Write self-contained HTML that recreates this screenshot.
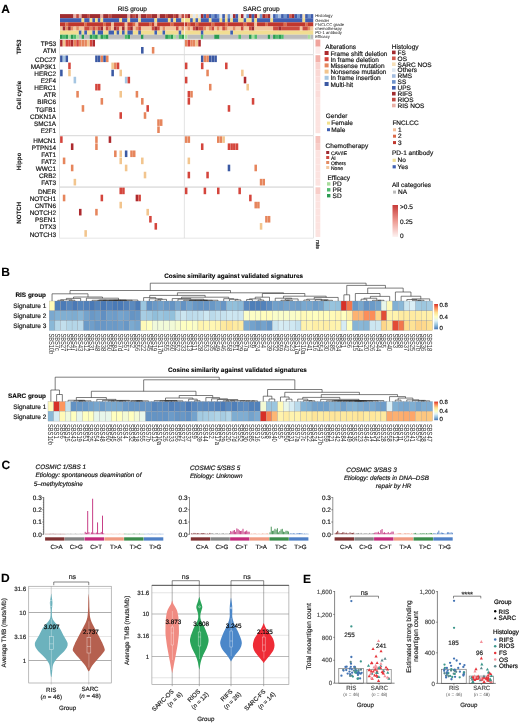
<!DOCTYPE html>
<html lang="en"><head><meta charset="utf-8"><title>Figure</title>
<style>
html,body{margin:0;padding:0;background:#fff;}
svg{display:block;font-family:"Liberation Sans", Arial, sans-serif;text-rendering:geometricPrecision;}
</style></head><body>
<svg width="520" height="723" viewBox="0 0 520 723">
<rect x="0" y="0" width="520" height="723" fill="#ffffff"/>
<g id="panelA">
<text x="1.30" y="13.20" font-size="12" font-weight="bold" fill="#000" stroke="#000" stroke-width="0.1">A</text>
<text x="132.30" y="10.80" font-size="6.5" text-anchor="middle" fill="#111" stroke="#111" stroke-width="0.17">RIS group</text>
<text x="261.30" y="10.80" font-size="6.5" text-anchor="middle" fill="#111" stroke="#111" stroke-width="0.17">SARC group</text>
<rect x="60.00" y="14.10" width="13.54" height="4.17" fill="#a02d30"/>
<rect x="73.49" y="14.10" width="2.75" height="4.17" fill="#eab0a6"/>
<rect x="76.19" y="14.10" width="2.75" height="4.17" fill="#bf4a42"/>
<rect x="78.88" y="14.10" width="2.75" height="4.17" fill="#eab0a6"/>
<rect x="81.58" y="14.10" width="5.45" height="4.17" fill="#a02d30"/>
<rect x="86.98" y="14.10" width="2.75" height="4.17" fill="#bf4a42"/>
<rect x="89.68" y="14.10" width="10.84" height="4.17" fill="#a02d30"/>
<rect x="100.47" y="14.10" width="2.75" height="4.17" fill="#eab0a6"/>
<rect x="103.17" y="14.10" width="5.45" height="4.17" fill="#a02d30"/>
<rect x="108.56" y="14.10" width="2.75" height="4.17" fill="#bf4a42"/>
<rect x="111.26" y="14.10" width="16.24" height="4.17" fill="#a02d30"/>
<rect x="127.45" y="14.10" width="2.75" height="4.17" fill="#eab0a6"/>
<rect x="130.14" y="14.10" width="2.75" height="4.17" fill="#a02d30"/>
<rect x="132.84" y="14.10" width="2.75" height="4.17" fill="#bf4a42"/>
<rect x="135.54" y="14.10" width="2.75" height="4.17" fill="#a02d30"/>
<rect x="138.24" y="14.10" width="2.75" height="4.17" fill="#eab0a6"/>
<rect x="140.93" y="14.10" width="5.45" height="4.17" fill="#a02d30"/>
<rect x="146.33" y="14.10" width="5.45" height="4.17" fill="#bf4a42"/>
<rect x="151.73" y="14.10" width="5.45" height="4.17" fill="#a02d30"/>
<rect x="157.12" y="14.10" width="2.75" height="4.17" fill="#eab0a6"/>
<rect x="159.82" y="14.10" width="5.45" height="4.17" fill="#a02d30"/>
<rect x="165.22" y="14.10" width="2.75" height="4.17" fill="#bf4a42"/>
<rect x="167.91" y="14.10" width="5.45" height="4.17" fill="#a02d30"/>
<rect x="173.31" y="14.10" width="2.75" height="4.17" fill="#bf4a42"/>
<rect x="176.01" y="14.10" width="2.75" height="4.17" fill="#a02d30"/>
<rect x="178.70" y="14.10" width="2.75" height="4.17" fill="#eab0a6"/>
<rect x="181.40" y="14.10" width="2.75" height="4.17" fill="#bf4a42"/>
<rect x="184.80" y="14.10" width="2.73" height="4.17" fill="#cf5a4e"/>
<rect x="187.48" y="14.10" width="2.73" height="4.17" fill="#a32b30"/>
<rect x="190.15" y="14.10" width="2.73" height="4.17" fill="#f6dfb8"/>
<rect x="192.83" y="14.10" width="2.73" height="4.17" fill="#dfe8f1"/>
<rect x="195.50" y="14.10" width="2.73" height="4.17" fill="#f6dfb8"/>
<rect x="198.18" y="14.10" width="2.73" height="4.17" fill="#dfe8f1"/>
<rect x="200.85" y="14.10" width="2.73" height="4.17" fill="#a32b30"/>
<rect x="203.53" y="14.10" width="2.73" height="4.17" fill="#3f5dab"/>
<rect x="206.20" y="14.10" width="2.73" height="4.17" fill="#cf5a4e"/>
<rect x="208.88" y="14.10" width="2.73" height="4.17" fill="#3f5dab"/>
<rect x="211.55" y="14.10" width="2.73" height="4.17" fill="#6f93cc"/>
<rect x="214.23" y="14.10" width="2.73" height="4.17" fill="#3f5dab"/>
<rect x="216.90" y="14.10" width="2.73" height="4.17" fill="#6f93cc"/>
<rect x="219.58" y="14.10" width="2.73" height="4.17" fill="#dfe8f1"/>
<rect x="222.25" y="14.10" width="2.73" height="4.17" fill="#3f5dab"/>
<rect x="224.93" y="14.10" width="2.73" height="4.17" fill="#f6dfb8"/>
<rect x="227.60" y="14.10" width="2.73" height="4.17" fill="#6f93cc"/>
<rect x="230.28" y="14.10" width="2.73" height="4.17" fill="#dfe8f1"/>
<rect x="232.95" y="14.10" width="2.73" height="4.17" fill="#a32b30"/>
<rect x="235.62" y="14.10" width="2.73" height="4.17" fill="#3f5dab"/>
<rect x="238.30" y="14.10" width="2.73" height="4.17" fill="#f6dfb8"/>
<rect x="240.98" y="14.10" width="2.73" height="4.17" fill="#a32b30"/>
<rect x="243.65" y="14.10" width="2.73" height="4.17" fill="#dfe8f1"/>
<rect x="246.33" y="14.10" width="2.73" height="4.17" fill="#6f93cc"/>
<rect x="249.00" y="14.10" width="2.73" height="4.17" fill="#a32b30"/>
<rect x="251.68" y="14.10" width="2.73" height="4.17" fill="#3f5dab"/>
<rect x="254.35" y="14.10" width="2.73" height="4.17" fill="#a32b30"/>
<rect x="257.03" y="14.10" width="2.73" height="4.17" fill="#f6dfb8"/>
<rect x="259.70" y="14.10" width="2.73" height="4.17" fill="#6f93cc"/>
<rect x="262.38" y="14.10" width="2.73" height="4.17" fill="#a32b30"/>
<rect x="265.05" y="14.10" width="2.73" height="4.17" fill="#cf5a4e"/>
<rect x="267.73" y="14.10" width="2.73" height="4.17" fill="#a32b30"/>
<rect x="270.40" y="14.10" width="2.73" height="4.17" fill="#dfe8f1"/>
<rect x="273.08" y="14.10" width="2.73" height="4.17" fill="#3f5dab"/>
<rect x="275.75" y="14.10" width="2.73" height="4.17" fill="#6f93cc"/>
<rect x="278.43" y="14.10" width="2.73" height="4.17" fill="#a3bcdf"/>
<rect x="281.10" y="14.10" width="2.73" height="4.17" fill="#3f5dab"/>
<rect x="283.78" y="14.10" width="2.73" height="4.17" fill="#6f93cc"/>
<rect x="286.45" y="14.10" width="2.73" height="4.17" fill="#3f5dab"/>
<rect x="289.12" y="14.10" width="2.73" height="4.17" fill="#cf5a4e"/>
<rect x="291.80" y="14.10" width="2.73" height="4.17" fill="#a32b30"/>
<rect x="294.48" y="14.10" width="2.73" height="4.17" fill="#3f5dab"/>
<rect x="297.15" y="14.10" width="2.73" height="4.17" fill="#6f93cc"/>
<rect x="299.83" y="14.10" width="2.73" height="4.17" fill="#3f5dab"/>
<rect x="302.50" y="14.10" width="2.73" height="4.17" fill="#f6dfb8"/>
<rect x="305.18" y="14.10" width="2.73" height="4.17" fill="#3f5dab"/>
<rect x="307.85" y="14.10" width="2.73" height="4.17" fill="#6f93cc"/>
<rect x="310.53" y="14.10" width="2.73" height="4.17" fill="#3f5dab"/>
<rect x="60.00" y="18.22" width="21.63" height="4.17" fill="#3f5fb2"/>
<rect x="81.58" y="18.22" width="2.75" height="4.17" fill="#f2e08c"/>
<rect x="84.28" y="18.22" width="5.45" height="4.17" fill="#3f5fb2"/>
<rect x="89.68" y="18.22" width="2.75" height="4.17" fill="#f2e08c"/>
<rect x="92.37" y="18.22" width="2.75" height="4.17" fill="#3f5fb2"/>
<rect x="95.07" y="18.22" width="2.75" height="4.17" fill="#f2e08c"/>
<rect x="97.77" y="18.22" width="2.75" height="4.17" fill="#3f5fb2"/>
<rect x="100.47" y="18.22" width="2.75" height="4.17" fill="#f2e08c"/>
<rect x="103.17" y="18.22" width="16.24" height="4.17" fill="#3f5fb2"/>
<rect x="119.35" y="18.22" width="2.75" height="4.17" fill="#f2e08c"/>
<rect x="122.05" y="18.22" width="5.45" height="4.17" fill="#3f5fb2"/>
<rect x="127.45" y="18.22" width="2.75" height="4.17" fill="#f2e08c"/>
<rect x="130.14" y="18.22" width="8.14" height="4.17" fill="#3f5fb2"/>
<rect x="138.24" y="18.22" width="2.75" height="4.17" fill="#f2e08c"/>
<rect x="140.93" y="18.22" width="13.54" height="4.17" fill="#3f5fb2"/>
<rect x="154.42" y="18.22" width="2.75" height="4.17" fill="#f2e08c"/>
<rect x="157.12" y="18.22" width="10.84" height="4.17" fill="#3f5fb2"/>
<rect x="167.91" y="18.22" width="2.75" height="4.17" fill="#f2e08c"/>
<rect x="170.61" y="18.22" width="2.75" height="4.17" fill="#3f5fb2"/>
<rect x="173.31" y="18.22" width="2.75" height="4.17" fill="#f2e08c"/>
<rect x="176.01" y="18.22" width="5.45" height="4.17" fill="#3f5fb2"/>
<rect x="181.40" y="18.22" width="2.75" height="4.17" fill="#f2e08c"/>
<rect x="184.80" y="18.22" width="5.40" height="4.17" fill="#f2e08c"/>
<rect x="190.15" y="18.22" width="2.73" height="4.17" fill="#3f5fb2"/>
<rect x="192.83" y="18.22" width="2.73" height="4.17" fill="#f2e08c"/>
<rect x="195.50" y="18.22" width="2.73" height="4.17" fill="#3f5fb2"/>
<rect x="198.18" y="18.22" width="2.73" height="4.17" fill="#f2e08c"/>
<rect x="200.85" y="18.22" width="8.08" height="4.17" fill="#3f5fb2"/>
<rect x="208.88" y="18.22" width="2.73" height="4.17" fill="#f2e08c"/>
<rect x="211.55" y="18.22" width="8.08" height="4.17" fill="#3f5fb2"/>
<rect x="219.58" y="18.22" width="2.73" height="4.17" fill="#f2e08c"/>
<rect x="222.25" y="18.22" width="2.73" height="4.17" fill="#3f5fb2"/>
<rect x="224.93" y="18.22" width="2.73" height="4.17" fill="#f2e08c"/>
<rect x="227.60" y="18.22" width="2.73" height="4.17" fill="#3f5fb2"/>
<rect x="230.28" y="18.22" width="2.73" height="4.17" fill="#f2e08c"/>
<rect x="232.95" y="18.22" width="5.40" height="4.17" fill="#3f5fb2"/>
<rect x="238.30" y="18.22" width="5.40" height="4.17" fill="#f2e08c"/>
<rect x="243.65" y="18.22" width="2.73" height="4.17" fill="#3f5fb2"/>
<rect x="246.33" y="18.22" width="5.40" height="4.17" fill="#f2e08c"/>
<rect x="251.68" y="18.22" width="2.73" height="4.17" fill="#3f5fb2"/>
<rect x="254.35" y="18.22" width="2.73" height="4.17" fill="#f2e08c"/>
<rect x="257.03" y="18.22" width="13.43" height="4.17" fill="#3f5fb2"/>
<rect x="270.40" y="18.22" width="2.73" height="4.17" fill="#f2e08c"/>
<rect x="273.08" y="18.22" width="29.48" height="4.17" fill="#3f5fb2"/>
<rect x="302.50" y="18.22" width="2.73" height="4.17" fill="#f2e08c"/>
<rect x="305.18" y="18.22" width="8.08" height="4.17" fill="#3f5fb2"/>
<rect x="60.00" y="22.34" width="5.45" height="4.17" fill="#c0372d"/>
<rect x="65.40" y="22.34" width="2.75" height="4.17" fill="#dc6a48"/>
<rect x="68.09" y="22.34" width="16.24" height="4.17" fill="#c0372d"/>
<rect x="84.28" y="22.34" width="2.75" height="4.17" fill="#dc6a48"/>
<rect x="86.98" y="22.34" width="16.24" height="4.17" fill="#c0372d"/>
<rect x="103.17" y="22.34" width="2.75" height="4.17" fill="#dc6a48"/>
<rect x="105.86" y="22.34" width="5.45" height="4.17" fill="#c0372d"/>
<rect x="111.26" y="22.34" width="2.75" height="4.17" fill="#f3bf98"/>
<rect x="113.96" y="22.34" width="10.84" height="4.17" fill="#c0372d"/>
<rect x="124.75" y="22.34" width="2.75" height="4.17" fill="#f3bf98"/>
<rect x="127.45" y="22.34" width="5.45" height="4.17" fill="#c0372d"/>
<rect x="132.84" y="22.34" width="2.75" height="4.17" fill="#dc6a48"/>
<rect x="135.54" y="22.34" width="2.75" height="4.17" fill="#f3bf98"/>
<rect x="138.24" y="22.34" width="10.84" height="4.17" fill="#c0372d"/>
<rect x="149.03" y="22.34" width="2.75" height="4.17" fill="#dc6a48"/>
<rect x="151.73" y="22.34" width="2.75" height="4.17" fill="#c0372d"/>
<rect x="154.42" y="22.34" width="2.75" height="4.17" fill="#f3bf98"/>
<rect x="157.12" y="22.34" width="13.54" height="4.17" fill="#c0372d"/>
<rect x="170.61" y="22.34" width="2.75" height="4.17" fill="#dc6a48"/>
<rect x="173.31" y="22.34" width="10.84" height="4.17" fill="#c0372d"/>
<rect x="184.80" y="22.34" width="2.73" height="4.17" fill="#c0372d"/>
<rect x="187.48" y="22.34" width="2.73" height="4.17" fill="#dc6a48"/>
<rect x="190.15" y="22.34" width="5.40" height="4.17" fill="#c0372d"/>
<rect x="195.50" y="22.34" width="2.73" height="4.17" fill="#dc6a48"/>
<rect x="198.18" y="22.34" width="13.43" height="4.17" fill="#c0372d"/>
<rect x="211.55" y="22.34" width="2.73" height="4.17" fill="#dc6a48"/>
<rect x="214.23" y="22.34" width="10.75" height="4.17" fill="#c0372d"/>
<rect x="224.93" y="22.34" width="2.73" height="4.17" fill="#dc6a48"/>
<rect x="227.60" y="22.34" width="16.10" height="4.17" fill="#c0372d"/>
<rect x="243.65" y="22.34" width="2.73" height="4.17" fill="#dc6a48"/>
<rect x="246.33" y="22.34" width="8.08" height="4.17" fill="#c0372d"/>
<rect x="254.35" y="22.34" width="2.73" height="4.17" fill="#f3bf98"/>
<rect x="257.03" y="22.34" width="8.07" height="4.17" fill="#c0372d"/>
<rect x="265.05" y="22.34" width="2.73" height="4.17" fill="#dc6a48"/>
<rect x="267.73" y="22.34" width="16.10" height="4.17" fill="#c0372d"/>
<rect x="283.78" y="22.34" width="2.73" height="4.17" fill="#dc6a48"/>
<rect x="286.45" y="22.34" width="18.77" height="4.17" fill="#c0372d"/>
<rect x="305.18" y="22.34" width="2.73" height="4.17" fill="#dc6a48"/>
<rect x="307.85" y="22.34" width="5.40" height="4.17" fill="#c0372d"/>
<rect x="60.00" y="26.46" width="2.75" height="4.17" fill="#f3c79e"/>
<rect x="62.70" y="26.46" width="2.75" height="4.17" fill="#9e2a30"/>
<rect x="65.40" y="26.46" width="2.75" height="4.17" fill="#e38b63"/>
<rect x="68.09" y="26.46" width="2.75" height="4.17" fill="#9e2a30"/>
<rect x="70.79" y="26.46" width="2.75" height="4.17" fill="#e38b63"/>
<rect x="73.49" y="26.46" width="2.75" height="4.17" fill="#f3c79e"/>
<rect x="76.19" y="26.46" width="2.75" height="4.17" fill="#e38b63"/>
<rect x="78.88" y="26.46" width="5.45" height="4.17" fill="#f3c79e"/>
<rect x="84.28" y="26.46" width="5.45" height="4.17" fill="#cb4a3f"/>
<rect x="89.68" y="26.46" width="2.75" height="4.17" fill="#e38b63"/>
<rect x="92.37" y="26.46" width="2.75" height="4.17" fill="#cb4a3f"/>
<rect x="95.07" y="26.46" width="2.75" height="4.17" fill="#e38b63"/>
<rect x="97.77" y="26.46" width="2.75" height="4.17" fill="#cb4a3f"/>
<rect x="100.47" y="26.46" width="2.75" height="4.17" fill="#9e2a30"/>
<rect x="103.17" y="26.46" width="2.75" height="4.17" fill="#f3c79e"/>
<rect x="105.86" y="26.46" width="2.75" height="4.17" fill="#cb4a3f"/>
<rect x="108.56" y="26.46" width="2.75" height="4.17" fill="#e38b63"/>
<rect x="111.26" y="26.46" width="2.75" height="4.17" fill="#f3c79e"/>
<rect x="113.96" y="26.46" width="2.75" height="4.17" fill="#9e2a30"/>
<rect x="116.65" y="26.46" width="2.75" height="4.17" fill="#cb4a3f"/>
<rect x="119.35" y="26.46" width="2.75" height="4.17" fill="#f3c79e"/>
<rect x="122.05" y="26.46" width="2.75" height="4.17" fill="#9e2a30"/>
<rect x="124.75" y="26.46" width="2.75" height="4.17" fill="#f3c79e"/>
<rect x="127.45" y="26.46" width="2.75" height="4.17" fill="#cb4a3f"/>
<rect x="130.14" y="26.46" width="2.75" height="4.17" fill="#9e2a30"/>
<rect x="132.84" y="26.46" width="2.75" height="4.17" fill="#f3c79e"/>
<rect x="135.54" y="26.46" width="2.75" height="4.17" fill="#e38b63"/>
<rect x="138.24" y="26.46" width="2.75" height="4.17" fill="#cb4a3f"/>
<rect x="140.93" y="26.46" width="10.84" height="4.17" fill="#f3c79e"/>
<rect x="151.73" y="26.46" width="2.75" height="4.17" fill="#cb4a3f"/>
<rect x="154.42" y="26.46" width="2.75" height="4.17" fill="#9e2a30"/>
<rect x="157.12" y="26.46" width="2.75" height="4.17" fill="#cb4a3f"/>
<rect x="159.82" y="26.46" width="2.75" height="4.17" fill="#f3c79e"/>
<rect x="162.52" y="26.46" width="2.75" height="4.17" fill="#e38b63"/>
<rect x="165.22" y="26.46" width="10.84" height="4.17" fill="#f3c79e"/>
<rect x="176.01" y="26.46" width="2.75" height="4.17" fill="#cb4a3f"/>
<rect x="178.70" y="26.46" width="2.75" height="4.17" fill="#f3c79e"/>
<rect x="181.40" y="26.46" width="2.75" height="4.17" fill="#e38b63"/>
<rect x="184.80" y="26.46" width="2.73" height="4.17" fill="#f3c79e"/>
<rect x="187.48" y="26.46" width="2.73" height="4.17" fill="#e38b63"/>
<rect x="190.15" y="26.46" width="2.73" height="4.17" fill="#f3c79e"/>
<rect x="192.83" y="26.46" width="2.73" height="4.17" fill="#cb4a3f"/>
<rect x="195.50" y="26.46" width="2.73" height="4.17" fill="#9e2a30"/>
<rect x="198.18" y="26.46" width="5.40" height="4.17" fill="#cb4a3f"/>
<rect x="203.53" y="26.46" width="2.73" height="4.17" fill="#e38b63"/>
<rect x="206.20" y="26.46" width="2.73" height="4.17" fill="#f3c79e"/>
<rect x="208.88" y="26.46" width="2.73" height="4.17" fill="#e38b63"/>
<rect x="211.55" y="26.46" width="2.73" height="4.17" fill="#cb4a3f"/>
<rect x="214.23" y="26.46" width="2.73" height="4.17" fill="#f3c79e"/>
<rect x="216.90" y="26.46" width="2.73" height="4.17" fill="#e38b63"/>
<rect x="219.58" y="26.46" width="2.73" height="4.17" fill="#f3c79e"/>
<rect x="222.25" y="26.46" width="2.73" height="4.17" fill="#cb4a3f"/>
<rect x="224.93" y="26.46" width="2.73" height="4.17" fill="#e38b63"/>
<rect x="227.60" y="26.46" width="5.40" height="4.17" fill="#f3c79e"/>
<rect x="232.95" y="26.46" width="2.73" height="4.17" fill="#e38b63"/>
<rect x="235.62" y="26.46" width="5.40" height="4.17" fill="#f3c79e"/>
<rect x="240.98" y="26.46" width="2.73" height="4.17" fill="#cb4a3f"/>
<rect x="243.65" y="26.46" width="5.40" height="4.17" fill="#f3c79e"/>
<rect x="249.00" y="26.46" width="2.73" height="4.17" fill="#cb4a3f"/>
<rect x="251.68" y="26.46" width="2.73" height="4.17" fill="#9e2a30"/>
<rect x="254.35" y="26.46" width="18.78" height="4.17" fill="#f3c79e"/>
<rect x="273.08" y="26.46" width="5.40" height="4.17" fill="#cb4a3f"/>
<rect x="278.43" y="26.46" width="2.73" height="4.17" fill="#9e2a30"/>
<rect x="281.10" y="26.46" width="18.78" height="4.17" fill="#cb4a3f"/>
<rect x="299.83" y="26.46" width="2.73" height="4.17" fill="#f3c79e"/>
<rect x="302.50" y="26.46" width="5.40" height="4.17" fill="#cb4a3f"/>
<rect x="307.85" y="26.46" width="2.73" height="4.17" fill="#e38b63"/>
<rect x="310.53" y="26.46" width="2.73" height="4.17" fill="#f3c79e"/>
<rect x="60.00" y="30.58" width="18.93" height="4.17" fill="#f1dd92"/>
<rect x="78.88" y="30.58" width="2.75" height="4.17" fill="#3f5fb2"/>
<rect x="81.58" y="30.58" width="2.75" height="4.17" fill="#f1dd92"/>
<rect x="84.28" y="30.58" width="2.75" height="4.17" fill="#3f5fb2"/>
<rect x="86.98" y="30.58" width="5.45" height="4.17" fill="#f1dd92"/>
<rect x="92.37" y="30.58" width="2.75" height="4.17" fill="#3f5fb2"/>
<rect x="95.07" y="30.58" width="2.75" height="4.17" fill="#f1dd92"/>
<rect x="97.77" y="30.58" width="5.45" height="4.17" fill="#3f5fb2"/>
<rect x="103.17" y="30.58" width="5.45" height="4.17" fill="#f1dd92"/>
<rect x="108.56" y="30.58" width="5.45" height="4.17" fill="#3f5fb2"/>
<rect x="113.96" y="30.58" width="2.75" height="4.17" fill="#f1dd92"/>
<rect x="116.65" y="30.58" width="2.75" height="4.17" fill="#3f5fb2"/>
<rect x="119.35" y="30.58" width="2.75" height="4.17" fill="#f1dd92"/>
<rect x="122.05" y="30.58" width="2.75" height="4.17" fill="#3f5fb2"/>
<rect x="124.75" y="30.58" width="2.75" height="4.17" fill="#f1dd92"/>
<rect x="127.45" y="30.58" width="5.45" height="4.17" fill="#3f5fb2"/>
<rect x="132.84" y="30.58" width="5.45" height="4.17" fill="#f1dd92"/>
<rect x="138.24" y="30.58" width="2.75" height="4.17" fill="#3f5fb2"/>
<rect x="140.93" y="30.58" width="13.54" height="4.17" fill="#f1dd92"/>
<rect x="154.42" y="30.58" width="2.75" height="4.17" fill="#3f5fb2"/>
<rect x="157.12" y="30.58" width="5.45" height="4.17" fill="#f1dd92"/>
<rect x="162.52" y="30.58" width="2.75" height="4.17" fill="#3f5fb2"/>
<rect x="165.22" y="30.58" width="13.54" height="4.17" fill="#f1dd92"/>
<rect x="178.70" y="30.58" width="2.75" height="4.17" fill="#3f5fb2"/>
<rect x="181.40" y="30.58" width="2.75" height="4.17" fill="#f1dd92"/>
<rect x="184.80" y="30.58" width="16.10" height="4.17" fill="#f1dd92"/>
<rect x="200.85" y="30.58" width="2.73" height="4.17" fill="#3f5fb2"/>
<rect x="203.53" y="30.58" width="26.80" height="4.17" fill="#f1dd92"/>
<rect x="230.28" y="30.58" width="2.73" height="4.17" fill="#3f5fb2"/>
<rect x="232.95" y="30.58" width="80.30" height="4.17" fill="#f1dd92"/>
<rect x="60.00" y="34.70" width="2.75" height="4.17" fill="#2b9b52"/>
<rect x="62.70" y="34.70" width="2.75" height="4.17" fill="#4fba6c"/>
<rect x="65.40" y="34.70" width="2.75" height="4.17" fill="#2b9b52"/>
<rect x="68.09" y="34.70" width="2.75" height="4.17" fill="#a9dd9c"/>
<rect x="70.79" y="34.70" width="2.75" height="4.17" fill="#2b9b52"/>
<rect x="73.49" y="34.70" width="2.75" height="4.17" fill="#4fba6c"/>
<rect x="76.19" y="34.70" width="2.75" height="4.17" fill="#a9dd9c"/>
<rect x="78.88" y="34.70" width="2.75" height="4.17" fill="#bcbcbc"/>
<rect x="81.58" y="34.70" width="2.75" height="4.17" fill="#2b9b52"/>
<rect x="84.28" y="34.70" width="5.45" height="4.17" fill="#bcbcbc"/>
<rect x="89.68" y="34.70" width="2.75" height="4.17" fill="#2b9b52"/>
<rect x="92.37" y="34.70" width="2.75" height="4.17" fill="#4fba6c"/>
<rect x="95.07" y="34.70" width="2.75" height="4.17" fill="#2b9b52"/>
<rect x="97.77" y="34.70" width="2.75" height="4.17" fill="#a9dd9c"/>
<rect x="100.47" y="34.70" width="2.75" height="4.17" fill="#2b9b52"/>
<rect x="103.17" y="34.70" width="2.75" height="4.17" fill="#4fba6c"/>
<rect x="105.86" y="34.70" width="2.75" height="4.17" fill="#2b9b52"/>
<rect x="108.56" y="34.70" width="16.24" height="4.17" fill="#bcbcbc"/>
<rect x="124.75" y="34.70" width="2.75" height="4.17" fill="#4fba6c"/>
<rect x="127.45" y="34.70" width="2.75" height="4.17" fill="#2b9b52"/>
<rect x="130.14" y="34.70" width="10.84" height="4.17" fill="#bcbcbc"/>
<rect x="140.93" y="34.70" width="2.75" height="4.17" fill="#2b9b52"/>
<rect x="143.63" y="34.70" width="21.63" height="4.17" fill="#bcbcbc"/>
<rect x="165.22" y="34.70" width="2.75" height="4.17" fill="#2b9b52"/>
<rect x="167.91" y="34.70" width="2.75" height="4.17" fill="#4fba6c"/>
<rect x="170.61" y="34.70" width="2.75" height="4.17" fill="#2b9b52"/>
<rect x="173.31" y="34.70" width="2.75" height="4.17" fill="#a9dd9c"/>
<rect x="176.01" y="34.70" width="2.75" height="4.17" fill="#bcbcbc"/>
<rect x="178.70" y="34.70" width="2.75" height="4.17" fill="#4fba6c"/>
<rect x="181.40" y="34.70" width="2.75" height="4.17" fill="#2b9b52"/>
<rect x="184.80" y="34.70" width="2.73" height="4.17" fill="#a9dd9c"/>
<rect x="187.48" y="34.70" width="13.43" height="4.17" fill="#bcbcbc"/>
<rect x="200.85" y="34.70" width="2.73" height="4.17" fill="#4fba6c"/>
<rect x="203.53" y="34.70" width="10.75" height="4.17" fill="#bcbcbc"/>
<rect x="214.23" y="34.70" width="5.40" height="4.17" fill="#2b9b52"/>
<rect x="219.58" y="34.70" width="18.77" height="4.17" fill="#bcbcbc"/>
<rect x="238.30" y="34.70" width="2.73" height="4.17" fill="#4fba6c"/>
<rect x="240.98" y="34.70" width="8.08" height="4.17" fill="#bcbcbc"/>
<rect x="249.00" y="34.70" width="2.73" height="4.17" fill="#2b9b52"/>
<rect x="251.68" y="34.70" width="2.73" height="4.17" fill="#a9dd9c"/>
<rect x="254.35" y="34.70" width="2.73" height="4.17" fill="#4fba6c"/>
<rect x="257.03" y="34.70" width="10.75" height="4.17" fill="#bcbcbc"/>
<rect x="267.73" y="34.70" width="2.73" height="4.17" fill="#2b9b52"/>
<rect x="270.40" y="34.70" width="2.73" height="4.17" fill="#bcbcbc"/>
<rect x="273.08" y="34.70" width="2.73" height="4.17" fill="#2b9b52"/>
<rect x="275.75" y="34.70" width="2.73" height="4.17" fill="#4fba6c"/>
<rect x="278.43" y="34.70" width="2.73" height="4.17" fill="#2b9b52"/>
<rect x="281.10" y="34.70" width="2.73" height="4.17" fill="#4fba6c"/>
<rect x="283.78" y="34.70" width="24.12" height="4.17" fill="#bcbcbc"/>
<rect x="307.85" y="34.70" width="2.73" height="4.17" fill="#a9dd9c"/>
<rect x="310.53" y="34.70" width="2.73" height="4.17" fill="#bcbcbc"/>
<text x="315.30" y="17.40" font-size="4.2" fill="#111">Histology</text>
<text x="315.30" y="21.52" font-size="4.2" fill="#111">Gender</text>
<text x="315.30" y="25.64" font-size="4.2" fill="#111">FNCLCC grade</text>
<text x="315.30" y="29.76" font-size="4.2" fill="#111">chemotherapy</text>
<text x="315.30" y="33.88" font-size="4.2" fill="#111">PD-1 antibody</text>
<text x="315.30" y="38.00" font-size="4.2" fill="#111">Efficacy</text>
<rect x="59.7" y="39.6" width="253.6" height="14.70" fill="none" stroke="#d4d4d4" stroke-width="0.6"/>
<line x1="184.35" y1="39.60" x2="184.35" y2="54.30" stroke="#cfcfcf" stroke-width="0.6"/>
<text x="21.20" y="46.95" font-size="6.2" text-anchor="middle" font-weight="bold" fill="#111" stroke="#111" stroke-width="0.1" transform="rotate(-90 21.20 46.95)">TP53</text>
<text x="56.00" y="46.30" font-size="6.4" text-anchor="end" fill="#111" stroke="#111" stroke-width="0.17">TP53</text>
<rect x="60.10" y="39.90" width="2.55" height="6.60" fill="#ad2a2e"/>
<rect x="62.80" y="39.90" width="2.55" height="6.60" fill="#f2c58e"/>
<rect x="65.50" y="39.90" width="2.55" height="6.60" fill="#d4453c"/>
<rect x="68.19" y="39.90" width="2.55" height="6.60" fill="#d4453c"/>
<rect x="70.89" y="39.90" width="2.55" height="6.60" fill="#ad2a2e"/>
<rect x="73.59" y="39.90" width="2.55" height="6.60" fill="#e6855c"/>
<rect x="76.29" y="39.90" width="2.55" height="6.60" fill="#d4453c"/>
<rect x="78.98" y="39.90" width="2.55" height="6.60" fill="#e6855c"/>
<rect x="81.68" y="39.90" width="2.55" height="6.60" fill="#e6855c"/>
<rect x="84.38" y="39.90" width="2.55" height="6.60" fill="#e6855c"/>
<rect x="87.08" y="39.90" width="2.55" height="6.60" fill="#f2c58e"/>
<rect x="89.78" y="39.90" width="2.55" height="6.60" fill="#d4453c"/>
<rect x="92.47" y="39.90" width="2.55" height="6.60" fill="#ad2a2e"/>
<rect x="184.90" y="39.90" width="2.53" height="6.60" fill="#e6855c"/>
<rect x="187.58" y="39.90" width="2.53" height="6.60" fill="#d4453c"/>
<rect x="190.25" y="39.90" width="2.53" height="6.60" fill="#e6855c"/>
<rect x="192.93" y="39.90" width="2.53" height="6.60" fill="#e6855c"/>
<rect x="195.60" y="39.90" width="2.53" height="6.60" fill="#f2c58e"/>
<rect x="198.28" y="39.90" width="2.53" height="6.60" fill="#ad2a2e"/>
<rect x="315.50" y="39.60" width="4.80" height="7.09" fill="#f0a39c"/>
<text x="56.00" y="53.39" font-size="6.4" text-anchor="end" fill="#111" stroke="#111" stroke-width="0.17">ATM</text>
<rect x="141.03" y="46.99" width="2.55" height="6.60" fill="#3b59a3"/>
<rect x="151.83" y="46.99" width="2.55" height="6.60" fill="#e6855c"/>
<rect x="315.50" y="46.69" width="4.80" height="7.09" fill="#fdeceb"/>
<rect x="59.7" y="54.9" width="253.6" height="80.50" fill="none" stroke="#d4d4d4" stroke-width="0.6"/>
<line x1="184.35" y1="54.90" x2="184.35" y2="135.40" stroke="#cfcfcf" stroke-width="0.6"/>
<text x="21.20" y="95.15" font-size="6.2" text-anchor="middle" font-weight="bold" fill="#111" stroke="#111" stroke-width="0.1" transform="rotate(-90 21.20 95.15)">Cell cycle</text>
<text x="56.00" y="61.90" font-size="6.4" text-anchor="end" fill="#111" stroke="#111" stroke-width="0.17">CDC27</text>
<rect x="60.10" y="55.50" width="2.55" height="6.60" fill="#3b59a3"/>
<rect x="62.80" y="55.50" width="2.55" height="6.60" fill="#a5c6e2"/>
<rect x="65.50" y="55.50" width="2.55" height="6.60" fill="#3b59a3"/>
<rect x="95.17" y="55.50" width="2.55" height="6.60" fill="#3b59a3"/>
<rect x="97.87" y="55.50" width="2.55" height="6.60" fill="#3b59a3"/>
<rect x="100.57" y="55.50" width="2.55" height="6.60" fill="#e6855c"/>
<rect x="103.27" y="55.50" width="2.55" height="6.60" fill="#3b59a3"/>
<rect x="105.96" y="55.50" width="2.55" height="6.60" fill="#e6855c"/>
<rect x="200.95" y="55.50" width="2.53" height="6.60" fill="#3b59a3"/>
<rect x="203.62" y="55.50" width="2.53" height="6.60" fill="#e6855c"/>
<rect x="206.30" y="55.50" width="2.53" height="6.60" fill="#e6855c"/>
<rect x="208.97" y="55.50" width="2.53" height="6.60" fill="#3b59a3"/>
<rect x="211.65" y="55.50" width="2.53" height="6.60" fill="#3b59a3"/>
<rect x="214.33" y="55.50" width="2.53" height="6.60" fill="#3b59a3"/>
<rect x="315.50" y="55.20" width="4.80" height="7.09" fill="#f3b1aa"/>
<text x="56.00" y="68.99" font-size="6.4" text-anchor="end" fill="#111" stroke="#111" stroke-width="0.17">MAP3K1</text>
<rect x="68.19" y="62.59" width="2.55" height="6.60" fill="#d4453c"/>
<rect x="111.36" y="62.59" width="2.55" height="6.60" fill="#f2c58e"/>
<rect x="114.06" y="62.59" width="2.55" height="6.60" fill="#e6855c"/>
<rect x="116.75" y="62.59" width="2.55" height="6.60" fill="#d4453c"/>
<rect x="184.90" y="62.59" width="2.53" height="6.60" fill="#d4453c"/>
<rect x="200.95" y="62.59" width="2.53" height="6.60" fill="#d4453c"/>
<rect x="225.03" y="62.59" width="2.53" height="6.60" fill="#d4453c"/>
<rect x="315.50" y="62.29" width="4.80" height="7.09" fill="#f9d3cf"/>
<text x="56.00" y="76.08" font-size="6.4" text-anchor="end" fill="#111" stroke="#111" stroke-width="0.17">HERC2</text>
<rect x="60.10" y="69.68" width="2.55" height="6.60" fill="#3b59a3"/>
<rect x="68.19" y="69.68" width="2.55" height="6.60" fill="#f2c58e"/>
<rect x="111.36" y="69.68" width="2.55" height="6.60" fill="#3b59a3"/>
<rect x="119.45" y="69.68" width="2.55" height="6.60" fill="#f2c58e"/>
<rect x="206.30" y="69.68" width="2.53" height="6.60" fill="#e6855c"/>
<rect x="241.08" y="69.68" width="2.53" height="6.60" fill="#f2c58e"/>
<rect x="315.50" y="69.38" width="4.80" height="7.09" fill="#fad8d4"/>
<text x="56.00" y="83.17" font-size="6.4" text-anchor="end" fill="#111" stroke="#111" stroke-width="0.17">E2F4</text>
<rect x="73.59" y="76.77" width="2.55" height="6.60" fill="#a5c6e2"/>
<rect x="124.85" y="76.77" width="2.55" height="6.60" fill="#a5c6e2"/>
<rect x="127.55" y="76.77" width="2.55" height="6.60" fill="#d4453c"/>
<rect x="184.90" y="76.77" width="2.53" height="6.60" fill="#d4453c"/>
<rect x="243.75" y="76.77" width="2.53" height="6.60" fill="#ad2a2e"/>
<rect x="315.50" y="76.47" width="4.80" height="7.09" fill="#fbdcd9"/>
<text x="56.00" y="90.26" font-size="6.4" text-anchor="end" fill="#111" stroke="#111" stroke-width="0.17">HERC1</text>
<rect x="95.17" y="83.86" width="2.55" height="6.60" fill="#d4453c"/>
<rect x="97.87" y="83.86" width="2.55" height="6.60" fill="#d4453c"/>
<rect x="208.97" y="83.86" width="2.53" height="6.60" fill="#e6855c"/>
<rect x="246.43" y="83.86" width="2.53" height="6.60" fill="#f2c58e"/>
<rect x="315.50" y="83.56" width="4.80" height="7.09" fill="#fbe0dd"/>
<text x="56.00" y="97.35" font-size="6.4" text-anchor="end" fill="#111" stroke="#111" stroke-width="0.17">ATR</text>
<rect x="76.29" y="90.95" width="2.55" height="6.60" fill="#e6855c"/>
<rect x="119.45" y="90.95" width="2.55" height="6.60" fill="#f2c58e"/>
<rect x="135.64" y="90.95" width="2.55" height="6.60" fill="#e6855c"/>
<rect x="187.58" y="90.95" width="2.53" height="6.60" fill="#d4453c"/>
<rect x="190.25" y="90.95" width="2.53" height="6.60" fill="#e6855c"/>
<rect x="315.50" y="90.65" width="4.80" height="7.09" fill="#fbdcd9"/>
<text x="56.00" y="104.44" font-size="6.4" text-anchor="end" fill="#111" stroke="#111" stroke-width="0.17">BIRC6</text>
<rect x="100.57" y="98.04" width="2.55" height="6.60" fill="#e6855c"/>
<rect x="141.03" y="98.04" width="2.55" height="6.60" fill="#e6855c"/>
<rect x="187.58" y="98.04" width="2.53" height="6.60" fill="#d4453c"/>
<rect x="251.78" y="98.04" width="2.53" height="6.60" fill="#d4453c"/>
<rect x="315.50" y="97.74" width="4.80" height="7.09" fill="#fce3e0"/>
<text x="56.00" y="111.53" font-size="6.4" text-anchor="end" fill="#111" stroke="#111" stroke-width="0.17">TGFB1</text>
<rect x="81.68" y="105.13" width="2.55" height="6.60" fill="#e6855c"/>
<rect x="146.43" y="105.13" width="2.55" height="6.60" fill="#d4453c"/>
<rect x="227.70" y="105.13" width="2.53" height="6.60" fill="#d4453c"/>
<rect x="315.50" y="104.83" width="4.80" height="7.09" fill="#fce3e0"/>
<text x="56.00" y="118.62" font-size="6.4" text-anchor="end" fill="#111" stroke="#111" stroke-width="0.17">CDKN1A</text>
<rect x="119.45" y="112.22" width="2.55" height="6.60" fill="#d4453c"/>
<rect x="143.73" y="112.22" width="2.55" height="6.60" fill="#e6855c"/>
<rect x="315.50" y="111.92" width="4.80" height="7.09" fill="#fce3e0"/>
<text x="56.00" y="125.71" font-size="6.4" text-anchor="end" fill="#111" stroke="#111" stroke-width="0.17">SMC1A</text>
<rect x="157.22" y="119.31" width="2.55" height="6.60" fill="#e6855c"/>
<rect x="159.92" y="119.31" width="2.55" height="6.60" fill="#e6855c"/>
<rect x="315.50" y="119.01" width="4.80" height="7.09" fill="#fce3e0"/>
<text x="56.00" y="132.80" font-size="6.4" text-anchor="end" fill="#111" stroke="#111" stroke-width="0.17">E2F1</text>
<rect x="157.22" y="126.40" width="2.55" height="6.60" fill="#e6855c"/>
<rect x="315.50" y="126.10" width="4.80" height="7.09" fill="#fce3e0"/>
<rect x="59.7" y="135.9" width="253.6" height="50.90" fill="none" stroke="#d4d4d4" stroke-width="0.6"/>
<line x1="184.35" y1="135.90" x2="184.35" y2="186.80" stroke="#cfcfcf" stroke-width="0.6"/>
<text x="21.20" y="161.35" font-size="6.2" text-anchor="middle" font-weight="bold" fill="#111" stroke="#111" stroke-width="0.1" transform="rotate(-90 21.20 161.35)">Hippo</text>
<text x="56.00" y="142.70" font-size="6.4" text-anchor="end" fill="#111" stroke="#111" stroke-width="0.17">HMCN1</text>
<rect x="60.10" y="136.30" width="2.55" height="6.60" fill="#d4453c"/>
<rect x="95.17" y="136.30" width="2.55" height="6.60" fill="#e6855c"/>
<rect x="108.66" y="136.30" width="2.55" height="6.60" fill="#ad2a2e"/>
<rect x="184.90" y="136.30" width="2.53" height="6.60" fill="#e6855c"/>
<rect x="187.58" y="136.30" width="2.53" height="6.60" fill="#e6855c"/>
<rect x="217.00" y="136.30" width="2.53" height="6.60" fill="#e6855c"/>
<rect x="219.68" y="136.30" width="2.53" height="6.60" fill="#e6855c"/>
<rect x="222.35" y="136.30" width="2.53" height="6.60" fill="#f2c58e"/>
<rect x="315.50" y="136.00" width="4.80" height="7.09" fill="#f6c3bd"/>
<text x="56.00" y="149.79" font-size="6.4" text-anchor="end" fill="#111" stroke="#111" stroke-width="0.17">PTPN14</text>
<rect x="70.89" y="143.39" width="2.55" height="6.60" fill="#ad2a2e"/>
<rect x="95.17" y="143.39" width="2.55" height="6.60" fill="#e6855c"/>
<rect x="200.95" y="143.39" width="2.53" height="6.60" fill="#d4453c"/>
<rect x="227.70" y="143.39" width="2.53" height="6.60" fill="#d4453c"/>
<rect x="230.38" y="143.39" width="2.53" height="6.60" fill="#d4453c"/>
<rect x="233.05" y="143.39" width="2.53" height="6.60" fill="#d4453c"/>
<rect x="235.72" y="143.39" width="2.53" height="6.60" fill="#d4453c"/>
<rect x="315.50" y="143.09" width="4.80" height="7.09" fill="#f8cdc8"/>
<text x="56.00" y="156.88" font-size="6.4" text-anchor="end" fill="#111" stroke="#111" stroke-width="0.17">FAT1</text>
<rect x="114.06" y="150.48" width="2.55" height="6.60" fill="#e6855c"/>
<rect x="119.45" y="150.48" width="2.55" height="6.60" fill="#f2c58e"/>
<rect x="124.85" y="150.48" width="2.55" height="6.60" fill="#3b59a3"/>
<rect x="130.24" y="150.48" width="2.55" height="6.60" fill="#e6855c"/>
<rect x="132.94" y="150.48" width="2.55" height="6.60" fill="#e6855c"/>
<rect x="315.50" y="150.18" width="4.80" height="7.09" fill="#fce3e0"/>
<text x="56.00" y="163.97" font-size="6.4" text-anchor="end" fill="#111" stroke="#111" stroke-width="0.17">FAT2</text>
<rect x="62.80" y="157.57" width="2.55" height="6.60" fill="#e6855c"/>
<rect x="119.45" y="157.57" width="2.55" height="6.60" fill="#f2c58e"/>
<rect x="141.03" y="157.57" width="2.55" height="6.60" fill="#f2c58e"/>
<rect x="187.58" y="157.57" width="2.53" height="6.60" fill="#f2c58e"/>
<rect x="315.50" y="157.27" width="4.80" height="7.09" fill="#fce3e0"/>
<text x="56.00" y="171.06" font-size="6.4" text-anchor="end" fill="#111" stroke="#111" stroke-width="0.17">WWC1</text>
<rect x="70.89" y="164.66" width="2.55" height="6.60" fill="#e6855c"/>
<rect x="124.85" y="164.66" width="2.55" height="6.60" fill="#f2c58e"/>
<rect x="227.70" y="164.66" width="2.53" height="6.60" fill="#3b59a3"/>
<rect x="254.45" y="164.66" width="2.53" height="6.60" fill="#e6855c"/>
<rect x="315.50" y="164.36" width="4.80" height="7.09" fill="#fce3e0"/>
<text x="56.00" y="178.15" font-size="6.4" text-anchor="end" fill="#111" stroke="#111" stroke-width="0.17">CRB2</text>
<rect x="143.73" y="171.75" width="2.55" height="6.60" fill="#f2c58e"/>
<rect x="187.58" y="171.75" width="2.53" height="6.60" fill="#d4453c"/>
<rect x="206.30" y="171.75" width="2.53" height="6.60" fill="#d4453c"/>
<rect x="315.50" y="171.45" width="4.80" height="7.09" fill="#fce3e0"/>
<text x="56.00" y="185.24" font-size="6.4" text-anchor="end" fill="#111" stroke="#111" stroke-width="0.17">FAT3</text>
<rect x="73.59" y="178.84" width="2.55" height="6.60" fill="#f2c58e"/>
<rect x="259.80" y="178.84" width="2.53" height="6.60" fill="#e6855c"/>
<rect x="262.48" y="178.84" width="2.53" height="6.60" fill="#e6855c"/>
<rect x="315.50" y="178.54" width="4.80" height="7.09" fill="#fce3e0"/>
<rect x="59.7" y="187.3" width="253.6" height="50.80" fill="none" stroke="#d4d4d4" stroke-width="0.6"/>
<line x1="184.35" y1="187.30" x2="184.35" y2="238.10" stroke="#cfcfcf" stroke-width="0.6"/>
<text x="21.20" y="212.70" font-size="6.2" text-anchor="middle" font-weight="bold" fill="#111" stroke="#111" stroke-width="0.1" transform="rotate(-90 21.20 212.70)">NOTCH</text>
<text x="56.00" y="194.00" font-size="6.4" text-anchor="end" fill="#111" stroke="#111" stroke-width="0.17">DNER</text>
<rect x="119.45" y="187.60" width="2.55" height="6.60" fill="#d4453c"/>
<rect x="122.15" y="187.60" width="2.55" height="6.60" fill="#d4453c"/>
<rect x="184.90" y="187.60" width="2.53" height="6.60" fill="#d4453c"/>
<rect x="203.62" y="187.60" width="2.53" height="6.60" fill="#d4453c"/>
<rect x="217.00" y="187.60" width="2.53" height="6.60" fill="#d4453c"/>
<rect x="238.40" y="187.60" width="2.53" height="6.60" fill="#d4453c"/>
<rect x="315.50" y="187.30" width="4.80" height="7.09" fill="#f8cdc8"/>
<text x="56.00" y="201.09" font-size="6.4" text-anchor="end" fill="#111" stroke="#111" stroke-width="0.17">NOTCH1</text>
<rect x="62.80" y="194.69" width="2.55" height="6.60" fill="#e6855c"/>
<rect x="100.57" y="194.69" width="2.55" height="6.60" fill="#d4453c"/>
<rect x="135.64" y="194.69" width="2.55" height="6.60" fill="#ad2a2e"/>
<rect x="138.34" y="194.69" width="2.55" height="6.60" fill="#d4453c"/>
<rect x="249.10" y="194.69" width="2.53" height="6.60" fill="#d4453c"/>
<rect x="315.50" y="194.39" width="4.80" height="7.09" fill="#fce3e0"/>
<text x="56.00" y="208.18" font-size="6.4" text-anchor="end" fill="#111" stroke="#111" stroke-width="0.17">CNTN6</text>
<rect x="119.45" y="201.78" width="2.55" height="6.60" fill="#f2c58e"/>
<rect x="254.45" y="201.78" width="2.53" height="6.60" fill="#e6855c"/>
<rect x="257.13" y="201.78" width="2.53" height="6.60" fill="#e6855c"/>
<rect x="315.50" y="201.48" width="4.80" height="7.09" fill="#fce3e0"/>
<text x="56.00" y="215.27" font-size="6.4" text-anchor="end" fill="#111" stroke="#111" stroke-width="0.17">NOTCH2</text>
<rect x="78.98" y="208.87" width="2.55" height="6.60" fill="#ad2a2e"/>
<rect x="95.17" y="208.87" width="2.55" height="6.60" fill="#e6855c"/>
<rect x="146.43" y="208.87" width="2.55" height="6.60" fill="#f2c58e"/>
<rect x="315.50" y="208.57" width="4.80" height="7.09" fill="#fce3e0"/>
<text x="56.00" y="222.36" font-size="6.4" text-anchor="end" fill="#111" stroke="#111" stroke-width="0.17">PSEN1</text>
<rect x="149.13" y="215.96" width="2.55" height="6.60" fill="#d4453c"/>
<rect x="265.15" y="215.96" width="2.53" height="6.60" fill="#e6855c"/>
<rect x="267.83" y="215.96" width="2.53" height="6.60" fill="#e6855c"/>
<rect x="315.50" y="215.66" width="4.80" height="7.09" fill="#fce3e0"/>
<text x="56.00" y="229.45" font-size="6.4" text-anchor="end" fill="#111" stroke="#111" stroke-width="0.17">DTX3</text>
<rect x="154.52" y="223.05" width="2.55" height="6.60" fill="#d4453c"/>
<rect x="259.80" y="223.05" width="2.53" height="6.60" fill="#f2c58e"/>
<rect x="315.50" y="222.75" width="4.80" height="7.09" fill="#fce3e0"/>
<text x="56.00" y="236.54" font-size="6.4" text-anchor="end" fill="#111" stroke="#111" stroke-width="0.17">NOTCH3</text>
<rect x="84.38" y="230.14" width="2.55" height="6.60" fill="#f2c58e"/>
<rect x="315.50" y="229.84" width="4.80" height="7.09" fill="#fce3e0"/>
<text x="316.30" y="240.00" font-size="5.4" fill="#111" stroke="#111" stroke-width="0.17" transform="rotate(90 316.30 240.00)">rate</text>
<text x="325.30" y="49.00" font-size="6.5" fill="#111" stroke="#111" stroke-width="0.17">Alterations</text>
<rect x="324.60" y="51.00" width="4.00" height="4.00" fill="#ad2a2e"/>
<text x="330.40" y="55.50" font-size="6.5" fill="#111" stroke="#111" stroke-width="0.17">Frame shift deletion</text>
<rect x="324.60" y="57.20" width="4.00" height="4.00" fill="#d4453c"/>
<text x="330.40" y="61.70" font-size="6.5" fill="#111" stroke="#111" stroke-width="0.17">In frame deletion</text>
<rect x="324.60" y="63.40" width="4.00" height="4.00" fill="#e6855c"/>
<text x="330.40" y="67.90" font-size="6.5" fill="#111" stroke="#111" stroke-width="0.17">Missense mutation</text>
<rect x="324.60" y="69.60" width="4.00" height="4.00" fill="#f2c58e"/>
<text x="330.40" y="74.10" font-size="6.5" fill="#111" stroke="#111" stroke-width="0.17">Nonsense mutation</text>
<rect x="324.60" y="75.80" width="4.00" height="4.00" fill="#a5c6e2"/>
<text x="330.40" y="80.30" font-size="6.5" fill="#111" stroke="#111" stroke-width="0.17">In frame insertion</text>
<rect x="324.60" y="82.00" width="4.00" height="4.00" fill="#3b59a3"/>
<text x="330.40" y="86.50" font-size="6.5" fill="#111" stroke="#111" stroke-width="0.17">Multi-hit</text>
<text x="325.80" y="117.80" font-size="6.5" fill="#111" stroke="#111" stroke-width="0.17">Gender</text>
<rect x="327.00" y="121.60" width="3.00" height="3.00" fill="#f2e08c"/>
<text x="331.20" y="125.10" font-size="6.5" fill="#111" stroke="#111" stroke-width="0.17">Female</text>
<rect x="327.00" y="128.20" width="3.00" height="3.00" fill="#3f5fb2"/>
<text x="331.20" y="131.70" font-size="6.5" fill="#111" stroke="#111" stroke-width="0.17">Male</text>
<text x="325.60" y="148.00" font-size="6.5" fill="#111" stroke="#111" stroke-width="0.17">Chemotherapy</text>
<rect x="326.20" y="151.00" width="3.00" height="3.00" fill="#9e2a30"/>
<text x="331.00" y="154.50" font-size="5.0" fill="#111" stroke="#111" stroke-width="0.17">CAV/IE</text>
<rect x="326.20" y="156.00" width="3.00" height="3.00" fill="#cb4a3f"/>
<text x="331.00" y="159.50" font-size="5.0" fill="#111" stroke="#111" stroke-width="0.17">AI</text>
<rect x="326.20" y="161.00" width="3.00" height="3.00" fill="#e38b63"/>
<text x="331.00" y="164.50" font-size="5.0" fill="#111" stroke="#111" stroke-width="0.17">Others</text>
<rect x="326.20" y="166.00" width="3.00" height="3.00" fill="#f3c79e"/>
<text x="331.00" y="169.50" font-size="5.0" fill="#111" stroke="#111" stroke-width="0.17">None</text>
<text x="327.40" y="179.80" font-size="6.5" fill="#111" stroke="#111" stroke-width="0.17">Efficacy</text>
<rect x="327.00" y="182.20" width="3.40" height="3.40" fill="#a9dd9c"/>
<text x="332.60" y="186.10" font-size="6.5" fill="#111" stroke="#111" stroke-width="0.17">PD</text>
<rect x="327.00" y="188.10" width="3.40" height="3.40" fill="#4fba6c"/>
<text x="332.60" y="192.00" font-size="6.5" fill="#111" stroke="#111" stroke-width="0.17">PR</text>
<rect x="327.00" y="194.00" width="3.40" height="3.40" fill="#2b9b52"/>
<text x="332.60" y="197.90" font-size="6.5" fill="#111" stroke="#111" stroke-width="0.17">SD</text>
<text x="391.80" y="48.50" font-size="6.5" fill="#111" stroke="#111" stroke-width="0.17">Histology</text>
<rect x="392.00" y="50.60" width="3.60" height="3.60" fill="#a32b30"/>
<text x="397.60" y="54.70" font-size="6.5" fill="#111" stroke="#111" stroke-width="0.17">FS</text>
<rect x="392.00" y="56.50" width="3.60" height="3.60" fill="#cf5a4e"/>
<text x="397.60" y="60.60" font-size="6.5" fill="#111" stroke="#111" stroke-width="0.17">OS</text>
<rect x="392.00" y="62.40" width="3.60" height="3.60" fill="#f6dfb8"/>
<text x="397.60" y="66.50" font-size="6.5" fill="#111" stroke="#111" stroke-width="0.17">SARC NOS</text>
<rect x="392.00" y="68.30" width="3.60" height="3.60" fill="#dfe8f1"/>
<text x="397.60" y="72.40" font-size="6.5" fill="#111" stroke="#111" stroke-width="0.17">Others</text>
<rect x="392.00" y="74.20" width="3.60" height="3.60" fill="#a3bcdf"/>
<text x="397.60" y="78.30" font-size="6.5" fill="#111" stroke="#111" stroke-width="0.17">RMS</text>
<rect x="392.00" y="80.10" width="3.60" height="3.60" fill="#6f93cc"/>
<text x="397.60" y="84.20" font-size="6.5" fill="#111" stroke="#111" stroke-width="0.17">SS</text>
<rect x="392.00" y="86.00" width="3.60" height="3.60" fill="#3f5dab"/>
<text x="397.60" y="90.10" font-size="6.5" fill="#111" stroke="#111" stroke-width="0.17">UPS</text>
<rect x="392.00" y="91.90" width="3.60" height="3.60" fill="#a02d30"/>
<text x="397.60" y="96.00" font-size="6.5" fill="#111" stroke="#111" stroke-width="0.17">RIFS</text>
<rect x="392.00" y="97.80" width="3.60" height="3.60" fill="#bf4a42"/>
<text x="397.60" y="101.90" font-size="6.5" fill="#111" stroke="#111" stroke-width="0.17">RIOS</text>
<rect x="392.00" y="103.70" width="3.60" height="3.60" fill="#eab0a6"/>
<text x="397.60" y="107.80" font-size="6.5" fill="#111" stroke="#111" stroke-width="0.17">RIS NOS</text>
<text x="392.40" y="125.30" font-size="6.5" fill="#111" stroke="#111" stroke-width="0.17">FNCLCC</text>
<rect x="393.00" y="128.30" width="3.00" height="3.00" fill="#f3bf98"/>
<text x="398.00" y="131.80" font-size="6.5" fill="#111" stroke="#111" stroke-width="0.17">1</text>
<rect x="393.00" y="134.70" width="3.00" height="3.00" fill="#dc6a48"/>
<text x="398.00" y="138.20" font-size="6.5" fill="#111" stroke="#111" stroke-width="0.17">2</text>
<rect x="393.00" y="141.10" width="3.00" height="3.00" fill="#c0372d"/>
<text x="398.00" y="144.60" font-size="6.5" fill="#111" stroke="#111" stroke-width="0.17">3</text>
<text x="392.00" y="155.30" font-size="6.5" fill="#111" stroke="#111" stroke-width="0.17">PD-1 antibody</text>
<rect x="392.60" y="158.70" width="3.20" height="3.20" fill="#f1dd92"/>
<text x="397.60" y="162.40" font-size="6.5" fill="#111" stroke="#111" stroke-width="0.17">No</text>
<rect x="392.60" y="165.20" width="3.20" height="3.20" fill="#3f5fb2"/>
<text x="397.60" y="168.90" font-size="6.5" fill="#111" stroke="#111" stroke-width="0.17">Yes</text>
<text x="392.00" y="187.30" font-size="6.5" fill="#111" stroke="#111" stroke-width="0.17">All categories</text>
<rect x="393.00" y="190.60" width="3.00" height="3.00" fill="#bcbcbc"/>
<text x="398.00" y="194.10" font-size="6.5" fill="#111" stroke="#111" stroke-width="0.17">NA</text>
<defs><linearGradient id="gA" x1="0" y1="0" x2="0" y2="1"><stop offset="0" stop-color="#c73a38"/><stop offset="0.5" stop-color="#ee9a92"/><stop offset="1" stop-color="#fdf3f2"/></linearGradient></defs>
<rect x="392.50" y="205.00" width="5.50" height="32.00" fill="url(#gA)"/>
<text x="400.00" y="209.00" font-size="6.5" fill="#111" stroke="#111" stroke-width="0.17">&gt;0.5</text>
<text x="400.00" y="223.50" font-size="6.5" fill="#111" stroke="#111" stroke-width="0.17">0.25</text>
<text x="400.00" y="238.00" font-size="6.5" fill="#111" stroke="#111" stroke-width="0.17">0</text>
</g>
<g id="panelB">
<text x="1.30" y="275.60" font-size="12" font-weight="bold" fill="#000" stroke="#000" stroke-width="0.1">B</text>
<rect x="49.20" y="301.00" width="5.72" height="9.85" fill="#fffab8" stroke="#8a8f96" stroke-width="0.25"/>
<rect x="54.92" y="301.00" width="5.72" height="9.85" fill="#4f7fb9" stroke="#8a8f96" stroke-width="0.25"/>
<rect x="60.64" y="301.00" width="5.72" height="9.85" fill="#4b7bb7" stroke="#8a8f96" stroke-width="0.25"/>
<rect x="66.37" y="301.00" width="5.72" height="9.85" fill="#5786bd" stroke="#8a8f96" stroke-width="0.25"/>
<rect x="72.09" y="301.00" width="5.72" height="9.85" fill="#4a79b6" stroke="#8a8f96" stroke-width="0.25"/>
<rect x="77.81" y="301.00" width="5.72" height="9.85" fill="#5484bc" stroke="#8a8f96" stroke-width="0.25"/>
<rect x="83.53" y="301.00" width="5.72" height="9.85" fill="#5080ba" stroke="#8a8f96" stroke-width="0.25"/>
<rect x="89.26" y="301.00" width="5.72" height="9.85" fill="#4979b6" stroke="#8a8f96" stroke-width="0.25"/>
<rect x="94.98" y="301.00" width="5.72" height="9.85" fill="#5383bb" stroke="#8a8f96" stroke-width="0.25"/>
<rect x="100.70" y="301.00" width="5.72" height="9.85" fill="#4979b6" stroke="#8a8f96" stroke-width="0.25"/>
<rect x="106.42" y="301.00" width="5.72" height="9.85" fill="#5281bb" stroke="#8a8f96" stroke-width="0.25"/>
<rect x="112.15" y="301.00" width="5.72" height="9.85" fill="#4979b6" stroke="#8a8f96" stroke-width="0.25"/>
<rect x="117.87" y="301.00" width="5.72" height="9.85" fill="#4a7ab7" stroke="#8a8f96" stroke-width="0.25"/>
<rect x="123.59" y="301.00" width="5.72" height="9.85" fill="#5281ba" stroke="#8a8f96" stroke-width="0.25"/>
<rect x="129.31" y="301.00" width="5.72" height="9.85" fill="#5b8abf" stroke="#8a8f96" stroke-width="0.25"/>
<rect x="135.04" y="301.00" width="5.72" height="9.85" fill="#4b7bb7" stroke="#8a8f96" stroke-width="0.25"/>
<rect x="140.76" y="301.00" width="5.72" height="9.85" fill="#9bc6df" stroke="#8a8f96" stroke-width="0.25"/>
<rect x="146.48" y="301.00" width="5.72" height="9.85" fill="#6190c2" stroke="#8a8f96" stroke-width="0.25"/>
<rect x="152.20" y="301.00" width="5.72" height="9.85" fill="#6a99c7" stroke="#8a8f96" stroke-width="0.25"/>
<rect x="157.93" y="301.00" width="5.72" height="9.85" fill="#71a0cb" stroke="#8a8f96" stroke-width="0.25"/>
<rect x="163.65" y="301.00" width="5.72" height="9.85" fill="#6998c6" stroke="#8a8f96" stroke-width="0.25"/>
<rect x="169.37" y="301.00" width="5.72" height="9.85" fill="#6594c4" stroke="#8a8f96" stroke-width="0.25"/>
<rect x="175.09" y="301.00" width="5.72" height="9.85" fill="#78a6ce" stroke="#8a8f96" stroke-width="0.25"/>
<rect x="180.81" y="301.00" width="5.72" height="9.85" fill="#6392c3" stroke="#8a8f96" stroke-width="0.25"/>
<rect x="186.54" y="301.00" width="5.72" height="9.85" fill="#75a4cd" stroke="#8a8f96" stroke-width="0.25"/>
<rect x="192.26" y="301.00" width="5.72" height="9.85" fill="#6897c6" stroke="#8a8f96" stroke-width="0.25"/>
<rect x="197.98" y="301.00" width="5.72" height="9.85" fill="#6594c4" stroke="#8a8f96" stroke-width="0.25"/>
<rect x="203.70" y="301.00" width="5.72" height="9.85" fill="#6493c4" stroke="#8a8f96" stroke-width="0.25"/>
<rect x="209.43" y="301.00" width="5.72" height="9.85" fill="#6998c6" stroke="#8a8f96" stroke-width="0.25"/>
<rect x="215.15" y="301.00" width="5.72" height="9.85" fill="#74a3cc" stroke="#8a8f96" stroke-width="0.25"/>
<rect x="220.87" y="301.00" width="5.72" height="9.85" fill="#6695c5" stroke="#8a8f96" stroke-width="0.25"/>
<rect x="226.59" y="301.00" width="5.72" height="9.85" fill="#91bfdb" stroke="#8a8f96" stroke-width="0.25"/>
<rect x="232.32" y="301.00" width="5.72" height="9.85" fill="#92c0db" stroke="#8a8f96" stroke-width="0.25"/>
<rect x="238.04" y="301.00" width="5.72" height="9.85" fill="#8cbad9" stroke="#8a8f96" stroke-width="0.25"/>
<rect x="243.76" y="301.00" width="5.72" height="9.85" fill="#5a89bf" stroke="#8a8f96" stroke-width="0.25"/>
<rect x="249.48" y="301.00" width="5.72" height="9.85" fill="#4f7fb9" stroke="#8a8f96" stroke-width="0.25"/>
<rect x="255.21" y="301.00" width="5.72" height="9.85" fill="#4f7fb9" stroke="#8a8f96" stroke-width="0.25"/>
<rect x="260.93" y="301.00" width="5.72" height="9.85" fill="#5282bb" stroke="#8a8f96" stroke-width="0.25"/>
<rect x="266.65" y="301.00" width="5.72" height="9.85" fill="#5d8cc0" stroke="#8a8f96" stroke-width="0.25"/>
<rect x="272.37" y="301.00" width="5.72" height="9.85" fill="#71a0cb" stroke="#8a8f96" stroke-width="0.25"/>
<rect x="278.10" y="301.00" width="5.72" height="9.85" fill="#6e9dc9" stroke="#8a8f96" stroke-width="0.25"/>
<rect x="283.82" y="301.00" width="5.72" height="9.85" fill="#75a3cc" stroke="#8a8f96" stroke-width="0.25"/>
<rect x="289.54" y="301.00" width="5.72" height="9.85" fill="#72a0cb" stroke="#8a8f96" stroke-width="0.25"/>
<rect x="295.26" y="301.00" width="5.72" height="9.85" fill="#6e9dc9" stroke="#8a8f96" stroke-width="0.25"/>
<rect x="300.99" y="301.00" width="5.72" height="9.85" fill="#79a8cf" stroke="#8a8f96" stroke-width="0.25"/>
<rect x="306.71" y="301.00" width="5.72" height="9.85" fill="#77a6ce" stroke="#8a8f96" stroke-width="0.25"/>
<rect x="312.43" y="301.00" width="5.72" height="9.85" fill="#6d9cc8" stroke="#8a8f96" stroke-width="0.25"/>
<rect x="318.15" y="301.00" width="5.72" height="9.85" fill="#74a3cc" stroke="#8a8f96" stroke-width="0.25"/>
<rect x="323.87" y="301.00" width="5.72" height="9.85" fill="#90beda" stroke="#8a8f96" stroke-width="0.25"/>
<rect x="329.60" y="301.00" width="5.72" height="9.85" fill="#98c4de" stroke="#8a8f96" stroke-width="0.25"/>
<rect x="335.32" y="301.00" width="5.72" height="9.85" fill="#94c1dc" stroke="#8a8f96" stroke-width="0.25"/>
<rect x="341.04" y="301.00" width="5.72" height="9.85" fill="#d73027" stroke="#8a8f96" stroke-width="0.25"/>
<rect x="346.76" y="301.00" width="5.72" height="9.85" fill="#f3764d" stroke="#8a8f96" stroke-width="0.25"/>
<rect x="352.49" y="301.00" width="5.72" height="9.85" fill="#6897c6" stroke="#8a8f96" stroke-width="0.25"/>
<rect x="358.21" y="301.00" width="5.72" height="9.85" fill="#78a7ce" stroke="#8a8f96" stroke-width="0.25"/>
<rect x="363.93" y="301.00" width="5.72" height="9.85" fill="#6493c4" stroke="#8a8f96" stroke-width="0.25"/>
<rect x="369.65" y="301.00" width="5.72" height="9.85" fill="#6b9ac8" stroke="#8a8f96" stroke-width="0.25"/>
<rect x="375.38" y="301.00" width="5.72" height="9.85" fill="#73a2cb" stroke="#8a8f96" stroke-width="0.25"/>
<rect x="381.10" y="301.00" width="5.72" height="9.85" fill="#e8f6ea" stroke="#8a8f96" stroke-width="0.25"/>
<rect x="386.82" y="301.00" width="5.72" height="9.85" fill="#fffab8" stroke="#8a8f96" stroke-width="0.25"/>
<rect x="392.54" y="301.00" width="5.72" height="9.85" fill="#81b0d3" stroke="#8a8f96" stroke-width="0.25"/>
<rect x="398.27" y="301.00" width="5.72" height="9.85" fill="#89b7d7" stroke="#8a8f96" stroke-width="0.25"/>
<rect x="403.99" y="301.00" width="5.72" height="9.85" fill="#cbe5f0" stroke="#8a8f96" stroke-width="0.25"/>
<rect x="409.71" y="301.00" width="5.72" height="9.85" fill="#daeff6" stroke="#8a8f96" stroke-width="0.25"/>
<rect x="415.43" y="301.00" width="5.72" height="9.85" fill="#a1cae1" stroke="#8a8f96" stroke-width="0.25"/>
<rect x="421.16" y="301.00" width="5.72" height="9.85" fill="#9dc7df" stroke="#8a8f96" stroke-width="0.25"/>
<rect x="426.88" y="301.00" width="5.72" height="9.85" fill="#a4cbe2" stroke="#8a8f96" stroke-width="0.25"/>
<rect x="49.20" y="310.85" width="5.72" height="9.85" fill="#7aa8cf" stroke="#8a8f96" stroke-width="0.25"/>
<rect x="54.92" y="310.85" width="5.72" height="9.85" fill="#82b1d4" stroke="#8a8f96" stroke-width="0.25"/>
<rect x="60.64" y="310.85" width="5.72" height="9.85" fill="#80afd2" stroke="#8a8f96" stroke-width="0.25"/>
<rect x="66.37" y="310.85" width="5.72" height="9.85" fill="#80aed2" stroke="#8a8f96" stroke-width="0.25"/>
<rect x="72.09" y="310.85" width="5.72" height="9.85" fill="#7dacd1" stroke="#8a8f96" stroke-width="0.25"/>
<rect x="77.81" y="310.85" width="5.72" height="9.85" fill="#86b4d5" stroke="#8a8f96" stroke-width="0.25"/>
<rect x="83.53" y="310.85" width="5.72" height="9.85" fill="#74a3cc" stroke="#8a8f96" stroke-width="0.25"/>
<rect x="89.26" y="310.85" width="5.72" height="9.85" fill="#6998c7" stroke="#8a8f96" stroke-width="0.25"/>
<rect x="94.98" y="310.85" width="5.72" height="9.85" fill="#6e9dc9" stroke="#8a8f96" stroke-width="0.25"/>
<rect x="100.70" y="310.85" width="5.72" height="9.85" fill="#608fc2" stroke="#8a8f96" stroke-width="0.25"/>
<rect x="106.42" y="310.85" width="5.72" height="9.85" fill="#6f9ec9" stroke="#8a8f96" stroke-width="0.25"/>
<rect x="112.15" y="310.85" width="5.72" height="9.85" fill="#6d9cc9" stroke="#8a8f96" stroke-width="0.25"/>
<rect x="117.87" y="310.85" width="5.72" height="9.85" fill="#75a4cd" stroke="#8a8f96" stroke-width="0.25"/>
<rect x="123.59" y="310.85" width="5.72" height="9.85" fill="#71a0cb" stroke="#8a8f96" stroke-width="0.25"/>
<rect x="129.31" y="310.85" width="5.72" height="9.85" fill="#6594c4" stroke="#8a8f96" stroke-width="0.25"/>
<rect x="135.04" y="310.85" width="5.72" height="9.85" fill="#6797c6" stroke="#8a8f96" stroke-width="0.25"/>
<rect x="140.76" y="310.85" width="5.72" height="9.85" fill="#a7cde3" stroke="#8a8f96" stroke-width="0.25"/>
<rect x="146.48" y="310.85" width="5.72" height="9.85" fill="#9fc8e0" stroke="#8a8f96" stroke-width="0.25"/>
<rect x="152.20" y="310.85" width="5.72" height="9.85" fill="#90beda" stroke="#8a8f96" stroke-width="0.25"/>
<rect x="157.93" y="310.85" width="5.72" height="9.85" fill="#9ac5de" stroke="#8a8f96" stroke-width="0.25"/>
<rect x="163.65" y="310.85" width="5.72" height="9.85" fill="#93c0dc" stroke="#8a8f96" stroke-width="0.25"/>
<rect x="169.37" y="310.85" width="5.72" height="9.85" fill="#92c0db" stroke="#8a8f96" stroke-width="0.25"/>
<rect x="175.09" y="310.85" width="5.72" height="9.85" fill="#badaea" stroke="#8a8f96" stroke-width="0.25"/>
<rect x="180.81" y="310.85" width="5.72" height="9.85" fill="#cbe5f0" stroke="#8a8f96" stroke-width="0.25"/>
<rect x="186.54" y="310.85" width="5.72" height="9.85" fill="#bcdbeb" stroke="#8a8f96" stroke-width="0.25"/>
<rect x="192.26" y="310.85" width="5.72" height="9.85" fill="#beddec" stroke="#8a8f96" stroke-width="0.25"/>
<rect x="197.98" y="310.85" width="5.72" height="9.85" fill="#c2dfed" stroke="#8a8f96" stroke-width="0.25"/>
<rect x="203.70" y="310.85" width="5.72" height="9.85" fill="#cde7f1" stroke="#8a8f96" stroke-width="0.25"/>
<rect x="209.43" y="310.85" width="5.72" height="9.85" fill="#badaea" stroke="#8a8f96" stroke-width="0.25"/>
<rect x="215.15" y="310.85" width="5.72" height="9.85" fill="#c3e0ed" stroke="#8a8f96" stroke-width="0.25"/>
<rect x="220.87" y="310.85" width="5.72" height="9.85" fill="#c6e2ee" stroke="#8a8f96" stroke-width="0.25"/>
<rect x="226.59" y="310.85" width="5.72" height="9.85" fill="#cde7f1" stroke="#8a8f96" stroke-width="0.25"/>
<rect x="232.32" y="310.85" width="5.72" height="9.85" fill="#cce6f1" stroke="#8a8f96" stroke-width="0.25"/>
<rect x="238.04" y="310.85" width="5.72" height="9.85" fill="#cde6f1" stroke="#8a8f96" stroke-width="0.25"/>
<rect x="243.76" y="310.85" width="5.72" height="9.85" fill="#fbfdc7" stroke="#8a8f96" stroke-width="0.25"/>
<rect x="249.48" y="310.85" width="5.72" height="9.85" fill="#fcfec5" stroke="#8a8f96" stroke-width="0.25"/>
<rect x="255.21" y="310.85" width="5.72" height="9.85" fill="#fbfec6" stroke="#8a8f96" stroke-width="0.25"/>
<rect x="260.93" y="310.85" width="5.72" height="9.85" fill="#fffebd" stroke="#8a8f96" stroke-width="0.25"/>
<rect x="266.65" y="310.85" width="5.72" height="9.85" fill="#fffdbc" stroke="#8a8f96" stroke-width="0.25"/>
<rect x="272.37" y="310.85" width="5.72" height="9.85" fill="#f9fdc9" stroke="#8a8f96" stroke-width="0.25"/>
<rect x="278.10" y="310.85" width="5.72" height="9.85" fill="#fafdc9" stroke="#8a8f96" stroke-width="0.25"/>
<rect x="283.82" y="310.85" width="5.72" height="9.85" fill="#fafdc8" stroke="#8a8f96" stroke-width="0.25"/>
<rect x="289.54" y="310.85" width="5.72" height="9.85" fill="#fafdc8" stroke="#8a8f96" stroke-width="0.25"/>
<rect x="295.26" y="310.85" width="5.72" height="9.85" fill="#fdfec4" stroke="#8a8f96" stroke-width="0.25"/>
<rect x="300.99" y="310.85" width="5.72" height="9.85" fill="#fffab7" stroke="#8a8f96" stroke-width="0.25"/>
<rect x="306.71" y="310.85" width="5.72" height="9.85" fill="#fffdbb" stroke="#8a8f96" stroke-width="0.25"/>
<rect x="312.43" y="310.85" width="5.72" height="9.85" fill="#ffffbf" stroke="#8a8f96" stroke-width="0.25"/>
<rect x="318.15" y="310.85" width="5.72" height="9.85" fill="#fffbb9" stroke="#8a8f96" stroke-width="0.25"/>
<rect x="323.87" y="310.85" width="5.72" height="9.85" fill="#fffcba" stroke="#8a8f96" stroke-width="0.25"/>
<rect x="329.60" y="310.85" width="5.72" height="9.85" fill="#fffab7" stroke="#8a8f96" stroke-width="0.25"/>
<rect x="335.32" y="310.85" width="5.72" height="9.85" fill="#fff6b2" stroke="#8a8f96" stroke-width="0.25"/>
<rect x="341.04" y="310.85" width="5.72" height="9.85" fill="#ffffbf" stroke="#8a8f96" stroke-width="0.25"/>
<rect x="346.76" y="310.85" width="5.72" height="9.85" fill="#fff1aa" stroke="#8a8f96" stroke-width="0.25"/>
<rect x="352.49" y="310.85" width="5.72" height="9.85" fill="#fdb271" stroke="#8a8f96" stroke-width="0.25"/>
<rect x="358.21" y="310.85" width="5.72" height="9.85" fill="#fdb674" stroke="#8a8f96" stroke-width="0.25"/>
<rect x="363.93" y="310.85" width="5.72" height="9.85" fill="#fc8e5a" stroke="#8a8f96" stroke-width="0.25"/>
<rect x="369.65" y="310.85" width="5.72" height="9.85" fill="#fc8d59" stroke="#8a8f96" stroke-width="0.25"/>
<rect x="375.38" y="310.85" width="5.72" height="9.85" fill="#fed689" stroke="#8a8f96" stroke-width="0.25"/>
<rect x="381.10" y="310.85" width="5.72" height="9.85" fill="#e24c36" stroke="#8a8f96" stroke-width="0.25"/>
<rect x="386.82" y="310.85" width="5.72" height="9.85" fill="#fff3ad" stroke="#8a8f96" stroke-width="0.25"/>
<rect x="392.54" y="310.85" width="5.72" height="9.85" fill="#fff3ad" stroke="#8a8f96" stroke-width="0.25"/>
<rect x="398.27" y="310.85" width="5.72" height="9.85" fill="#feeba1" stroke="#8a8f96" stroke-width="0.25"/>
<rect x="403.99" y="310.85" width="5.72" height="9.85" fill="#feeca2" stroke="#8a8f96" stroke-width="0.25"/>
<rect x="409.71" y="310.85" width="5.72" height="9.85" fill="#feeba1" stroke="#8a8f96" stroke-width="0.25"/>
<rect x="415.43" y="310.85" width="5.72" height="9.85" fill="#feeca2" stroke="#8a8f96" stroke-width="0.25"/>
<rect x="421.16" y="310.85" width="5.72" height="9.85" fill="#fff0a8" stroke="#8a8f96" stroke-width="0.25"/>
<rect x="426.88" y="310.85" width="5.72" height="9.85" fill="#fff0a8" stroke="#8a8f96" stroke-width="0.25"/>
<rect x="49.20" y="320.70" width="5.72" height="9.85" fill="#89b8d7" stroke="#8a8f96" stroke-width="0.25"/>
<rect x="54.92" y="320.70" width="5.72" height="9.85" fill="#b5d7e8" stroke="#8a8f96" stroke-width="0.25"/>
<rect x="60.64" y="320.70" width="5.72" height="9.85" fill="#c2dfed" stroke="#8a8f96" stroke-width="0.25"/>
<rect x="66.37" y="320.70" width="5.72" height="9.85" fill="#b4d6e8" stroke="#8a8f96" stroke-width="0.25"/>
<rect x="72.09" y="320.70" width="5.72" height="9.85" fill="#b4d6e8" stroke="#8a8f96" stroke-width="0.25"/>
<rect x="77.81" y="320.70" width="5.72" height="9.85" fill="#b8d8e9" stroke="#8a8f96" stroke-width="0.25"/>
<rect x="83.53" y="320.70" width="5.72" height="9.85" fill="#6b9ac7" stroke="#8a8f96" stroke-width="0.25"/>
<rect x="89.26" y="320.70" width="5.72" height="9.85" fill="#6f9eca" stroke="#8a8f96" stroke-width="0.25"/>
<rect x="94.98" y="320.70" width="5.72" height="9.85" fill="#6897c6" stroke="#8a8f96" stroke-width="0.25"/>
<rect x="100.70" y="320.70" width="5.72" height="9.85" fill="#6796c6" stroke="#8a8f96" stroke-width="0.25"/>
<rect x="106.42" y="320.70" width="5.72" height="9.85" fill="#6b9ac7" stroke="#8a8f96" stroke-width="0.25"/>
<rect x="112.15" y="320.70" width="5.72" height="9.85" fill="#6a99c7" stroke="#8a8f96" stroke-width="0.25"/>
<rect x="117.87" y="320.70" width="5.72" height="9.85" fill="#6f9eca" stroke="#8a8f96" stroke-width="0.25"/>
<rect x="123.59" y="320.70" width="5.72" height="9.85" fill="#6897c6" stroke="#8a8f96" stroke-width="0.25"/>
<rect x="129.31" y="320.70" width="5.72" height="9.85" fill="#7baad0" stroke="#8a8f96" stroke-width="0.25"/>
<rect x="135.04" y="320.70" width="5.72" height="9.85" fill="#75a4cd" stroke="#8a8f96" stroke-width="0.25"/>
<rect x="140.76" y="320.70" width="5.72" height="9.85" fill="#fffab8" stroke="#8a8f96" stroke-width="0.25"/>
<rect x="146.48" y="320.70" width="5.72" height="9.85" fill="#ffffbf" stroke="#8a8f96" stroke-width="0.25"/>
<rect x="152.20" y="320.70" width="5.72" height="9.85" fill="#f0f9da" stroke="#8a8f96" stroke-width="0.25"/>
<rect x="157.93" y="320.70" width="5.72" height="9.85" fill="#f1fad9" stroke="#8a8f96" stroke-width="0.25"/>
<rect x="163.65" y="320.70" width="5.72" height="9.85" fill="#f2fad7" stroke="#8a8f96" stroke-width="0.25"/>
<rect x="169.37" y="320.70" width="5.72" height="9.85" fill="#f2fad7" stroke="#8a8f96" stroke-width="0.25"/>
<rect x="175.09" y="320.70" width="5.72" height="9.85" fill="#f7fcce" stroke="#8a8f96" stroke-width="0.25"/>
<rect x="180.81" y="320.70" width="5.72" height="9.85" fill="#fefec2" stroke="#8a8f96" stroke-width="0.25"/>
<rect x="186.54" y="320.70" width="5.72" height="9.85" fill="#ffffbf" stroke="#8a8f96" stroke-width="0.25"/>
<rect x="192.26" y="320.70" width="5.72" height="9.85" fill="#fafdc8" stroke="#8a8f96" stroke-width="0.25"/>
<rect x="197.98" y="320.70" width="5.72" height="9.85" fill="#fff4ae" stroke="#8a8f96" stroke-width="0.25"/>
<rect x="203.70" y="320.70" width="5.72" height="9.85" fill="#fff7b3" stroke="#8a8f96" stroke-width="0.25"/>
<rect x="209.43" y="320.70" width="5.72" height="9.85" fill="#fff7b3" stroke="#8a8f96" stroke-width="0.25"/>
<rect x="215.15" y="320.70" width="5.72" height="9.85" fill="#fff5b0" stroke="#8a8f96" stroke-width="0.25"/>
<rect x="220.87" y="320.70" width="5.72" height="9.85" fill="#feea9f" stroke="#8a8f96" stroke-width="0.25"/>
<rect x="226.59" y="320.70" width="5.72" height="9.85" fill="#fee597" stroke="#8a8f96" stroke-width="0.25"/>
<rect x="232.32" y="320.70" width="5.72" height="9.85" fill="#feeba1" stroke="#8a8f96" stroke-width="0.25"/>
<rect x="238.04" y="320.70" width="5.72" height="9.85" fill="#feeca2" stroke="#8a8f96" stroke-width="0.25"/>
<rect x="243.76" y="320.70" width="5.72" height="9.85" fill="#7dabd1" stroke="#8a8f96" stroke-width="0.25"/>
<rect x="249.48" y="320.70" width="5.72" height="9.85" fill="#73a2cc" stroke="#8a8f96" stroke-width="0.25"/>
<rect x="255.21" y="320.70" width="5.72" height="9.85" fill="#6b9ac7" stroke="#8a8f96" stroke-width="0.25"/>
<rect x="260.93" y="320.70" width="5.72" height="9.85" fill="#74a2cc" stroke="#8a8f96" stroke-width="0.25"/>
<rect x="266.65" y="320.70" width="5.72" height="9.85" fill="#6897c6" stroke="#8a8f96" stroke-width="0.25"/>
<rect x="272.37" y="320.70" width="5.72" height="9.85" fill="#cbe5f0" stroke="#8a8f96" stroke-width="0.25"/>
<rect x="278.10" y="320.70" width="5.72" height="9.85" fill="#d6ecf4" stroke="#8a8f96" stroke-width="0.25"/>
<rect x="283.82" y="320.70" width="5.72" height="9.85" fill="#d3eaf3" stroke="#8a8f96" stroke-width="0.25"/>
<rect x="289.54" y="320.70" width="5.72" height="9.85" fill="#cfe8f2" stroke="#8a8f96" stroke-width="0.25"/>
<rect x="295.26" y="320.70" width="5.72" height="9.85" fill="#c5e1ee" stroke="#8a8f96" stroke-width="0.25"/>
<rect x="300.99" y="320.70" width="5.72" height="9.85" fill="#fff2ac" stroke="#8a8f96" stroke-width="0.25"/>
<rect x="306.71" y="320.70" width="5.72" height="9.85" fill="#fff4af" stroke="#8a8f96" stroke-width="0.25"/>
<rect x="312.43" y="320.70" width="5.72" height="9.85" fill="#feefa6" stroke="#8a8f96" stroke-width="0.25"/>
<rect x="318.15" y="320.70" width="5.72" height="9.85" fill="#fff1a9" stroke="#8a8f96" stroke-width="0.25"/>
<rect x="323.87" y="320.70" width="5.72" height="9.85" fill="#feeea6" stroke="#8a8f96" stroke-width="0.25"/>
<rect x="329.60" y="320.70" width="5.72" height="9.85" fill="#fff3ac" stroke="#8a8f96" stroke-width="0.25"/>
<rect x="335.32" y="320.70" width="5.72" height="9.85" fill="#fff4ae" stroke="#8a8f96" stroke-width="0.25"/>
<rect x="341.04" y="320.70" width="5.72" height="9.85" fill="#d6ecf4" stroke="#8a8f96" stroke-width="0.25"/>
<rect x="346.76" y="320.70" width="5.72" height="9.85" fill="#ffffbf" stroke="#8a8f96" stroke-width="0.25"/>
<rect x="352.49" y="320.70" width="5.72" height="9.85" fill="#85b3d5" stroke="#8a8f96" stroke-width="0.25"/>
<rect x="358.21" y="320.70" width="5.72" height="9.85" fill="#89b7d7" stroke="#8a8f96" stroke-width="0.25"/>
<rect x="363.93" y="320.70" width="5.72" height="9.85" fill="#86b4d5" stroke="#8a8f96" stroke-width="0.25"/>
<rect x="369.65" y="320.70" width="5.72" height="9.85" fill="#cce6f1" stroke="#8a8f96" stroke-width="0.25"/>
<rect x="375.38" y="320.70" width="5.72" height="9.85" fill="#cce6f1" stroke="#8a8f96" stroke-width="0.25"/>
<rect x="381.10" y="320.70" width="5.72" height="9.85" fill="#fed689" stroke="#8a8f96" stroke-width="0.25"/>
<rect x="386.82" y="320.70" width="5.72" height="9.85" fill="#fee89c" stroke="#8a8f96" stroke-width="0.25"/>
<rect x="392.54" y="320.70" width="5.72" height="9.85" fill="#e24c36" stroke="#8a8f96" stroke-width="0.25"/>
<rect x="398.27" y="320.70" width="5.72" height="9.85" fill="#f3764d" stroke="#8a8f96" stroke-width="0.25"/>
<rect x="403.99" y="320.70" width="5.72" height="9.85" fill="#fedc8d" stroke="#8a8f96" stroke-width="0.25"/>
<rect x="409.71" y="320.70" width="5.72" height="9.85" fill="#fee395" stroke="#8a8f96" stroke-width="0.25"/>
<rect x="415.43" y="320.70" width="5.72" height="9.85" fill="#fed589" stroke="#8a8f96" stroke-width="0.25"/>
<rect x="421.16" y="320.70" width="5.72" height="9.85" fill="#fed98c" stroke="#8a8f96" stroke-width="0.25"/>
<rect x="426.88" y="320.70" width="5.72" height="9.85" fill="#fee191" stroke="#8a8f96" stroke-width="0.25"/>
<text font-size="5.7" fill="#2a2a2a" transform="translate(49.41 333.40) scale(1.3 1) rotate(90)">SBS10b</text>
<text font-size="5.7" fill="#2a2a2a" transform="translate(55.13 333.40) scale(1.3 1) rotate(90)">SBS7c</text>
<text font-size="5.7" fill="#2a2a2a" transform="translate(60.86 333.40) scale(1.3 1) rotate(90)">SBS27</text>
<text font-size="5.7" fill="#2a2a2a" transform="translate(66.58 333.40) scale(1.3 1) rotate(90)">SBS21</text>
<text font-size="5.7" fill="#2a2a2a" transform="translate(72.30 333.40) scale(1.3 1) rotate(90)">SBS47</text>
<text font-size="5.7" fill="#2a2a2a" transform="translate(78.02 333.40) scale(1.3 1) rotate(90)">SBS43</text>
<text font-size="5.7" fill="#2a2a2a" transform="translate(83.75 333.40) scale(1.3 1) rotate(90)">SBS12</text>
<text font-size="5.7" fill="#2a2a2a" transform="translate(89.47 333.40) scale(1.3 1) rotate(90)">SBS31</text>
<text font-size="5.7" fill="#2a2a2a" transform="translate(95.19 333.40) scale(1.3 1) rotate(90)">SBS48</text>
<text font-size="5.7" fill="#2a2a2a" transform="translate(100.91 333.40) scale(1.3 1) rotate(90)">SBS38</text>
<text font-size="5.7" fill="#2a2a2a" transform="translate(106.64 333.40) scale(1.3 1) rotate(90)">SBS50</text>
<text font-size="5.7" fill="#2a2a2a" transform="translate(112.36 333.40) scale(1.3 1) rotate(90)">SBS84</text>
<text font-size="5.7" fill="#2a2a2a" transform="translate(118.08 333.40) scale(1.3 1) rotate(90)">SBS7d</text>
<text font-size="5.7" fill="#2a2a2a" transform="translate(123.80 333.40) scale(1.3 1) rotate(90)">SBS57</text>
<text font-size="5.7" fill="#2a2a2a" transform="translate(129.52 333.40) scale(1.3 1) rotate(90)">SBS2</text>
<text font-size="5.7" fill="#2a2a2a" transform="translate(135.25 333.40) scale(1.3 1) rotate(90)">SBS56</text>
<text font-size="5.7" fill="#2a2a2a" transform="translate(140.97 333.40) scale(1.3 1) rotate(90)">SBS22</text>
<text font-size="5.7" fill="#2a2a2a" transform="translate(146.69 333.40) scale(1.3 1) rotate(90)">SBS45</text>
<text font-size="5.7" fill="#2a2a2a" transform="translate(152.41 333.40) scale(1.3 1) rotate(90)">SBS19</text>
<text font-size="5.7" fill="#2a2a2a" transform="translate(158.14 333.40) scale(1.3 1) rotate(90)">SBS17b</text>
<text font-size="5.7" fill="#2a2a2a" transform="translate(163.86 333.40) scale(1.3 1) rotate(90)">SBS55</text>
<text font-size="5.7" fill="#2a2a2a" transform="translate(169.58 333.40) scale(1.3 1) rotate(90)">SBS60</text>
<text font-size="5.7" fill="#2a2a2a" transform="translate(175.30 333.40) scale(1.3 1) rotate(90)">SBS52</text>
<text font-size="5.7" fill="#2a2a2a" transform="translate(181.03 333.40) scale(1.3 1) rotate(90)">SBS33</text>
<text font-size="5.7" fill="#2a2a2a" transform="translate(186.75 333.40) scale(1.3 1) rotate(90)">SBS13</text>
<text font-size="5.7" fill="#2a2a2a" transform="translate(192.47 333.40) scale(1.3 1) rotate(90)">SBS11</text>
<text font-size="5.7" fill="#2a2a2a" transform="translate(198.19 333.40) scale(1.3 1) rotate(90)">SBS28</text>
<text font-size="5.7" fill="#2a2a2a" transform="translate(203.92 333.40) scale(1.3 1) rotate(90)">SBS53</text>
<text font-size="5.7" fill="#2a2a2a" transform="translate(209.64 333.40) scale(1.3 1) rotate(90)">SBS35</text>
<text font-size="5.7" fill="#2a2a2a" transform="translate(215.36 333.40) scale(1.3 1) rotate(90)">SBS49</text>
<text font-size="5.7" fill="#2a2a2a" transform="translate(221.08 333.40) scale(1.3 1) rotate(90)">SBS46</text>
<text font-size="5.7" fill="#2a2a2a" transform="translate(226.81 333.40) scale(1.3 1) rotate(90)">SBS58</text>
<text font-size="5.7" fill="#2a2a2a" transform="translate(232.53 333.40) scale(1.3 1) rotate(90)">SBS51</text>
<text font-size="5.7" fill="#2a2a2a" transform="translate(238.25 333.40) scale(1.3 1) rotate(90)">SBS29</text>
<text font-size="5.7" fill="#2a2a2a" transform="translate(243.97 333.40) scale(1.3 1) rotate(90)">SBS7a</text>
<text font-size="5.7" fill="#2a2a2a" transform="translate(249.69 333.40) scale(1.3 1) rotate(90)">SBS9</text>
<text font-size="5.7" fill="#2a2a2a" transform="translate(255.42 333.40) scale(1.3 1) rotate(90)">SBS24</text>
<text font-size="5.7" fill="#2a2a2a" transform="translate(261.14 333.40) scale(1.3 1) rotate(90)">SBS4</text>
<text font-size="5.7" fill="#2a2a2a" transform="translate(266.86 333.40) scale(1.3 1) rotate(90)">SBS39</text>
<text font-size="5.7" fill="#2a2a2a" transform="translate(272.58 333.40) scale(1.3 1) rotate(90)">SBS32</text>
<text font-size="5.7" fill="#2a2a2a" transform="translate(278.31 333.40) scale(1.3 1) rotate(90)">SBS59</text>
<text font-size="5.7" fill="#2a2a2a" transform="translate(284.03 333.40) scale(1.3 1) rotate(90)">SBS42</text>
<text font-size="5.7" fill="#2a2a2a" transform="translate(289.75 333.40) scale(1.3 1) rotate(90)">SBS23</text>
<text font-size="5.7" fill="#2a2a2a" transform="translate(295.47 333.40) scale(1.3 1) rotate(90)">SBS17a</text>
<text font-size="5.7" fill="#2a2a2a" transform="translate(301.20 333.40) scale(1.3 1) rotate(90)">SBS10a</text>
<text font-size="5.7" fill="#2a2a2a" transform="translate(306.92 333.40) scale(1.3 1) rotate(90)">SBS41</text>
<text font-size="5.7" fill="#2a2a2a" transform="translate(312.64 333.40) scale(1.3 1) rotate(90)">SBS16</text>
<text font-size="5.7" fill="#2a2a2a" transform="translate(318.36 333.40) scale(1.3 1) rotate(90)">SBS54</text>
<text font-size="5.7" fill="#2a2a2a" transform="translate(324.09 333.40) scale(1.3 1) rotate(90)">SBS30</text>
<text font-size="5.7" fill="#2a2a2a" transform="translate(329.81 333.40) scale(1.3 1) rotate(90)">SBS85</text>
<text font-size="5.7" fill="#2a2a2a" transform="translate(335.53 333.40) scale(1.3 1) rotate(90)">SBS34</text>
<text font-size="5.7" fill="#2a2a2a" transform="translate(341.25 333.40) scale(1.3 1) rotate(90)">SBS1</text>
<text font-size="5.7" fill="#2a2a2a" transform="translate(346.98 333.40) scale(1.3 1) rotate(90)">SBS6</text>
<text font-size="5.7" fill="#2a2a2a" transform="translate(352.70 333.40) scale(1.3 1) rotate(90)">SBS15</text>
<text font-size="5.7" fill="#2a2a2a" transform="translate(358.42 333.40) scale(1.3 1) rotate(90)">SBS14</text>
<text font-size="5.7" fill="#2a2a2a" transform="translate(364.14 333.40) scale(1.3 1) rotate(90)">SBS20</text>
<text font-size="5.7" fill="#2a2a2a" transform="translate(369.86 333.40) scale(1.3 1) rotate(90)">SBS26</text>
<text font-size="5.7" fill="#2a2a2a" transform="translate(375.59 333.40) scale(1.3 1) rotate(90)">SBS44</text>
<text font-size="5.7" fill="#2a2a2a" transform="translate(381.31 333.40) scale(1.3 1) rotate(90)">SBS5</text>
<text font-size="5.7" fill="#2a2a2a" transform="translate(387.03 333.40) scale(1.3 1) rotate(90)">SBS40</text>
<text font-size="5.7" fill="#2a2a2a" transform="translate(392.75 333.40) scale(1.3 1) rotate(90)">SBS3</text>
<text font-size="5.7" fill="#2a2a2a" transform="translate(398.48 333.40) scale(1.3 1) rotate(90)">SBS8</text>
<text font-size="5.7" fill="#2a2a2a" transform="translate(404.20 333.40) scale(1.3 1) rotate(90)">SBS37</text>
<text font-size="5.7" fill="#2a2a2a" transform="translate(409.92 333.40) scale(1.3 1) rotate(90)">SBS25</text>
<text font-size="5.7" fill="#2a2a2a" transform="translate(415.64 333.40) scale(1.3 1) rotate(90)">SBS7b</text>
<text font-size="5.7" fill="#2a2a2a" transform="translate(421.37 333.40) scale(1.3 1) rotate(90)">SBS36</text>
<text font-size="5.7" fill="#2a2a2a" transform="translate(427.09 333.40) scale(1.3 1) rotate(90)">SBS18</text>
<text x="233.70" y="277.50" font-size="6.4" text-anchor="middle" font-weight="bold" fill="#000" stroke="#000" stroke-width="0.1">Cosine similarity against validated signatures</text>
<text x="46.00" y="297.40" font-size="6.4" text-anchor="end" font-weight="bold" fill="#000" stroke="#000" stroke-width="0.1">RIS group</text>
<text x="46.40" y="308.23" font-size="6.5" text-anchor="end" fill="#111" stroke="#111" stroke-width="0.17">Signature 1</text>
<text x="46.40" y="318.07" font-size="6.5" text-anchor="end" fill="#111" stroke="#111" stroke-width="0.17">Signature 2</text>
<text x="46.40" y="327.93" font-size="6.5" text-anchor="end" fill="#111" stroke="#111" stroke-width="0.17">Signature 3</text>
<defs><linearGradient id="gB301" x1="0" y1="0" x2="0" y2="1"><stop offset="0.000" stop-color="#D73027"/><stop offset="0.167" stop-color="#FC8D59"/><stop offset="0.333" stop-color="#FEE090"/><stop offset="0.500" stop-color="#FFFFBF"/><stop offset="0.667" stop-color="#E0F3F8"/><stop offset="0.833" stop-color="#91BFDB"/><stop offset="1.000" stop-color="#4575B4"/></linearGradient></defs>
<rect x="434.20" y="304.00" width="3.80" height="25.30" fill="url(#gB301)"/>
<text x="439.50" y="306.60" font-size="6.0" fill="#111" stroke="#111" stroke-width="0.17">0.8</text>
<text x="439.50" y="318.55" font-size="6.0" fill="#111" stroke="#111" stroke-width="0.17">0.4</text>
<text x="439.50" y="329.90" font-size="6.0" fill="#111" stroke="#111" stroke-width="0.17">0</text>
<path d="M57.78 300.30L63.51 300.30M57.78 300.30L57.78 301.00M63.51 300.30L63.51 301.00M69.23 300.30L74.95 300.30M69.23 300.30L69.23 301.00M74.95 300.30L74.95 301.00M60.64 299.78L72.09 299.78M60.64 299.78L60.64 300.30M72.09 299.78L72.09 300.30M66.37 298.40L80.67 298.40M66.37 298.40L66.37 299.78M80.67 298.40L80.67 301.00M115.01 300.30L120.73 300.30M115.01 300.30L115.01 301.00M120.73 300.30L120.73 301.00M109.29 300.30L117.87 300.30M109.29 300.30L109.29 301.00M117.87 300.30L117.87 300.30M113.58 300.30L126.45 300.30M113.58 300.30L113.58 300.30M126.45 300.30L126.45 301.00M120.01 300.30L132.17 300.30M120.01 300.30L120.01 300.30M132.17 300.30L132.17 301.00M103.56 300.30L126.09 300.30M103.56 300.30L103.56 301.00M126.09 300.30L126.09 300.30M97.84 300.30L114.83 300.30M97.84 300.30L97.84 301.00M114.83 300.30L114.83 300.30M92.12 300.30L106.33 300.30M92.12 300.30L92.12 301.00M106.33 300.30L106.33 300.30M99.23 300.03L137.90 300.03M99.23 300.03L99.23 300.30M137.90 300.03L137.90 301.00M86.40 298.20L118.56 298.20M86.40 298.20L86.40 301.00M118.56 298.20L118.56 300.03M73.52 297.00L102.48 297.00M73.52 297.00L73.52 298.40M102.48 297.00L102.48 298.20M52.06 293.80L88.00 293.80M52.06 293.80L52.06 301.00M88.00 293.80L88.00 297.00M155.06 300.13L160.79 300.13M155.06 300.13L155.06 301.00M160.79 300.13L160.79 301.00M157.93 299.36L166.51 299.36M157.93 299.36L157.93 300.13M166.51 299.36L166.51 301.00M149.34 298.77L162.22 298.77M149.34 298.77L149.34 301.00M162.22 298.77L162.22 299.36M143.62 297.60L155.78 297.60M143.62 297.60L143.62 301.00M155.78 297.60L155.78 298.77M200.84 300.30L206.57 300.30M200.84 300.30L200.84 301.00M206.57 300.30L206.57 301.00M203.70 300.30L212.29 300.30M203.70 300.30L203.70 300.30M212.29 300.30L212.29 301.00M195.12 300.30L208.00 300.30M195.12 300.30L195.12 301.00M208.00 300.30L208.00 300.30M189.40 300.30L201.56 300.30M189.40 300.30L189.40 301.00M201.56 300.30L201.56 300.30M183.68 300.30L195.48 300.30M183.68 300.30L183.68 301.00M195.48 300.30L195.48 300.30M189.58 300.24L218.01 300.24M189.58 300.24L189.58 300.30M218.01 300.24L218.01 301.00M177.95 299.20L203.79 299.20M177.95 299.20L177.95 301.00M203.79 299.20L203.79 300.24M172.23 298.59L190.87 298.59M172.23 298.59L172.23 301.00M190.87 298.59L190.87 299.20M235.18 299.90L240.90 299.90M235.18 299.90L235.18 301.00M240.90 299.90L240.90 301.00M229.46 299.30L238.04 299.30M229.46 299.30L229.46 301.00M238.04 299.30L238.04 299.90M223.73 298.70L233.75 298.70M223.73 298.70L223.73 301.00M233.75 298.70L233.75 299.30M181.55 297.20L228.74 297.20M181.55 297.20L181.55 298.59M228.74 297.20L228.74 298.70M149.70 295.40L205.15 295.40M149.70 295.40L149.70 297.60M205.15 295.40L205.15 297.20M246.62 299.48L252.34 299.48M246.62 299.48L246.62 301.00M252.34 299.48L252.34 301.00M258.07 300.07L263.79 300.07M258.07 300.07L258.07 301.00M263.79 300.07L263.79 301.00M249.48 298.86L260.93 298.86M249.48 298.86L249.48 299.48M260.93 298.86L260.93 300.07M255.21 297.20L269.51 297.20M255.21 297.20L255.21 298.86M269.51 297.20L269.51 301.00M286.68 300.30L292.40 300.30M286.68 300.30L286.68 301.00M292.40 300.30L292.40 301.00M280.96 300.30L289.54 300.30M280.96 300.30L280.96 301.00M289.54 300.30L289.54 300.30M285.25 298.93L298.12 298.93M285.25 298.93L285.25 300.30M298.12 298.93L298.12 301.00M275.23 298.21L291.69 298.21M275.23 298.21L275.23 301.00M291.69 298.21L291.69 298.93M303.85 300.05L309.57 300.05M303.85 300.05L303.85 301.00M309.57 300.05L309.57 301.00M321.01 300.30L326.74 300.30M321.01 300.30L321.01 301.00M326.74 300.30L326.74 301.00M323.87 300.30L332.46 300.30M323.87 300.30L323.87 300.30M332.46 300.30L332.46 301.00M315.29 299.81L328.17 299.81M315.29 299.81L315.29 301.00M328.17 299.81L328.17 300.30M306.71 299.19L321.73 299.19M306.71 299.19L306.71 300.05M321.73 299.19L321.73 299.81M314.22 297.43L338.18 297.43M314.22 297.43L314.22 299.19M338.18 297.43L338.18 301.00M283.46 296.20L326.20 296.20M283.46 296.20L283.46 298.21M326.20 296.20L326.20 297.43M262.36 293.50L304.83 293.50M262.36 293.50L262.36 297.20M304.83 293.50L304.83 296.20M177.42 292.80L283.59 292.80M177.42 292.80L177.42 295.40M283.59 292.80L283.59 293.50M70.03 290.50L230.51 290.50M70.03 290.50L70.03 293.80M230.51 290.50L230.51 292.80M343.90 294.80L349.63 294.80M343.90 294.80L343.90 301.00M349.63 294.80L349.63 301.00M361.07 299.19L366.79 299.19M361.07 299.19L361.07 301.00M366.79 299.19L366.79 301.00M378.24 300.30L383.96 300.30M378.24 300.30L378.24 301.00M383.96 300.30L383.96 301.00M372.51 300.30L381.10 300.30M372.51 300.30L372.51 301.00M381.10 300.30L381.10 300.30M363.93 298.24L376.81 298.24M363.93 298.24L363.93 299.19M376.81 298.24L376.81 300.30M370.37 296.39L389.68 296.39M370.37 296.39L370.37 298.24M389.68 296.39L389.68 301.00M355.35 293.50L380.03 293.50M355.35 293.50L355.35 301.00M380.03 293.50L380.03 296.39M418.29 300.30L424.02 300.30M418.29 300.30L418.29 301.00M424.02 300.30L424.02 301.00M412.57 300.30L421.16 300.30M412.57 300.30L412.57 301.00M421.16 300.30L421.16 300.30M406.85 299.49L416.86 299.49M406.85 299.49L406.85 301.00M416.86 299.49L416.86 300.30M411.86 298.88L429.74 298.88M411.86 298.88L411.86 299.49M429.74 298.88L429.74 301.00M401.13 296.24L420.80 296.24M401.13 296.24L401.13 301.00M420.80 296.24L420.80 298.88M395.40 292.00L410.96 292.00M395.40 292.00L395.40 301.00M410.96 292.00L410.96 296.24M367.69 288.10L403.18 288.10M367.69 288.10L367.69 293.50M403.18 288.10L403.18 292.00M346.76 285.40L385.44 285.40M346.76 285.40L346.76 294.80M385.44 285.40L385.44 288.10M150.27 283.20L366.10 283.20M150.27 283.20L150.27 290.50M366.10 283.20L366.10 285.40" fill="none" stroke="#2e2e2e" stroke-width="0.62"/>
<rect x="48.00" y="401.50" width="5.74" height="9.80" fill="#fffab8" stroke="#8a8f96" stroke-width="0.25"/>
<rect x="53.74" y="401.50" width="5.74" height="9.80" fill="#d73027" stroke="#8a8f96" stroke-width="0.25"/>
<rect x="59.48" y="401.50" width="5.74" height="9.80" fill="#fc9760" stroke="#8a8f96" stroke-width="0.25"/>
<rect x="65.22" y="401.50" width="5.74" height="9.80" fill="#c4e1ee" stroke="#8a8f96" stroke-width="0.25"/>
<rect x="70.96" y="401.50" width="5.74" height="9.80" fill="#6291c3" stroke="#8a8f96" stroke-width="0.25"/>
<rect x="76.70" y="401.50" width="5.74" height="9.80" fill="#6897c6" stroke="#8a8f96" stroke-width="0.25"/>
<rect x="82.44" y="401.50" width="5.74" height="9.80" fill="#6797c6" stroke="#8a8f96" stroke-width="0.25"/>
<rect x="88.18" y="401.50" width="5.74" height="9.80" fill="#71a0cb" stroke="#8a8f96" stroke-width="0.25"/>
<rect x="93.92" y="401.50" width="5.74" height="9.80" fill="#77a6ce" stroke="#8a8f96" stroke-width="0.25"/>
<rect x="99.66" y="401.50" width="5.74" height="9.80" fill="#6c9bc8" stroke="#8a8f96" stroke-width="0.25"/>
<rect x="105.40" y="401.50" width="5.74" height="9.80" fill="#77a6ce" stroke="#8a8f96" stroke-width="0.25"/>
<rect x="111.14" y="401.50" width="5.74" height="9.80" fill="#78a7ce" stroke="#8a8f96" stroke-width="0.25"/>
<rect x="116.88" y="401.50" width="5.74" height="9.80" fill="#77a6ce" stroke="#8a8f96" stroke-width="0.25"/>
<rect x="122.62" y="401.50" width="5.74" height="9.80" fill="#6a99c7" stroke="#8a8f96" stroke-width="0.25"/>
<rect x="128.36" y="401.50" width="5.74" height="9.80" fill="#6796c5" stroke="#8a8f96" stroke-width="0.25"/>
<rect x="134.10" y="401.50" width="5.74" height="9.80" fill="#6796c5" stroke="#8a8f96" stroke-width="0.25"/>
<rect x="139.84" y="401.50" width="5.74" height="9.80" fill="#6695c5" stroke="#8a8f96" stroke-width="0.25"/>
<rect x="145.59" y="401.50" width="5.74" height="9.80" fill="#6695c5" stroke="#8a8f96" stroke-width="0.25"/>
<rect x="151.33" y="401.50" width="5.74" height="9.80" fill="#5686bd" stroke="#8a8f96" stroke-width="0.25"/>
<rect x="157.07" y="401.50" width="5.74" height="9.80" fill="#5c8cc0" stroke="#8a8f96" stroke-width="0.25"/>
<rect x="162.81" y="401.50" width="5.74" height="9.80" fill="#5b8abf" stroke="#8a8f96" stroke-width="0.25"/>
<rect x="168.55" y="401.50" width="5.74" height="9.80" fill="#5382bb" stroke="#8a8f96" stroke-width="0.25"/>
<rect x="174.29" y="401.50" width="5.74" height="9.80" fill="#5786bd" stroke="#8a8f96" stroke-width="0.25"/>
<rect x="180.03" y="401.50" width="5.74" height="9.80" fill="#5a8abf" stroke="#8a8f96" stroke-width="0.25"/>
<rect x="185.77" y="401.50" width="5.74" height="9.80" fill="#4a7ab6" stroke="#8a8f96" stroke-width="0.25"/>
<rect x="191.51" y="401.50" width="5.74" height="9.80" fill="#5786bd" stroke="#8a8f96" stroke-width="0.25"/>
<rect x="197.25" y="401.50" width="5.74" height="9.80" fill="#5d8cc0" stroke="#8a8f96" stroke-width="0.25"/>
<rect x="202.99" y="401.50" width="5.74" height="9.80" fill="#5a89bf" stroke="#8a8f96" stroke-width="0.25"/>
<rect x="208.73" y="401.50" width="5.74" height="9.80" fill="#5988be" stroke="#8a8f96" stroke-width="0.25"/>
<rect x="214.47" y="401.50" width="5.74" height="9.80" fill="#5382bb" stroke="#8a8f96" stroke-width="0.25"/>
<rect x="220.21" y="401.50" width="5.74" height="9.80" fill="#4c7cb8" stroke="#8a8f96" stroke-width="0.25"/>
<rect x="225.95" y="401.50" width="5.74" height="9.80" fill="#5a89bf" stroke="#8a8f96" stroke-width="0.25"/>
<rect x="231.69" y="401.50" width="5.74" height="9.80" fill="#4f7fb9" stroke="#8a8f96" stroke-width="0.25"/>
<rect x="237.43" y="401.50" width="5.74" height="9.80" fill="#5a8abf" stroke="#8a8f96" stroke-width="0.25"/>
<rect x="243.17" y="401.50" width="5.74" height="9.80" fill="#5e8dc1" stroke="#8a8f96" stroke-width="0.25"/>
<rect x="248.91" y="401.50" width="5.74" height="9.80" fill="#5181ba" stroke="#8a8f96" stroke-width="0.25"/>
<rect x="254.65" y="401.50" width="5.74" height="9.80" fill="#5181ba" stroke="#8a8f96" stroke-width="0.25"/>
<rect x="260.39" y="401.50" width="5.74" height="9.80" fill="#f3fad4" stroke="#8a8f96" stroke-width="0.25"/>
<rect x="266.13" y="401.50" width="5.74" height="9.80" fill="#9bc6df" stroke="#8a8f96" stroke-width="0.25"/>
<rect x="271.87" y="401.50" width="5.74" height="9.80" fill="#9bc6df" stroke="#8a8f96" stroke-width="0.25"/>
<rect x="277.61" y="401.50" width="5.74" height="9.80" fill="#fffab8" stroke="#8a8f96" stroke-width="0.25"/>
<rect x="283.35" y="401.50" width="5.74" height="9.80" fill="#e8f6ea" stroke="#8a8f96" stroke-width="0.25"/>
<rect x="289.09" y="401.50" width="5.74" height="9.80" fill="#d6ecf4" stroke="#8a8f96" stroke-width="0.25"/>
<rect x="294.83" y="401.50" width="5.74" height="9.80" fill="#b8d9ea" stroke="#8a8f96" stroke-width="0.25"/>
<rect x="300.57" y="401.50" width="5.74" height="9.80" fill="#82b1d4" stroke="#8a8f96" stroke-width="0.25"/>
<rect x="306.31" y="401.50" width="5.74" height="9.80" fill="#7dacd1" stroke="#8a8f96" stroke-width="0.25"/>
<rect x="312.05" y="401.50" width="5.74" height="9.80" fill="#71a0ca" stroke="#8a8f96" stroke-width="0.25"/>
<rect x="317.79" y="401.50" width="5.74" height="9.80" fill="#709fca" stroke="#8a8f96" stroke-width="0.25"/>
<rect x="323.53" y="401.50" width="5.74" height="9.80" fill="#709fca" stroke="#8a8f96" stroke-width="0.25"/>
<rect x="329.27" y="401.50" width="5.74" height="9.80" fill="#82b0d3" stroke="#8a8f96" stroke-width="0.25"/>
<rect x="335.01" y="401.50" width="5.74" height="9.80" fill="#7faed2" stroke="#8a8f96" stroke-width="0.25"/>
<rect x="340.76" y="401.50" width="5.74" height="9.80" fill="#709fca" stroke="#8a8f96" stroke-width="0.25"/>
<rect x="346.50" y="401.50" width="5.74" height="9.80" fill="#80aed2" stroke="#8a8f96" stroke-width="0.25"/>
<rect x="352.24" y="401.50" width="5.74" height="9.80" fill="#83b2d4" stroke="#8a8f96" stroke-width="0.25"/>
<rect x="357.98" y="401.50" width="5.74" height="9.80" fill="#7caad0" stroke="#8a8f96" stroke-width="0.25"/>
<rect x="363.72" y="401.50" width="5.74" height="9.80" fill="#75a4cd" stroke="#8a8f96" stroke-width="0.25"/>
<rect x="369.46" y="401.50" width="5.74" height="9.80" fill="#79a8cf" stroke="#8a8f96" stroke-width="0.25"/>
<rect x="375.20" y="401.50" width="5.74" height="9.80" fill="#709fca" stroke="#8a8f96" stroke-width="0.25"/>
<rect x="380.94" y="401.50" width="5.74" height="9.80" fill="#6d9cc9" stroke="#8a8f96" stroke-width="0.25"/>
<rect x="386.68" y="401.50" width="5.74" height="9.80" fill="#dcf0f7" stroke="#8a8f96" stroke-width="0.25"/>
<rect x="392.42" y="401.50" width="5.74" height="9.80" fill="#80afd2" stroke="#8a8f96" stroke-width="0.25"/>
<rect x="398.16" y="401.50" width="5.74" height="9.80" fill="#79a7cf" stroke="#8a8f96" stroke-width="0.25"/>
<rect x="403.90" y="401.50" width="5.74" height="9.80" fill="#76a5cd" stroke="#8a8f96" stroke-width="0.25"/>
<rect x="409.64" y="401.50" width="5.74" height="9.80" fill="#7faed2" stroke="#8a8f96" stroke-width="0.25"/>
<rect x="415.38" y="401.50" width="5.74" height="9.80" fill="#74a3cc" stroke="#8a8f96" stroke-width="0.25"/>
<rect x="421.12" y="401.50" width="5.74" height="9.80" fill="#7eacd1" stroke="#8a8f96" stroke-width="0.25"/>
<rect x="426.86" y="401.50" width="5.74" height="9.80" fill="#7dabd1" stroke="#8a8f96" stroke-width="0.25"/>
<rect x="48.00" y="411.30" width="5.74" height="9.80" fill="#89b8d7" stroke="#8a8f96" stroke-width="0.25"/>
<rect x="53.74" y="411.30" width="5.74" height="9.80" fill="#d6ecf4" stroke="#8a8f96" stroke-width="0.25"/>
<rect x="59.48" y="411.30" width="5.74" height="9.80" fill="#fffab8" stroke="#8a8f96" stroke-width="0.25"/>
<rect x="65.22" y="411.30" width="5.74" height="9.80" fill="#eff9dd" stroke="#8a8f96" stroke-width="0.25"/>
<rect x="70.96" y="411.30" width="5.74" height="9.80" fill="#ffffbf" stroke="#8a8f96" stroke-width="0.25"/>
<rect x="76.70" y="411.30" width="5.74" height="9.80" fill="#e8f6ea" stroke="#8a8f96" stroke-width="0.25"/>
<rect x="82.44" y="411.30" width="5.74" height="9.80" fill="#ffffbf" stroke="#8a8f96" stroke-width="0.25"/>
<rect x="88.18" y="411.30" width="5.74" height="9.80" fill="#ffffbf" stroke="#8a8f96" stroke-width="0.25"/>
<rect x="93.92" y="411.30" width="5.74" height="9.80" fill="#e8f6ea" stroke="#8a8f96" stroke-width="0.25"/>
<rect x="99.66" y="411.30" width="5.74" height="9.80" fill="#e8f6ea" stroke="#8a8f96" stroke-width="0.25"/>
<rect x="105.40" y="411.30" width="5.74" height="9.80" fill="#e8f6ea" stroke="#8a8f96" stroke-width="0.25"/>
<rect x="111.14" y="411.30" width="5.74" height="9.80" fill="#ffffbf" stroke="#8a8f96" stroke-width="0.25"/>
<rect x="116.88" y="411.30" width="5.74" height="9.80" fill="#ffffbf" stroke="#8a8f96" stroke-width="0.25"/>
<rect x="122.62" y="411.30" width="5.74" height="9.80" fill="#f3fad4" stroke="#8a8f96" stroke-width="0.25"/>
<rect x="128.36" y="411.30" width="5.74" height="9.80" fill="#ffffbf" stroke="#8a8f96" stroke-width="0.25"/>
<rect x="134.10" y="411.30" width="5.74" height="9.80" fill="#f3fad4" stroke="#8a8f96" stroke-width="0.25"/>
<rect x="139.84" y="411.30" width="5.74" height="9.80" fill="#e8f6ea" stroke="#8a8f96" stroke-width="0.25"/>
<rect x="145.59" y="411.30" width="5.74" height="9.80" fill="#6393c4" stroke="#8a8f96" stroke-width="0.25"/>
<rect x="151.33" y="411.30" width="5.74" height="9.80" fill="#6494c4" stroke="#8a8f96" stroke-width="0.25"/>
<rect x="157.07" y="411.30" width="5.74" height="9.80" fill="#6594c5" stroke="#8a8f96" stroke-width="0.25"/>
<rect x="162.81" y="411.30" width="5.74" height="9.80" fill="#6493c4" stroke="#8a8f96" stroke-width="0.25"/>
<rect x="168.55" y="411.30" width="5.74" height="9.80" fill="#6c9bc8" stroke="#8a8f96" stroke-width="0.25"/>
<rect x="174.29" y="411.30" width="5.74" height="9.80" fill="#6594c4" stroke="#8a8f96" stroke-width="0.25"/>
<rect x="180.03" y="411.30" width="5.74" height="9.80" fill="#6897c6" stroke="#8a8f96" stroke-width="0.25"/>
<rect x="185.77" y="411.30" width="5.74" height="9.80" fill="#6291c3" stroke="#8a8f96" stroke-width="0.25"/>
<rect x="191.51" y="411.30" width="5.74" height="9.80" fill="#73a2cc" stroke="#8a8f96" stroke-width="0.25"/>
<rect x="197.25" y="411.30" width="5.74" height="9.80" fill="#a3cbe2" stroke="#8a8f96" stroke-width="0.25"/>
<rect x="202.99" y="411.30" width="5.74" height="9.80" fill="#a6cde3" stroke="#8a8f96" stroke-width="0.25"/>
<rect x="208.73" y="411.30" width="5.74" height="9.80" fill="#a9cfe4" stroke="#8a8f96" stroke-width="0.25"/>
<rect x="214.47" y="411.30" width="5.74" height="9.80" fill="#b0d4e6" stroke="#8a8f96" stroke-width="0.25"/>
<rect x="220.21" y="411.30" width="5.74" height="9.80" fill="#a5cce2" stroke="#8a8f96" stroke-width="0.25"/>
<rect x="225.95" y="411.30" width="5.74" height="9.80" fill="#b1d4e7" stroke="#8a8f96" stroke-width="0.25"/>
<rect x="231.69" y="411.30" width="5.74" height="9.80" fill="#7eadd1" stroke="#8a8f96" stroke-width="0.25"/>
<rect x="237.43" y="411.30" width="5.74" height="9.80" fill="#7fadd2" stroke="#8a8f96" stroke-width="0.25"/>
<rect x="243.17" y="411.30" width="5.74" height="9.80" fill="#7fadd2" stroke="#8a8f96" stroke-width="0.25"/>
<rect x="248.91" y="411.30" width="5.74" height="9.80" fill="#73a2cc" stroke="#8a8f96" stroke-width="0.25"/>
<rect x="254.65" y="411.30" width="5.74" height="9.80" fill="#7dabd1" stroke="#8a8f96" stroke-width="0.25"/>
<rect x="260.39" y="411.30" width="5.74" height="9.80" fill="#d73027" stroke="#8a8f96" stroke-width="0.25"/>
<rect x="266.13" y="411.30" width="5.74" height="9.80" fill="#f88454" stroke="#8a8f96" stroke-width="0.25"/>
<rect x="271.87" y="411.30" width="5.74" height="9.80" fill="#fdb775" stroke="#8a8f96" stroke-width="0.25"/>
<rect x="277.61" y="411.30" width="5.74" height="9.80" fill="#fff3ad" stroke="#8a8f96" stroke-width="0.25"/>
<rect x="283.35" y="411.30" width="5.74" height="9.80" fill="#feeca3" stroke="#8a8f96" stroke-width="0.25"/>
<rect x="289.09" y="411.30" width="5.74" height="9.80" fill="#fff3ad" stroke="#8a8f96" stroke-width="0.25"/>
<rect x="294.83" y="411.30" width="5.74" height="9.80" fill="#fff3ad" stroke="#8a8f96" stroke-width="0.25"/>
<rect x="300.57" y="411.30" width="5.74" height="9.80" fill="#feeba0" stroke="#8a8f96" stroke-width="0.25"/>
<rect x="306.31" y="411.30" width="5.74" height="9.80" fill="#feeca3" stroke="#8a8f96" stroke-width="0.25"/>
<rect x="312.05" y="411.30" width="5.74" height="9.80" fill="#fee598" stroke="#8a8f96" stroke-width="0.25"/>
<rect x="317.79" y="411.30" width="5.74" height="9.80" fill="#feeba0" stroke="#8a8f96" stroke-width="0.25"/>
<rect x="323.53" y="411.30" width="5.74" height="9.80" fill="#fee89c" stroke="#8a8f96" stroke-width="0.25"/>
<rect x="329.27" y="411.30" width="5.74" height="9.80" fill="#fee699" stroke="#8a8f96" stroke-width="0.25"/>
<rect x="335.01" y="411.30" width="5.74" height="9.80" fill="#fee79b" stroke="#8a8f96" stroke-width="0.25"/>
<rect x="340.76" y="411.30" width="5.74" height="9.80" fill="#fee99e" stroke="#8a8f96" stroke-width="0.25"/>
<rect x="346.50" y="411.30" width="5.74" height="9.80" fill="#fee89b" stroke="#8a8f96" stroke-width="0.25"/>
<rect x="352.24" y="411.30" width="5.74" height="9.80" fill="#fee79b" stroke="#8a8f96" stroke-width="0.25"/>
<rect x="357.98" y="411.30" width="5.74" height="9.80" fill="#fee598" stroke="#8a8f96" stroke-width="0.25"/>
<rect x="363.72" y="411.30" width="5.74" height="9.80" fill="#feeba1" stroke="#8a8f96" stroke-width="0.25"/>
<rect x="369.46" y="411.30" width="5.74" height="9.80" fill="#fee79b" stroke="#8a8f96" stroke-width="0.25"/>
<rect x="375.20" y="411.30" width="5.74" height="9.80" fill="#feea9f" stroke="#8a8f96" stroke-width="0.25"/>
<rect x="380.94" y="411.30" width="5.74" height="9.80" fill="#feea9f" stroke="#8a8f96" stroke-width="0.25"/>
<rect x="386.68" y="411.30" width="5.74" height="9.80" fill="#fda96c" stroke="#8a8f96" stroke-width="0.25"/>
<rect x="392.42" y="411.30" width="5.74" height="9.80" fill="#fdb070" stroke="#8a8f96" stroke-width="0.25"/>
<rect x="398.16" y="411.30" width="5.74" height="9.80" fill="#fdaf6f" stroke="#8a8f96" stroke-width="0.25"/>
<rect x="403.90" y="411.30" width="5.74" height="9.80" fill="#fdaa6c" stroke="#8a8f96" stroke-width="0.25"/>
<rect x="409.64" y="411.30" width="5.74" height="9.80" fill="#fda66a" stroke="#8a8f96" stroke-width="0.25"/>
<rect x="415.38" y="411.30" width="5.74" height="9.80" fill="#fdcb82" stroke="#8a8f96" stroke-width="0.25"/>
<rect x="421.12" y="411.30" width="5.74" height="9.80" fill="#fdc67f" stroke="#8a8f96" stroke-width="0.25"/>
<rect x="426.86" y="411.30" width="5.74" height="9.80" fill="#fdc981" stroke="#8a8f96" stroke-width="0.25"/>
<text font-size="5.7" fill="#2a2a2a" transform="translate(48.22 424.00) scale(1.3 1) rotate(90)">SBS10b</text>
<text font-size="5.7" fill="#2a2a2a" transform="translate(53.96 424.00) scale(1.3 1) rotate(90)">SBS1</text>
<text font-size="5.7" fill="#2a2a2a" transform="translate(59.70 424.00) scale(1.3 1) rotate(90)">SBS6</text>
<text font-size="5.7" fill="#2a2a2a" transform="translate(65.44 424.00) scale(1.3 1) rotate(90)">SBS15</text>
<text font-size="5.7" fill="#2a2a2a" transform="translate(71.18 424.00) scale(1.3 1) rotate(90)">SBS43</text>
<text font-size="5.7" fill="#2a2a2a" transform="translate(76.92 424.00) scale(1.3 1) rotate(90)">SBS19</text>
<text font-size="5.7" fill="#2a2a2a" transform="translate(82.66 424.00) scale(1.3 1) rotate(90)">SBS51</text>
<text font-size="5.7" fill="#2a2a2a" transform="translate(88.40 424.00) scale(1.3 1) rotate(90)">SBS25</text>
<text font-size="5.7" fill="#2a2a2a" transform="translate(94.14 424.00) scale(1.3 1) rotate(90)">SBS54</text>
<text font-size="5.7" fill="#2a2a2a" transform="translate(99.88 424.00) scale(1.3 1) rotate(90)">SBS48</text>
<text font-size="5.7" fill="#2a2a2a" transform="translate(105.62 424.00) scale(1.3 1) rotate(90)">SBS60</text>
<text font-size="5.7" fill="#2a2a2a" transform="translate(111.36 424.00) scale(1.3 1) rotate(90)">SBS45</text>
<text font-size="5.7" fill="#2a2a2a" transform="translate(117.10 424.00) scale(1.3 1) rotate(90)">SBS36</text>
<text font-size="5.7" fill="#2a2a2a" transform="translate(122.84 424.00) scale(1.3 1) rotate(90)">SBS4</text>
<text font-size="5.7" fill="#2a2a2a" transform="translate(128.58 424.00) scale(1.3 1) rotate(90)">SBS32</text>
<text font-size="5.7" fill="#2a2a2a" transform="translate(134.32 424.00) scale(1.3 1) rotate(90)">SBS18</text>
<text font-size="5.7" fill="#2a2a2a" transform="translate(140.06 424.00) scale(1.3 1) rotate(90)">SBS55</text>
<text font-size="5.7" fill="#2a2a2a" transform="translate(145.81 424.00) scale(1.3 1) rotate(90)">SBS7b</text>
<text font-size="5.7" fill="#2a2a2a" transform="translate(151.55 424.00) scale(1.3 1) rotate(90)">SBS13</text>
<text font-size="5.7" fill="#2a2a2a" transform="translate(157.29 424.00) scale(1.3 1) rotate(90)">SBS10a</text>
<text font-size="5.7" fill="#2a2a2a" transform="translate(163.03 424.00) scale(1.3 1) rotate(90)">SBS26</text>
<text font-size="5.7" fill="#2a2a2a" transform="translate(168.77 424.00) scale(1.3 1) rotate(90)">SBS33</text>
<text font-size="5.7" fill="#2a2a2a" transform="translate(174.51 424.00) scale(1.3 1) rotate(90)">SBS56</text>
<text font-size="5.7" fill="#2a2a2a" transform="translate(180.25 424.00) scale(1.3 1) rotate(90)">SBS27</text>
<text font-size="5.7" fill="#2a2a2a" transform="translate(185.99 424.00) scale(1.3 1) rotate(90)">SBS37</text>
<text font-size="5.7" fill="#2a2a2a" transform="translate(191.73 424.00) scale(1.3 1) rotate(90)">SBS9</text>
<text font-size="5.7" fill="#2a2a2a" transform="translate(197.47 424.00) scale(1.3 1) rotate(90)">SBS39</text>
<text font-size="5.7" fill="#2a2a2a" transform="translate(203.21 424.00) scale(1.3 1) rotate(90)">SBS44</text>
<text font-size="5.7" fill="#2a2a2a" transform="translate(208.95 424.00) scale(1.3 1) rotate(90)">SBS2</text>
<text font-size="5.7" fill="#2a2a2a" transform="translate(214.69 424.00) scale(1.3 1) rotate(90)">SBS17a</text>
<text font-size="5.7" fill="#2a2a2a" transform="translate(220.43 424.00) scale(1.3 1) rotate(90)">SBS29</text>
<text font-size="5.7" fill="#2a2a2a" transform="translate(226.17 424.00) scale(1.3 1) rotate(90)">SBS20</text>
<text font-size="5.7" fill="#2a2a2a" transform="translate(231.91 424.00) scale(1.3 1) rotate(90)">SBS7d</text>
<text font-size="5.7" fill="#2a2a2a" transform="translate(237.65 424.00) scale(1.3 1) rotate(90)">SBS52</text>
<text font-size="5.7" fill="#2a2a2a" transform="translate(243.39 424.00) scale(1.3 1) rotate(90)">SBS30</text>
<text font-size="5.7" fill="#2a2a2a" transform="translate(249.13 424.00) scale(1.3 1) rotate(90)">SBS85</text>
<text font-size="5.7" fill="#2a2a2a" transform="translate(254.87 424.00) scale(1.3 1) rotate(90)">SBS16</text>
<text font-size="5.7" fill="#2a2a2a" transform="translate(260.61 424.00) scale(1.3 1) rotate(90)">SBS3</text>
<text font-size="5.7" fill="#2a2a2a" transform="translate(266.35 424.00) scale(1.3 1) rotate(90)">SBS8</text>
<text font-size="5.7" fill="#2a2a2a" transform="translate(272.09 424.00) scale(1.3 1) rotate(90)">SBS40</text>
<text font-size="5.7" fill="#2a2a2a" transform="translate(277.83 424.00) scale(1.3 1) rotate(90)">SBS5</text>
<text font-size="5.7" fill="#2a2a2a" transform="translate(283.57 424.00) scale(1.3 1) rotate(90)">SBS50</text>
<text font-size="5.7" fill="#2a2a2a" transform="translate(289.31 424.00) scale(1.3 1) rotate(90)">SBS31</text>
<text font-size="5.7" fill="#2a2a2a" transform="translate(295.05 424.00) scale(1.3 1) rotate(90)">SBS7a</text>
<text font-size="5.7" fill="#2a2a2a" transform="translate(300.79 424.00) scale(1.3 1) rotate(90)">SBS7c</text>
<text font-size="5.7" fill="#2a2a2a" transform="translate(306.53 424.00) scale(1.3 1) rotate(90)">SBS22</text>
<text font-size="5.7" fill="#2a2a2a" transform="translate(312.27 424.00) scale(1.3 1) rotate(90)">SBS24</text>
<text font-size="5.7" fill="#2a2a2a" transform="translate(318.01 424.00) scale(1.3 1) rotate(90)">SBS17b</text>
<text font-size="5.7" fill="#2a2a2a" transform="translate(323.75 424.00) scale(1.3 1) rotate(90)">SBS59</text>
<text font-size="5.7" fill="#2a2a2a" transform="translate(329.49 424.00) scale(1.3 1) rotate(90)">SBS21</text>
<text font-size="5.7" fill="#2a2a2a" transform="translate(335.24 424.00) scale(1.3 1) rotate(90)">SBS42</text>
<text font-size="5.7" fill="#2a2a2a" transform="translate(340.98 424.00) scale(1.3 1) rotate(90)">SBS84</text>
<text font-size="5.7" fill="#2a2a2a" transform="translate(346.72 424.00) scale(1.3 1) rotate(90)">SBS49</text>
<text font-size="5.7" fill="#2a2a2a" transform="translate(352.46 424.00) scale(1.3 1) rotate(90)">SBS35</text>
<text font-size="5.7" fill="#2a2a2a" transform="translate(358.20 424.00) scale(1.3 1) rotate(90)">SBS23</text>
<text font-size="5.7" fill="#2a2a2a" transform="translate(363.94 424.00) scale(1.3 1) rotate(90)">SBS46</text>
<text font-size="5.7" fill="#2a2a2a" transform="translate(369.68 424.00) scale(1.3 1) rotate(90)">SBS14</text>
<text font-size="5.7" fill="#2a2a2a" transform="translate(375.42 424.00) scale(1.3 1) rotate(90)">SBS34</text>
<text font-size="5.7" fill="#2a2a2a" transform="translate(381.16 424.00) scale(1.3 1) rotate(90)">SBS28</text>
<text font-size="5.7" fill="#2a2a2a" transform="translate(386.90 424.00) scale(1.3 1) rotate(90)">SBS58</text>
<text font-size="5.7" fill="#2a2a2a" transform="translate(392.64 424.00) scale(1.3 1) rotate(90)">SBS12</text>
<text font-size="5.7" fill="#2a2a2a" transform="translate(398.38 424.00) scale(1.3 1) rotate(90)">SBS11</text>
<text font-size="5.7" fill="#2a2a2a" transform="translate(404.12 424.00) scale(1.3 1) rotate(90)">SBS53</text>
<text font-size="5.7" fill="#2a2a2a" transform="translate(409.86 424.00) scale(1.3 1) rotate(90)">SBS41</text>
<text font-size="5.7" fill="#2a2a2a" transform="translate(415.60 424.00) scale(1.3 1) rotate(90)">SBS57</text>
<text font-size="5.7" fill="#2a2a2a" transform="translate(421.34 424.00) scale(1.3 1) rotate(90)">SBS38</text>
<text font-size="5.7" fill="#2a2a2a" transform="translate(427.08 424.00) scale(1.3 1) rotate(90)">SBS47</text>
<text x="237.40" y="372.10" font-size="6.4" text-anchor="middle" font-weight="bold" fill="#000" stroke="#000" stroke-width="0.1">Cosine similarity against validated signatures</text>
<text x="46.00" y="398.20" font-size="6.4" text-anchor="end" font-weight="bold" fill="#000" stroke="#000" stroke-width="0.1">SARC group</text>
<text x="46.40" y="408.70" font-size="6.5" text-anchor="end" fill="#111" stroke="#111" stroke-width="0.17">Signature 1</text>
<text x="46.40" y="418.50" font-size="6.5" text-anchor="end" fill="#111" stroke="#111" stroke-width="0.17">Signature 2</text>
<defs><linearGradient id="gB401" x1="0" y1="0" x2="0" y2="1"><stop offset="0.000" stop-color="#D73027"/><stop offset="0.167" stop-color="#FC8D59"/><stop offset="0.333" stop-color="#FEE090"/><stop offset="0.500" stop-color="#FFFFBF"/><stop offset="0.667" stop-color="#E0F3F8"/><stop offset="0.833" stop-color="#91BFDB"/><stop offset="1.000" stop-color="#4575B4"/></linearGradient></defs>
<rect x="434.20" y="401.60" width="3.80" height="18.60" fill="url(#gB401)"/>
<text x="439.50" y="404.20" font-size="6.0" fill="#111" stroke="#111" stroke-width="0.17">0.8</text>
<text x="439.50" y="412.80" font-size="6.0" fill="#111" stroke="#111" stroke-width="0.17">0.4</text>
<text x="439.50" y="420.80" font-size="6.0" fill="#111" stroke="#111" stroke-width="0.17">0</text>
<path d="M56.61 394.50L62.35 394.50M56.61 394.50L56.61 401.50M62.35 394.50L62.35 401.50M50.87 390.00L59.48 390.00M50.87 390.00L50.87 401.50M59.48 390.00L59.48 394.50M79.57 400.80L85.31 400.80M79.57 400.80L79.57 401.50M85.31 400.80L85.31 401.50M73.83 400.80L82.44 400.80M73.83 400.80L73.83 401.50M82.44 400.80L82.44 400.80M78.14 400.80L91.05 400.80M78.14 400.80L78.14 400.80M91.05 400.80L91.05 401.50M68.09 400.28L84.59 400.28M68.09 400.28L68.09 401.50M84.59 400.28L84.59 400.80M108.27 400.80L114.01 400.80M108.27 400.80L108.27 401.50M114.01 400.80L114.01 401.50M119.75 400.80L125.49 400.80M119.75 400.80L119.75 401.50M125.49 400.80L125.49 401.50M111.14 400.80L122.62 400.80M111.14 400.80L111.14 400.80M122.62 400.80L122.62 400.80M136.97 400.80L142.71 400.80M136.97 400.80L136.97 401.50M142.71 400.80L142.71 401.50M131.23 400.80L139.84 400.80M131.23 400.80L131.23 401.50M139.84 400.80L139.84 400.80M135.54 400.80L148.46 400.80M135.54 400.80L135.54 400.80M148.46 400.80L148.46 401.50M116.88 400.80L142.00 400.80M116.88 400.80L116.88 400.80M142.00 400.80L142.00 400.80M102.53 400.40L129.44 400.40M102.53 400.40L102.53 401.50M129.44 400.40L129.44 400.80M96.79 399.39L115.99 399.39M96.79 399.39L96.79 401.50M115.99 399.39L115.99 400.40M76.34 397.50L106.39 397.50M76.34 397.50L76.34 400.28M106.39 397.50L106.39 399.39M165.68 400.80L171.42 400.80M165.68 400.80L165.68 401.50M171.42 400.80L171.42 401.50M159.94 400.80L168.55 400.80M159.94 400.80L159.94 401.50M168.55 400.80L168.55 400.80M164.24 400.80L177.16 400.80M164.24 400.80L164.24 400.80M177.16 400.80L177.16 401.50M170.70 400.80L182.90 400.80M170.70 400.80L170.70 400.80M182.90 400.80L182.90 401.50M154.20 400.57L176.80 400.57M154.20 400.57L154.20 401.50M176.80 400.57L176.80 400.80M194.38 400.71L200.12 400.71M194.38 400.71L194.38 401.50M200.12 400.71L200.12 401.50M188.64 399.19L197.25 399.19M188.64 399.19L188.64 401.50M197.25 399.19L197.25 400.71M165.50 398.00L192.94 398.00M165.50 398.00L165.50 400.57M192.94 398.00L192.94 399.19M223.08 400.80L228.82 400.80M223.08 400.80L223.08 401.50M228.82 400.80L228.82 401.50M225.95 400.80L234.56 400.80M225.95 400.80L225.95 400.80M234.56 400.80L234.56 401.50M251.78 400.80L257.52 400.80M251.78 400.80L251.78 401.50M257.52 400.80L257.52 401.50M246.04 400.80L254.65 400.80M246.04 400.80L246.04 401.50M254.65 400.80L254.65 400.80M240.30 400.80L250.35 400.80M240.30 400.80L240.30 401.50M250.35 400.80L250.35 400.80M230.25 400.58L245.32 400.58M230.25 400.58L230.25 400.80M245.32 400.58L245.32 400.80M217.34 399.53L237.79 399.53M217.34 399.53L217.34 401.50M237.79 399.53L237.79 400.58M211.60 398.80L227.56 398.80M211.60 398.80L211.60 401.50M227.56 398.80L227.56 399.53M205.86 397.60L219.58 397.60M205.86 397.60L205.86 401.50M219.58 397.60L219.58 398.80M179.22 395.50L212.72 395.50M179.22 395.50L179.22 398.00M212.72 395.50L212.72 397.60M91.37 391.25L195.97 391.25M91.37 391.25L91.37 397.50M195.97 391.25L195.97 395.50M269.00 399.00L274.74 399.00M269.00 399.00L269.00 401.50M274.74 399.00L274.74 401.50M263.26 396.20L271.87 396.20M263.26 396.20L263.26 401.50M271.87 396.20L271.87 399.00M286.22 399.20L291.96 399.20M286.22 399.20L286.22 401.50M291.96 399.20L291.96 401.50M280.48 397.00L289.09 397.00M280.48 397.00L280.48 401.50M289.09 397.00L289.09 399.20M309.18 400.80L314.92 400.80M309.18 400.80L309.18 401.50M314.92 400.80L314.92 401.50M303.44 400.59L312.05 400.59M303.44 400.59L303.44 401.50M312.05 400.59L312.05 400.80M297.70 399.10L307.75 399.10M297.70 399.10L297.70 401.50M307.75 399.10L307.75 400.59M355.11 400.80L360.85 400.80M355.11 400.80L355.11 401.50M360.85 400.80L360.85 401.50M357.98 400.80L366.59 400.80M357.98 400.80L357.98 400.80M366.59 400.80L366.59 401.50M349.37 400.80L362.28 400.80M349.37 400.80L349.37 401.50M362.28 400.80L362.28 400.80M355.82 400.80L372.33 400.80M355.82 400.80L355.82 400.80M372.33 400.80L372.33 401.50M343.63 400.80L364.08 400.80M343.63 400.80L343.63 401.50M364.08 400.80L364.08 400.80M353.85 400.80L378.07 400.80M353.85 400.80L353.85 400.80M378.07 400.80L378.07 401.50M337.89 400.80L365.96 400.80M337.89 400.80L337.89 401.50M365.96 400.80L365.96 400.80M332.14 400.80L351.92 400.80M332.14 400.80L332.14 401.50M351.92 400.80L351.92 400.80M326.40 400.80L342.03 400.80M326.40 400.80L326.40 401.50M342.03 400.80L342.03 400.80M334.22 400.56L383.81 400.56M334.22 400.56L334.22 400.80M383.81 400.56L383.81 401.50M320.66 399.35L359.01 399.35M320.66 399.35L320.66 401.50M359.01 399.35L359.01 400.56M302.73 397.40L339.84 397.40M302.73 397.40L302.73 399.10M339.84 397.40L339.84 399.35M395.29 400.12L401.03 400.12M395.29 400.12L395.29 401.50M401.03 400.12L401.03 401.50M418.25 400.80L423.99 400.80M418.25 400.80L418.25 401.50M423.99 400.80L423.99 401.50M421.12 400.80L429.73 400.80M421.12 400.80L421.12 400.80M429.73 400.80L429.73 401.50M412.51 400.39L425.42 400.39M412.51 400.39L412.51 401.50M425.42 400.39L425.42 400.80M406.77 399.89L418.97 399.89M406.77 399.89L406.77 401.50M418.97 399.89L418.97 400.39M398.16 398.08L412.87 398.08M398.16 398.08L398.16 400.12M412.87 398.08L412.87 399.89M389.55 396.60L405.51 396.60M389.55 396.60L389.55 401.50M405.51 396.60L405.51 398.08M321.28 394.60L397.53 394.60M321.28 394.60L321.28 397.40M397.53 394.60L397.53 396.60M284.79 392.30L359.41 392.30M284.79 392.30L284.79 397.00M359.41 392.30L359.41 394.60M267.57 389.50L322.10 389.50M267.57 389.50L267.57 396.20M322.10 389.50L322.10 392.30M143.67 379.80L294.83 379.80M143.67 379.80L143.67 391.25M294.83 379.80L294.83 389.50M55.18 377.20L219.25 377.20M55.18 377.20L55.18 390.00M219.25 377.20L219.25 379.80" fill="none" stroke="#2e2e2e" stroke-width="0.62"/>
</g>
<g id="panelC">
<text x="1.60" y="469.00" font-size="12" font-weight="bold" fill="#000" stroke="#000" stroke-width="0.1">C</text>
<text x="35.60" y="469.00" font-size="6.35" font-style="italic" fill="#111" stroke="#111" stroke-width="0.17">COSMIC 1/SBS 1</text>
<text x="35.60" y="477.30" font-size="6.35" font-style="italic" fill="#111" stroke="#111" stroke-width="0.17">Etiology: spontaneous deamination of</text>
<text x="33.80" y="485.50" font-size="6.35" font-style="italic" fill="#111" stroke="#111" stroke-width="0.17">5–methylcytosine</text>
<line x1="43.70" y1="497.19" x2="43.70" y2="534.60" stroke="#222" stroke-width="0.7"/>
<line x1="42.10" y1="534.30" x2="43.70" y2="534.30" stroke="#222" stroke-width="0.45"/>
<line x1="42.80" y1="531.85" x2="43.70" y2="531.85" stroke="#222" stroke-width="0.35"/>
<line x1="42.80" y1="529.39" x2="43.70" y2="529.39" stroke="#222" stroke-width="0.35"/>
<line x1="42.80" y1="526.94" x2="43.70" y2="526.94" stroke="#222" stroke-width="0.35"/>
<line x1="42.80" y1="524.48" x2="43.70" y2="524.48" stroke="#222" stroke-width="0.35"/>
<line x1="42.10" y1="522.03" x2="43.70" y2="522.03" stroke="#222" stroke-width="0.45"/>
<line x1="42.80" y1="519.58" x2="43.70" y2="519.58" stroke="#222" stroke-width="0.35"/>
<line x1="42.80" y1="517.12" x2="43.70" y2="517.12" stroke="#222" stroke-width="0.35"/>
<line x1="42.80" y1="514.67" x2="43.70" y2="514.67" stroke="#222" stroke-width="0.35"/>
<line x1="42.80" y1="512.21" x2="43.70" y2="512.21" stroke="#222" stroke-width="0.35"/>
<line x1="42.10" y1="509.76" x2="43.70" y2="509.76" stroke="#222" stroke-width="0.45"/>
<line x1="42.80" y1="507.31" x2="43.70" y2="507.31" stroke="#222" stroke-width="0.35"/>
<line x1="42.80" y1="504.85" x2="43.70" y2="504.85" stroke="#222" stroke-width="0.35"/>
<line x1="42.80" y1="502.40" x2="43.70" y2="502.40" stroke="#222" stroke-width="0.35"/>
<line x1="42.80" y1="499.94" x2="43.70" y2="499.94" stroke="#222" stroke-width="0.35"/>
<line x1="42.10" y1="497.49" x2="43.70" y2="497.49" stroke="#222" stroke-width="0.45"/>
<text x="41.70" y="536.60" font-size="6.4" text-anchor="end" fill="#111" stroke="#111" stroke-width="0.17">0.0</text>
<text x="41.70" y="524.33" font-size="6.4" text-anchor="end" fill="#111" stroke="#111" stroke-width="0.17">0.1</text>
<text x="41.70" y="512.06" font-size="6.4" text-anchor="end" fill="#111" stroke="#111" stroke-width="0.17">0.2</text>
<text x="41.70" y="499.79" font-size="6.4" text-anchor="end" fill="#111" stroke="#111" stroke-width="0.17">0.3</text>
<rect x="45.22" y="533.79" width="0.99" height="0.51" fill="#7f3233" fill-opacity="0.92"/>
<rect x="46.45" y="533.80" width="0.99" height="0.50" fill="#7f3233" fill-opacity="0.92"/>
<rect x="47.69" y="533.80" width="0.99" height="0.50" fill="#7f3233" fill-opacity="0.92"/>
<rect x="48.92" y="533.80" width="0.99" height="0.50" fill="#7f3233" fill-opacity="0.92"/>
<rect x="50.16" y="533.73" width="0.99" height="0.57" fill="#7f3233" fill-opacity="0.92"/>
<rect x="51.39" y="533.76" width="0.99" height="0.54" fill="#7f3233" fill-opacity="0.92"/>
<rect x="52.63" y="533.63" width="0.99" height="0.67" fill="#7f3233" fill-opacity="0.92"/>
<rect x="53.86" y="533.80" width="0.99" height="0.50" fill="#7f3233" fill-opacity="0.92"/>
<rect x="55.09" y="533.80" width="0.99" height="0.50" fill="#7f3233" fill-opacity="0.92"/>
<rect x="56.33" y="533.80" width="0.99" height="0.50" fill="#7f3233" fill-opacity="0.92"/>
<rect x="57.56" y="533.80" width="0.99" height="0.50" fill="#7f3233" fill-opacity="0.92"/>
<rect x="58.80" y="533.80" width="0.99" height="0.50" fill="#7f3233" fill-opacity="0.92"/>
<rect x="60.03" y="533.80" width="0.99" height="0.50" fill="#7f3233" fill-opacity="0.92"/>
<rect x="61.27" y="533.80" width="0.99" height="0.50" fill="#7f3233" fill-opacity="0.92"/>
<rect x="62.50" y="533.78" width="0.99" height="0.52" fill="#7f3233" fill-opacity="0.92"/>
<rect x="63.74" y="533.80" width="0.99" height="0.50" fill="#7f3233" fill-opacity="0.92"/>
<rect x="64.97" y="533.80" width="0.99" height="0.50" fill="#858585" fill-opacity="0.92"/>
<rect x="66.20" y="533.80" width="0.99" height="0.50" fill="#858585" fill-opacity="0.92"/>
<rect x="67.44" y="533.68" width="0.99" height="0.62" fill="#858585" fill-opacity="0.92"/>
<rect x="68.67" y="533.80" width="0.99" height="0.50" fill="#858585" fill-opacity="0.92"/>
<rect x="69.91" y="533.68" width="0.99" height="0.62" fill="#858585" fill-opacity="0.92"/>
<rect x="71.14" y="533.75" width="0.99" height="0.55" fill="#858585" fill-opacity="0.92"/>
<rect x="72.38" y="533.80" width="0.99" height="0.50" fill="#858585" fill-opacity="0.92"/>
<rect x="73.61" y="533.80" width="0.99" height="0.50" fill="#858585" fill-opacity="0.92"/>
<rect x="74.84" y="533.59" width="0.99" height="0.71" fill="#858585" fill-opacity="0.92"/>
<rect x="76.08" y="533.80" width="0.99" height="0.50" fill="#858585" fill-opacity="0.92"/>
<rect x="77.31" y="533.80" width="0.99" height="0.50" fill="#858585" fill-opacity="0.92"/>
<rect x="78.55" y="533.80" width="0.99" height="0.50" fill="#858585" fill-opacity="0.92"/>
<rect x="79.78" y="533.66" width="0.99" height="0.64" fill="#858585" fill-opacity="0.92"/>
<rect x="81.02" y="533.80" width="0.99" height="0.50" fill="#858585" fill-opacity="0.92"/>
<rect x="82.25" y="533.68" width="0.99" height="0.62" fill="#858585" fill-opacity="0.92"/>
<rect x="83.49" y="533.73" width="0.99" height="0.57" fill="#858585" fill-opacity="0.92"/>
<rect x="84.72" y="531.85" width="0.99" height="2.45" fill="#c22c7c" fill-opacity="0.92"/>
<rect x="85.95" y="532.77" width="0.99" height="1.53" fill="#c22c7c" fill-opacity="0.92"/>
<rect x="87.19" y="510.99" width="0.99" height="23.31" fill="#c22c7c" fill-opacity="0.92"/>
<rect x="88.42" y="532.12" width="0.99" height="2.18" fill="#c22c7c" fill-opacity="0.92"/>
<rect x="89.66" y="533.79" width="0.99" height="0.51" fill="#c22c7c" fill-opacity="0.92"/>
<rect x="90.89" y="532.39" width="0.99" height="1.91" fill="#c22c7c" fill-opacity="0.92"/>
<rect x="92.13" y="498.72" width="0.99" height="35.58" fill="#c22c7c" fill-opacity="0.92"/>
<rect x="93.36" y="532.76" width="0.99" height="1.54" fill="#c22c7c" fill-opacity="0.92"/>
<rect x="94.59" y="533.29" width="0.99" height="1.01" fill="#c22c7c" fill-opacity="0.92"/>
<rect x="95.83" y="532.55" width="0.99" height="1.75" fill="#c22c7c" fill-opacity="0.92"/>
<rect x="97.06" y="522.40" width="0.99" height="11.90" fill="#c22c7c" fill-opacity="0.92"/>
<rect x="98.30" y="532.96" width="0.99" height="1.34" fill="#c22c7c" fill-opacity="0.92"/>
<rect x="99.53" y="532.92" width="0.99" height="1.38" fill="#c22c7c" fill-opacity="0.92"/>
<rect x="100.77" y="531.94" width="0.99" height="2.36" fill="#c22c7c" fill-opacity="0.92"/>
<rect x="102.00" y="515.65" width="0.99" height="18.65" fill="#c22c7c" fill-opacity="0.92"/>
<rect x="103.24" y="533.29" width="0.99" height="1.01" fill="#c22c7c" fill-opacity="0.92"/>
<rect x="104.47" y="533.79" width="0.99" height="0.51" fill="#ef9b82" fill-opacity="0.92"/>
<rect x="105.70" y="533.80" width="0.99" height="0.50" fill="#ef9b82" fill-opacity="0.92"/>
<rect x="106.94" y="533.80" width="0.99" height="0.50" fill="#ef9b82" fill-opacity="0.92"/>
<rect x="108.17" y="533.80" width="0.99" height="0.50" fill="#ef9b82" fill-opacity="0.92"/>
<rect x="109.41" y="533.80" width="0.99" height="0.50" fill="#ef9b82" fill-opacity="0.92"/>
<rect x="110.64" y="533.60" width="0.99" height="0.70" fill="#ef9b82" fill-opacity="0.92"/>
<rect x="111.88" y="533.78" width="0.99" height="0.52" fill="#ef9b82" fill-opacity="0.92"/>
<rect x="113.11" y="533.80" width="0.99" height="0.50" fill="#ef9b82" fill-opacity="0.92"/>
<rect x="114.34" y="533.80" width="0.99" height="0.50" fill="#ef9b82" fill-opacity="0.92"/>
<rect x="115.58" y="533.73" width="0.99" height="0.57" fill="#ef9b82" fill-opacity="0.92"/>
<rect x="116.81" y="533.80" width="0.99" height="0.50" fill="#ef9b82" fill-opacity="0.92"/>
<rect x="118.05" y="533.80" width="0.99" height="0.50" fill="#ef9b82" fill-opacity="0.92"/>
<rect x="119.28" y="533.57" width="0.99" height="0.73" fill="#ef9b82" fill-opacity="0.92"/>
<rect x="120.52" y="533.78" width="0.99" height="0.52" fill="#ef9b82" fill-opacity="0.92"/>
<rect x="121.75" y="533.80" width="0.99" height="0.50" fill="#ef9b82" fill-opacity="0.92"/>
<rect x="122.99" y="533.76" width="0.99" height="0.54" fill="#ef9b82" fill-opacity="0.92"/>
<rect x="124.22" y="533.66" width="0.99" height="0.64" fill="#3b8c4b" fill-opacity="0.92"/>
<rect x="125.45" y="533.70" width="0.99" height="0.60" fill="#3b8c4b" fill-opacity="0.92"/>
<rect x="126.69" y="533.80" width="0.99" height="0.50" fill="#3b8c4b" fill-opacity="0.92"/>
<rect x="127.92" y="533.80" width="0.99" height="0.50" fill="#3b8c4b" fill-opacity="0.92"/>
<rect x="129.16" y="533.80" width="0.99" height="0.50" fill="#3b8c4b" fill-opacity="0.92"/>
<rect x="130.39" y="533.80" width="0.99" height="0.50" fill="#3b8c4b" fill-opacity="0.92"/>
<rect x="131.63" y="533.80" width="0.99" height="0.50" fill="#3b8c4b" fill-opacity="0.92"/>
<rect x="132.86" y="533.60" width="0.99" height="0.70" fill="#3b8c4b" fill-opacity="0.92"/>
<rect x="134.09" y="533.64" width="0.99" height="0.66" fill="#3b8c4b" fill-opacity="0.92"/>
<rect x="135.33" y="533.80" width="0.99" height="0.50" fill="#3b8c4b" fill-opacity="0.92"/>
<rect x="136.56" y="533.78" width="0.99" height="0.52" fill="#3b8c4b" fill-opacity="0.92"/>
<rect x="137.80" y="533.80" width="0.99" height="0.50" fill="#3b8c4b" fill-opacity="0.92"/>
<rect x="139.03" y="533.62" width="0.99" height="0.68" fill="#3b8c4b" fill-opacity="0.92"/>
<rect x="140.27" y="533.80" width="0.99" height="0.50" fill="#3b8c4b" fill-opacity="0.92"/>
<rect x="141.50" y="533.80" width="0.99" height="0.50" fill="#3b8c4b" fill-opacity="0.92"/>
<rect x="142.74" y="533.80" width="0.99" height="0.50" fill="#3b8c4b" fill-opacity="0.92"/>
<rect x="143.97" y="533.80" width="0.99" height="0.50" fill="#4f80c6" fill-opacity="0.92"/>
<rect x="145.20" y="533.80" width="0.99" height="0.50" fill="#4f80c6" fill-opacity="0.92"/>
<rect x="146.44" y="533.80" width="0.99" height="0.50" fill="#4f80c6" fill-opacity="0.92"/>
<rect x="147.67" y="533.63" width="0.99" height="0.67" fill="#4f80c6" fill-opacity="0.92"/>
<rect x="148.91" y="533.80" width="0.99" height="0.50" fill="#4f80c6" fill-opacity="0.92"/>
<rect x="150.14" y="533.80" width="0.99" height="0.50" fill="#4f80c6" fill-opacity="0.92"/>
<rect x="151.38" y="533.57" width="0.99" height="0.73" fill="#4f80c6" fill-opacity="0.92"/>
<rect x="152.61" y="533.80" width="0.99" height="0.50" fill="#4f80c6" fill-opacity="0.92"/>
<rect x="153.84" y="533.80" width="0.99" height="0.50" fill="#4f80c6" fill-opacity="0.92"/>
<rect x="155.08" y="533.80" width="0.99" height="0.50" fill="#4f80c6" fill-opacity="0.92"/>
<rect x="156.31" y="533.80" width="0.99" height="0.50" fill="#4f80c6" fill-opacity="0.92"/>
<rect x="157.55" y="533.79" width="0.99" height="0.51" fill="#4f80c6" fill-opacity="0.92"/>
<rect x="158.78" y="533.69" width="0.99" height="0.61" fill="#4f80c6" fill-opacity="0.92"/>
<rect x="160.02" y="533.80" width="0.99" height="0.50" fill="#4f80c6" fill-opacity="0.92"/>
<rect x="161.25" y="533.80" width="0.99" height="0.50" fill="#4f80c6" fill-opacity="0.92"/>
<rect x="162.49" y="533.80" width="0.99" height="0.50" fill="#4f80c6" fill-opacity="0.92"/>
<rect x="45.10" y="537.30" width="19.45" height="3.30" fill="#7f3233"/>
<text x="56.58" y="549.20" font-size="6.2" text-anchor="middle" fill="#111" stroke="#111" stroke-width="0.17">C&gt;A</text>
<rect x="64.85" y="537.30" width="19.45" height="3.30" fill="#858585"/>
<text x="76.32" y="549.20" font-size="6.2" text-anchor="middle" fill="#111" stroke="#111" stroke-width="0.17">C&gt;G</text>
<rect x="84.60" y="537.30" width="19.45" height="3.30" fill="#c22c7c"/>
<text x="96.07" y="549.20" font-size="6.2" text-anchor="middle" fill="#111" stroke="#111" stroke-width="0.17">C&gt;T</text>
<rect x="104.35" y="537.30" width="19.45" height="3.30" fill="#ef9b82"/>
<text x="115.82" y="549.20" font-size="6.2" text-anchor="middle" fill="#111" stroke="#111" stroke-width="0.17">T&gt;A</text>
<rect x="124.10" y="537.30" width="19.45" height="3.30" fill="#3b8c4b"/>
<text x="135.57" y="549.20" font-size="6.2" text-anchor="middle" fill="#111" stroke="#111" stroke-width="0.17">T&gt;C</text>
<rect x="143.85" y="537.30" width="19.45" height="3.30" fill="#4f80c6"/>
<text x="155.32" y="549.20" font-size="6.2" text-anchor="middle" fill="#111" stroke="#111" stroke-width="0.17">T&gt;G</text>
<text x="189.90" y="470.30" font-size="6.35" font-style="italic" fill="#111" stroke="#111" stroke-width="0.17">COSMIC 5/SBS 5</text>
<text x="189.90" y="477.60" font-size="6.35" font-style="italic" fill="#111" stroke="#111" stroke-width="0.17">Etiology: Unknown</text>
<line x1="189.50" y1="497.19" x2="189.50" y2="534.60" stroke="#222" stroke-width="0.5"/>
<line x1="187.90" y1="534.30" x2="189.50" y2="534.30" stroke="#222" stroke-width="0.45"/>
<line x1="187.90" y1="522.03" x2="189.50" y2="522.03" stroke="#222" stroke-width="0.45"/>
<line x1="187.90" y1="509.76" x2="189.50" y2="509.76" stroke="#222" stroke-width="0.45"/>
<line x1="187.90" y1="497.49" x2="189.50" y2="497.49" stroke="#222" stroke-width="0.45"/>
<text x="187.50" y="536.60" font-size="6.4" text-anchor="end" fill="#111" stroke="#111" stroke-width="0.17">0.0</text>
<text x="187.50" y="524.33" font-size="6.4" text-anchor="end" fill="#111" stroke="#111" stroke-width="0.17">0.1</text>
<text x="187.50" y="512.06" font-size="6.4" text-anchor="end" fill="#111" stroke="#111" stroke-width="0.17">0.2</text>
<text x="187.50" y="499.79" font-size="6.4" text-anchor="end" fill="#111" stroke="#111" stroke-width="0.17">0.3</text>
<rect x="190.92" y="533.32" width="0.99" height="0.98" fill="#7f3233" fill-opacity="0.92"/>
<rect x="192.15" y="533.63" width="0.99" height="0.67" fill="#7f3233" fill-opacity="0.92"/>
<rect x="193.38" y="532.91" width="0.99" height="1.39" fill="#7f3233" fill-opacity="0.92"/>
<rect x="194.60" y="532.95" width="0.99" height="1.35" fill="#7f3233" fill-opacity="0.92"/>
<rect x="195.83" y="533.52" width="0.99" height="0.78" fill="#7f3233" fill-opacity="0.92"/>
<rect x="197.06" y="533.18" width="0.99" height="1.12" fill="#7f3233" fill-opacity="0.92"/>
<rect x="198.29" y="533.21" width="0.99" height="1.09" fill="#7f3233" fill-opacity="0.92"/>
<rect x="199.52" y="533.66" width="0.99" height="0.64" fill="#7f3233" fill-opacity="0.92"/>
<rect x="200.75" y="533.06" width="0.99" height="1.24" fill="#7f3233" fill-opacity="0.92"/>
<rect x="201.97" y="533.28" width="0.99" height="1.02" fill="#7f3233" fill-opacity="0.92"/>
<rect x="203.20" y="533.04" width="0.99" height="1.26" fill="#7f3233" fill-opacity="0.92"/>
<rect x="204.43" y="533.29" width="0.99" height="1.01" fill="#7f3233" fill-opacity="0.92"/>
<rect x="205.66" y="533.80" width="0.99" height="0.50" fill="#7f3233" fill-opacity="0.92"/>
<rect x="206.89" y="533.49" width="0.99" height="0.81" fill="#7f3233" fill-opacity="0.92"/>
<rect x="208.11" y="533.79" width="0.99" height="0.51" fill="#7f3233" fill-opacity="0.92"/>
<rect x="209.34" y="532.90" width="0.99" height="1.40" fill="#7f3233" fill-opacity="0.92"/>
<rect x="210.57" y="533.18" width="0.99" height="1.12" fill="#858585" fill-opacity="0.92"/>
<rect x="211.80" y="533.22" width="0.99" height="1.08" fill="#858585" fill-opacity="0.92"/>
<rect x="213.03" y="533.67" width="0.99" height="0.63" fill="#858585" fill-opacity="0.92"/>
<rect x="214.25" y="533.80" width="0.99" height="0.50" fill="#858585" fill-opacity="0.92"/>
<rect x="215.48" y="533.18" width="0.99" height="1.12" fill="#858585" fill-opacity="0.92"/>
<rect x="216.71" y="533.12" width="0.99" height="1.18" fill="#858585" fill-opacity="0.92"/>
<rect x="217.94" y="533.80" width="0.99" height="0.50" fill="#858585" fill-opacity="0.92"/>
<rect x="219.17" y="533.51" width="0.99" height="0.79" fill="#858585" fill-opacity="0.92"/>
<rect x="220.40" y="533.80" width="0.99" height="0.50" fill="#858585" fill-opacity="0.92"/>
<rect x="221.62" y="533.28" width="0.99" height="1.02" fill="#858585" fill-opacity="0.92"/>
<rect x="222.85" y="533.27" width="0.99" height="1.03" fill="#858585" fill-opacity="0.92"/>
<rect x="224.08" y="533.80" width="0.99" height="0.50" fill="#858585" fill-opacity="0.92"/>
<rect x="225.31" y="533.52" width="0.99" height="0.78" fill="#858585" fill-opacity="0.92"/>
<rect x="226.54" y="533.46" width="0.99" height="0.84" fill="#858585" fill-opacity="0.92"/>
<rect x="227.76" y="533.70" width="0.99" height="0.60" fill="#858585" fill-opacity="0.92"/>
<rect x="228.99" y="533.18" width="0.99" height="1.12" fill="#858585" fill-opacity="0.92"/>
<rect x="230.22" y="531.06" width="0.99" height="3.24" fill="#c22c7c" fill-opacity="0.92"/>
<rect x="231.45" y="531.76" width="0.99" height="2.54" fill="#c22c7c" fill-opacity="0.92"/>
<rect x="232.68" y="530.67" width="0.99" height="3.63" fill="#c22c7c" fill-opacity="0.92"/>
<rect x="233.90" y="530.04" width="0.99" height="4.26" fill="#c22c7c" fill-opacity="0.92"/>
<rect x="235.13" y="531.79" width="0.99" height="2.51" fill="#c22c7c" fill-opacity="0.92"/>
<rect x="236.36" y="528.41" width="0.99" height="5.89" fill="#c22c7c" fill-opacity="0.92"/>
<rect x="237.59" y="529.16" width="0.99" height="5.14" fill="#c22c7c" fill-opacity="0.92"/>
<rect x="238.82" y="530.31" width="0.99" height="3.99" fill="#c22c7c" fill-opacity="0.92"/>
<rect x="240.05" y="531.01" width="0.99" height="3.29" fill="#c22c7c" fill-opacity="0.92"/>
<rect x="241.27" y="530.74" width="0.99" height="3.56" fill="#c22c7c" fill-opacity="0.92"/>
<rect x="242.50" y="528.78" width="0.99" height="5.52" fill="#c22c7c" fill-opacity="0.92"/>
<rect x="243.73" y="531.72" width="0.99" height="2.58" fill="#c22c7c" fill-opacity="0.92"/>
<rect x="244.96" y="531.34" width="0.99" height="2.96" fill="#c22c7c" fill-opacity="0.92"/>
<rect x="246.19" y="530.51" width="0.99" height="3.79" fill="#c22c7c" fill-opacity="0.92"/>
<rect x="247.41" y="531.70" width="0.99" height="2.60" fill="#c22c7c" fill-opacity="0.92"/>
<rect x="248.64" y="531.73" width="0.99" height="2.57" fill="#c22c7c" fill-opacity="0.92"/>
<rect x="249.87" y="533.80" width="0.99" height="0.50" fill="#ef9b82" fill-opacity="0.92"/>
<rect x="251.10" y="533.59" width="0.99" height="0.71" fill="#ef9b82" fill-opacity="0.92"/>
<rect x="252.33" y="533.80" width="0.99" height="0.50" fill="#ef9b82" fill-opacity="0.92"/>
<rect x="253.55" y="533.39" width="0.99" height="0.91" fill="#ef9b82" fill-opacity="0.92"/>
<rect x="254.78" y="533.42" width="0.99" height="0.88" fill="#ef9b82" fill-opacity="0.92"/>
<rect x="256.01" y="533.80" width="0.99" height="0.50" fill="#ef9b82" fill-opacity="0.92"/>
<rect x="257.24" y="533.80" width="0.99" height="0.50" fill="#ef9b82" fill-opacity="0.92"/>
<rect x="258.47" y="533.56" width="0.99" height="0.74" fill="#ef9b82" fill-opacity="0.92"/>
<rect x="259.69" y="533.80" width="0.99" height="0.50" fill="#ef9b82" fill-opacity="0.92"/>
<rect x="260.92" y="533.80" width="0.99" height="0.50" fill="#ef9b82" fill-opacity="0.92"/>
<rect x="262.15" y="533.37" width="0.99" height="0.93" fill="#ef9b82" fill-opacity="0.92"/>
<rect x="263.38" y="533.63" width="0.99" height="0.67" fill="#ef9b82" fill-opacity="0.92"/>
<rect x="264.61" y="533.71" width="0.99" height="0.59" fill="#ef9b82" fill-opacity="0.92"/>
<rect x="265.84" y="533.48" width="0.99" height="0.82" fill="#ef9b82" fill-opacity="0.92"/>
<rect x="267.06" y="533.46" width="0.99" height="0.84" fill="#ef9b82" fill-opacity="0.92"/>
<rect x="268.29" y="533.80" width="0.99" height="0.50" fill="#ef9b82" fill-opacity="0.92"/>
<rect x="269.52" y="532.38" width="0.99" height="1.92" fill="#3b8c4b" fill-opacity="0.92"/>
<rect x="270.75" y="526.69" width="0.99" height="7.61" fill="#3b8c4b" fill-opacity="0.92"/>
<rect x="271.98" y="530.85" width="0.99" height="3.45" fill="#3b8c4b" fill-opacity="0.92"/>
<rect x="273.20" y="530.65" width="0.99" height="3.65" fill="#3b8c4b" fill-opacity="0.92"/>
<rect x="274.43" y="528.78" width="0.99" height="5.52" fill="#3b8c4b" fill-opacity="0.92"/>
<rect x="275.66" y="529.69" width="0.99" height="4.61" fill="#3b8c4b" fill-opacity="0.92"/>
<rect x="276.89" y="528.24" width="0.99" height="6.06" fill="#3b8c4b" fill-opacity="0.92"/>
<rect x="278.12" y="532.37" width="0.99" height="1.93" fill="#3b8c4b" fill-opacity="0.92"/>
<rect x="279.35" y="530.95" width="0.99" height="3.35" fill="#3b8c4b" fill-opacity="0.92"/>
<rect x="280.57" y="529.39" width="0.99" height="4.91" fill="#3b8c4b" fill-opacity="0.92"/>
<rect x="281.80" y="528.81" width="0.99" height="5.49" fill="#3b8c4b" fill-opacity="0.92"/>
<rect x="283.03" y="531.67" width="0.99" height="2.63" fill="#3b8c4b" fill-opacity="0.92"/>
<rect x="284.26" y="531.94" width="0.99" height="2.36" fill="#3b8c4b" fill-opacity="0.92"/>
<rect x="285.49" y="530.74" width="0.99" height="3.56" fill="#3b8c4b" fill-opacity="0.92"/>
<rect x="286.71" y="530.86" width="0.99" height="3.44" fill="#3b8c4b" fill-opacity="0.92"/>
<rect x="287.94" y="531.53" width="0.99" height="2.77" fill="#3b8c4b" fill-opacity="0.92"/>
<rect x="289.17" y="533.72" width="0.99" height="0.58" fill="#4f80c6" fill-opacity="0.92"/>
<rect x="290.40" y="533.14" width="0.99" height="1.16" fill="#4f80c6" fill-opacity="0.92"/>
<rect x="291.63" y="533.55" width="0.99" height="0.75" fill="#4f80c6" fill-opacity="0.92"/>
<rect x="292.85" y="533.19" width="0.99" height="1.11" fill="#4f80c6" fill-opacity="0.92"/>
<rect x="294.08" y="533.46" width="0.99" height="0.84" fill="#4f80c6" fill-opacity="0.92"/>
<rect x="295.31" y="533.80" width="0.99" height="0.50" fill="#4f80c6" fill-opacity="0.92"/>
<rect x="296.54" y="533.07" width="0.99" height="1.23" fill="#4f80c6" fill-opacity="0.92"/>
<rect x="297.77" y="533.21" width="0.99" height="1.09" fill="#4f80c6" fill-opacity="0.92"/>
<rect x="299.00" y="533.10" width="0.99" height="1.20" fill="#4f80c6" fill-opacity="0.92"/>
<rect x="300.22" y="533.14" width="0.99" height="1.16" fill="#4f80c6" fill-opacity="0.92"/>
<rect x="301.45" y="533.20" width="0.99" height="1.10" fill="#4f80c6" fill-opacity="0.92"/>
<rect x="302.68" y="533.79" width="0.99" height="0.51" fill="#4f80c6" fill-opacity="0.92"/>
<rect x="303.91" y="533.51" width="0.99" height="0.79" fill="#4f80c6" fill-opacity="0.92"/>
<rect x="305.14" y="533.75" width="0.99" height="0.55" fill="#4f80c6" fill-opacity="0.92"/>
<rect x="306.36" y="533.59" width="0.99" height="0.71" fill="#4f80c6" fill-opacity="0.92"/>
<rect x="307.59" y="533.80" width="0.99" height="0.50" fill="#4f80c6" fill-opacity="0.92"/>
<rect x="190.80" y="537.30" width="19.35" height="3.30" fill="#7f3233"/>
<text x="202.22" y="549.20" font-size="6.2" text-anchor="middle" fill="#111" stroke="#111" stroke-width="0.17">C&gt;A</text>
<rect x="210.45" y="537.30" width="19.35" height="3.30" fill="#858585"/>
<text x="221.88" y="549.20" font-size="6.2" text-anchor="middle" fill="#111" stroke="#111" stroke-width="0.17">C&gt;G</text>
<rect x="230.10" y="537.30" width="19.35" height="3.30" fill="#c22c7c"/>
<text x="241.53" y="549.20" font-size="6.2" text-anchor="middle" fill="#111" stroke="#111" stroke-width="0.17">C&gt;T</text>
<rect x="249.75" y="537.30" width="19.35" height="3.30" fill="#ef9b82"/>
<text x="261.18" y="549.20" font-size="6.2" text-anchor="middle" fill="#111" stroke="#111" stroke-width="0.17">T&gt;A</text>
<rect x="269.40" y="537.30" width="19.35" height="3.30" fill="#3b8c4b"/>
<text x="280.83" y="549.20" font-size="6.2" text-anchor="middle" fill="#111" stroke="#111" stroke-width="0.17">T&gt;C</text>
<rect x="289.05" y="537.30" width="19.35" height="3.30" fill="#4f80c6"/>
<text x="300.48" y="549.20" font-size="6.2" text-anchor="middle" fill="#111" stroke="#111" stroke-width="0.17">T&gt;G</text>
<text x="346.30" y="472.30" font-size="6.35" font-style="italic" fill="#111" stroke="#111" stroke-width="0.17">COSMIC 3/SBS 3</text>
<text x="343.90" y="480.00" font-size="6.35" font-style="italic" fill="#111" stroke="#111" stroke-width="0.17">Etiology: defects in DNA–DSB</text>
<text x="375.80" y="487.60" font-size="6.35" font-style="italic" fill="#111" stroke="#111" stroke-width="0.17">repair by HR</text>
<line x1="332.80" y1="497.19" x2="332.80" y2="534.60" stroke="#222" stroke-width="0.5"/>
<line x1="331.20" y1="534.30" x2="332.80" y2="534.30" stroke="#222" stroke-width="0.45"/>
<line x1="331.20" y1="522.03" x2="332.80" y2="522.03" stroke="#222" stroke-width="0.45"/>
<line x1="331.20" y1="509.76" x2="332.80" y2="509.76" stroke="#222" stroke-width="0.45"/>
<line x1="331.20" y1="497.49" x2="332.80" y2="497.49" stroke="#222" stroke-width="0.45"/>
<text x="330.80" y="536.60" font-size="6.4" text-anchor="end" fill="#111" stroke="#111" stroke-width="0.17">0.0</text>
<text x="330.80" y="524.33" font-size="6.4" text-anchor="end" fill="#111" stroke="#111" stroke-width="0.17">0.1</text>
<text x="330.80" y="512.06" font-size="6.4" text-anchor="end" fill="#111" stroke="#111" stroke-width="0.17">0.2</text>
<text x="330.80" y="499.79" font-size="6.4" text-anchor="end" fill="#111" stroke="#111" stroke-width="0.17">0.3</text>
<rect x="334.72" y="533.17" width="0.99" height="1.13" fill="#7f3233" fill-opacity="0.92"/>
<rect x="335.95" y="532.36" width="0.99" height="1.94" fill="#7f3233" fill-opacity="0.92"/>
<rect x="337.19" y="530.86" width="0.99" height="3.44" fill="#7f3233" fill-opacity="0.92"/>
<rect x="338.42" y="532.63" width="0.99" height="1.67" fill="#7f3233" fill-opacity="0.92"/>
<rect x="339.65" y="533.07" width="0.99" height="1.23" fill="#7f3233" fill-opacity="0.92"/>
<rect x="340.89" y="533.12" width="0.99" height="1.18" fill="#7f3233" fill-opacity="0.92"/>
<rect x="342.12" y="532.39" width="0.99" height="1.91" fill="#7f3233" fill-opacity="0.92"/>
<rect x="343.35" y="532.34" width="0.99" height="1.96" fill="#7f3233" fill-opacity="0.92"/>
<rect x="344.59" y="532.94" width="0.99" height="1.36" fill="#7f3233" fill-opacity="0.92"/>
<rect x="345.82" y="532.72" width="0.99" height="1.58" fill="#7f3233" fill-opacity="0.92"/>
<rect x="347.05" y="533.48" width="0.99" height="0.82" fill="#7f3233" fill-opacity="0.92"/>
<rect x="348.29" y="533.29" width="0.99" height="1.01" fill="#7f3233" fill-opacity="0.92"/>
<rect x="349.52" y="532.38" width="0.99" height="1.92" fill="#7f3233" fill-opacity="0.92"/>
<rect x="350.75" y="532.90" width="0.99" height="1.40" fill="#7f3233" fill-opacity="0.92"/>
<rect x="351.99" y="532.95" width="0.99" height="1.35" fill="#7f3233" fill-opacity="0.92"/>
<rect x="353.22" y="532.68" width="0.99" height="1.62" fill="#7f3233" fill-opacity="0.92"/>
<rect x="354.45" y="533.75" width="0.99" height="0.55" fill="#858585" fill-opacity="0.92"/>
<rect x="355.69" y="533.24" width="0.99" height="1.06" fill="#858585" fill-opacity="0.92"/>
<rect x="356.92" y="533.32" width="0.99" height="0.98" fill="#858585" fill-opacity="0.92"/>
<rect x="358.15" y="532.97" width="0.99" height="1.33" fill="#858585" fill-opacity="0.92"/>
<rect x="359.39" y="533.65" width="0.99" height="0.65" fill="#858585" fill-opacity="0.92"/>
<rect x="360.62" y="532.87" width="0.99" height="1.43" fill="#858585" fill-opacity="0.92"/>
<rect x="361.85" y="533.73" width="0.99" height="0.57" fill="#858585" fill-opacity="0.92"/>
<rect x="363.09" y="533.63" width="0.99" height="0.67" fill="#858585" fill-opacity="0.92"/>
<rect x="364.32" y="533.23" width="0.99" height="1.07" fill="#858585" fill-opacity="0.92"/>
<rect x="365.55" y="533.15" width="0.99" height="1.15" fill="#858585" fill-opacity="0.92"/>
<rect x="366.79" y="533.58" width="0.99" height="0.72" fill="#858585" fill-opacity="0.92"/>
<rect x="368.02" y="533.69" width="0.99" height="0.61" fill="#858585" fill-opacity="0.92"/>
<rect x="369.25" y="532.94" width="0.99" height="1.36" fill="#858585" fill-opacity="0.92"/>
<rect x="370.49" y="533.57" width="0.99" height="0.73" fill="#858585" fill-opacity="0.92"/>
<rect x="371.72" y="533.23" width="0.99" height="1.07" fill="#858585" fill-opacity="0.92"/>
<rect x="372.95" y="533.20" width="0.99" height="1.10" fill="#858585" fill-opacity="0.92"/>
<rect x="374.19" y="532.74" width="0.99" height="1.56" fill="#c22c7c" fill-opacity="0.92"/>
<rect x="375.42" y="532.42" width="0.99" height="1.88" fill="#c22c7c" fill-opacity="0.92"/>
<rect x="376.65" y="532.54" width="0.99" height="1.76" fill="#c22c7c" fill-opacity="0.92"/>
<rect x="377.89" y="531.73" width="0.99" height="2.57" fill="#c22c7c" fill-opacity="0.92"/>
<rect x="379.12" y="533.16" width="0.99" height="1.14" fill="#c22c7c" fill-opacity="0.92"/>
<rect x="380.35" y="530.13" width="0.99" height="4.17" fill="#c22c7c" fill-opacity="0.92"/>
<rect x="381.59" y="529.02" width="0.99" height="5.28" fill="#c22c7c" fill-opacity="0.92"/>
<rect x="382.82" y="532.79" width="0.99" height="1.51" fill="#c22c7c" fill-opacity="0.92"/>
<rect x="384.05" y="532.25" width="0.99" height="2.05" fill="#c22c7c" fill-opacity="0.92"/>
<rect x="385.29" y="532.97" width="0.99" height="1.33" fill="#c22c7c" fill-opacity="0.92"/>
<rect x="386.52" y="532.94" width="0.99" height="1.36" fill="#c22c7c" fill-opacity="0.92"/>
<rect x="387.75" y="532.09" width="0.99" height="2.21" fill="#c22c7c" fill-opacity="0.92"/>
<rect x="388.99" y="533.42" width="0.99" height="0.88" fill="#c22c7c" fill-opacity="0.92"/>
<rect x="390.22" y="532.66" width="0.99" height="1.64" fill="#c22c7c" fill-opacity="0.92"/>
<rect x="391.45" y="531.60" width="0.99" height="2.70" fill="#c22c7c" fill-opacity="0.92"/>
<rect x="392.69" y="531.61" width="0.99" height="2.69" fill="#c22c7c" fill-opacity="0.92"/>
<rect x="393.92" y="533.80" width="0.99" height="0.50" fill="#ef9b82" fill-opacity="0.92"/>
<rect x="395.15" y="533.75" width="0.99" height="0.55" fill="#ef9b82" fill-opacity="0.92"/>
<rect x="396.39" y="533.70" width="0.99" height="0.60" fill="#ef9b82" fill-opacity="0.92"/>
<rect x="397.62" y="533.13" width="0.99" height="1.17" fill="#ef9b82" fill-opacity="0.92"/>
<rect x="398.85" y="533.18" width="0.99" height="1.12" fill="#ef9b82" fill-opacity="0.92"/>
<rect x="400.09" y="533.18" width="0.99" height="1.12" fill="#ef9b82" fill-opacity="0.92"/>
<rect x="401.32" y="533.61" width="0.99" height="0.69" fill="#ef9b82" fill-opacity="0.92"/>
<rect x="402.55" y="533.80" width="0.99" height="0.50" fill="#ef9b82" fill-opacity="0.92"/>
<rect x="403.79" y="533.22" width="0.99" height="1.08" fill="#ef9b82" fill-opacity="0.92"/>
<rect x="405.02" y="533.33" width="0.99" height="0.97" fill="#ef9b82" fill-opacity="0.92"/>
<rect x="406.25" y="533.41" width="0.99" height="0.89" fill="#ef9b82" fill-opacity="0.92"/>
<rect x="407.49" y="533.08" width="0.99" height="1.22" fill="#ef9b82" fill-opacity="0.92"/>
<rect x="408.72" y="533.37" width="0.99" height="0.93" fill="#ef9b82" fill-opacity="0.92"/>
<rect x="409.95" y="533.80" width="0.99" height="0.50" fill="#ef9b82" fill-opacity="0.92"/>
<rect x="411.19" y="533.23" width="0.99" height="1.07" fill="#ef9b82" fill-opacity="0.92"/>
<rect x="412.42" y="533.67" width="0.99" height="0.63" fill="#ef9b82" fill-opacity="0.92"/>
<rect x="413.65" y="533.16" width="0.99" height="1.14" fill="#3b8c4b" fill-opacity="0.92"/>
<rect x="414.89" y="532.89" width="0.99" height="1.41" fill="#3b8c4b" fill-opacity="0.92"/>
<rect x="416.12" y="533.68" width="0.99" height="0.62" fill="#3b8c4b" fill-opacity="0.92"/>
<rect x="417.35" y="533.70" width="0.99" height="0.60" fill="#3b8c4b" fill-opacity="0.92"/>
<rect x="418.59" y="533.70" width="0.99" height="0.60" fill="#3b8c4b" fill-opacity="0.92"/>
<rect x="419.82" y="533.27" width="0.99" height="1.03" fill="#3b8c4b" fill-opacity="0.92"/>
<rect x="421.05" y="533.54" width="0.99" height="0.76" fill="#3b8c4b" fill-opacity="0.92"/>
<rect x="422.29" y="533.22" width="0.99" height="1.08" fill="#3b8c4b" fill-opacity="0.92"/>
<rect x="423.52" y="533.10" width="0.99" height="1.20" fill="#3b8c4b" fill-opacity="0.92"/>
<rect x="424.75" y="533.61" width="0.99" height="0.69" fill="#3b8c4b" fill-opacity="0.92"/>
<rect x="425.99" y="533.19" width="0.99" height="1.11" fill="#3b8c4b" fill-opacity="0.92"/>
<rect x="427.22" y="533.55" width="0.99" height="0.75" fill="#3b8c4b" fill-opacity="0.92"/>
<rect x="428.45" y="533.33" width="0.99" height="0.97" fill="#3b8c4b" fill-opacity="0.92"/>
<rect x="429.69" y="532.92" width="0.99" height="1.38" fill="#3b8c4b" fill-opacity="0.92"/>
<rect x="430.92" y="532.98" width="0.99" height="1.32" fill="#3b8c4b" fill-opacity="0.92"/>
<rect x="432.15" y="533.72" width="0.99" height="0.58" fill="#3b8c4b" fill-opacity="0.92"/>
<rect x="433.39" y="533.01" width="0.99" height="1.29" fill="#4f80c6" fill-opacity="0.92"/>
<rect x="434.62" y="533.25" width="0.99" height="1.05" fill="#4f80c6" fill-opacity="0.92"/>
<rect x="435.85" y="533.68" width="0.99" height="0.62" fill="#4f80c6" fill-opacity="0.92"/>
<rect x="437.09" y="532.46" width="0.99" height="1.84" fill="#4f80c6" fill-opacity="0.92"/>
<rect x="438.32" y="530.62" width="0.99" height="3.68" fill="#4f80c6" fill-opacity="0.92"/>
<rect x="439.55" y="533.27" width="0.99" height="1.03" fill="#4f80c6" fill-opacity="0.92"/>
<rect x="440.79" y="532.50" width="0.99" height="1.80" fill="#4f80c6" fill-opacity="0.92"/>
<rect x="442.02" y="532.81" width="0.99" height="1.49" fill="#4f80c6" fill-opacity="0.92"/>
<rect x="443.25" y="533.00" width="0.99" height="1.30" fill="#4f80c6" fill-opacity="0.92"/>
<rect x="444.49" y="533.67" width="0.99" height="0.63" fill="#4f80c6" fill-opacity="0.92"/>
<rect x="445.72" y="533.57" width="0.99" height="0.73" fill="#4f80c6" fill-opacity="0.92"/>
<rect x="446.95" y="532.28" width="0.99" height="2.02" fill="#4f80c6" fill-opacity="0.92"/>
<rect x="448.19" y="532.24" width="0.99" height="2.06" fill="#4f80c6" fill-opacity="0.92"/>
<rect x="449.42" y="532.82" width="0.99" height="1.48" fill="#4f80c6" fill-opacity="0.92"/>
<rect x="450.65" y="532.36" width="0.99" height="1.94" fill="#4f80c6" fill-opacity="0.92"/>
<rect x="451.89" y="532.76" width="0.99" height="1.54" fill="#4f80c6" fill-opacity="0.92"/>
<rect x="334.60" y="537.30" width="19.43" height="3.30" fill="#7f3233"/>
<text x="346.07" y="549.20" font-size="6.2" text-anchor="middle" fill="#111" stroke="#111" stroke-width="0.17">C&gt;A</text>
<rect x="354.33" y="537.30" width="19.43" height="3.30" fill="#858585"/>
<text x="365.80" y="549.20" font-size="6.2" text-anchor="middle" fill="#111" stroke="#111" stroke-width="0.17">C&gt;G</text>
<rect x="374.07" y="537.30" width="19.43" height="3.30" fill="#c22c7c"/>
<text x="385.53" y="549.20" font-size="6.2" text-anchor="middle" fill="#111" stroke="#111" stroke-width="0.17">C&gt;T</text>
<rect x="393.80" y="537.30" width="19.43" height="3.30" fill="#ef9b82"/>
<text x="405.27" y="549.20" font-size="6.2" text-anchor="middle" fill="#111" stroke="#111" stroke-width="0.17">T&gt;A</text>
<rect x="413.53" y="537.30" width="19.43" height="3.30" fill="#3b8c4b"/>
<text x="425.00" y="549.20" font-size="6.2" text-anchor="middle" fill="#111" stroke="#111" stroke-width="0.17">T&gt;C</text>
<rect x="433.27" y="537.30" width="19.43" height="3.30" fill="#4f80c6"/>
<text x="444.73" y="549.20" font-size="6.2" text-anchor="middle" fill="#111" stroke="#111" stroke-width="0.17">T&gt;G</text>
</g>
<g id="panelD">
<text x="0.90" y="582.20" font-size="12" font-weight="bold" fill="#000" stroke="#000" stroke-width="0.1">D</text>
<line x1="28.75" y1="588.52" x2="111.25" y2="588.52" stroke="#cfcfcf" stroke-width="0.5"/>
<line x1="28.75" y1="612.50" x2="111.25" y2="612.50" stroke="#777777" stroke-width="0.6"/>
<line x1="28.75" y1="636.52" x2="111.25" y2="636.52" stroke="#cfcfcf" stroke-width="0.5"/>
<line x1="28.75" y1="660.50" x2="111.25" y2="660.50" stroke="#777777" stroke-width="0.6"/>
<line x1="51.25" y1="586.25" x2="51.25" y2="684.50" stroke="#9a9a9a" stroke-width="0.45"/>
<line x1="88.75" y1="586.25" x2="88.75" y2="684.50" stroke="#9a9a9a" stroke-width="0.45"/>
<rect x="28.75" y="586.25" width="82.5" height="96.75" fill="none" stroke="#8f8f8f" stroke-width="0.6"/>
<path d="M51.25 593.40C51.42 593.40 51.57 595.82 51.75 597.00C51.93 598.18 52.20 599.50 52.35 600.50C52.50 601.50 52.65 602.08 52.65 603.00C52.65 603.92 52.48 604.92 52.35 606.00C52.22 607.08 51.93 608.25 51.85 609.50C51.77 610.75 51.80 612.15 51.85 613.50C51.90 614.85 51.82 616.35 52.15 617.60C52.48 618.85 52.83 619.60 53.85 621.00C54.87 622.40 57.05 624.42 58.25 626.00C59.45 627.58 60.22 629.00 61.05 630.50C61.88 632.00 62.45 633.50 63.25 635.00C64.05 636.50 65.12 638.08 65.85 639.50C66.58 640.92 67.48 642.17 67.65 643.50C67.82 644.83 67.55 646.08 66.85 647.50C66.15 648.92 64.63 650.67 63.45 652.00C62.27 653.33 60.92 654.33 59.75 655.50C58.58 656.67 57.52 657.58 56.45 659.00C55.38 660.42 54.02 662.42 53.35 664.00C52.68 665.58 52.67 667.00 52.45 668.50C52.23 670.00 52.25 671.53 52.05 673.00C51.85 674.47 51.52 677.30 51.25 677.30C50.98 677.30 50.65 674.47 50.45 673.00C50.25 671.53 50.27 670.00 50.05 668.50C49.83 667.00 49.82 665.58 49.15 664.00C48.48 662.42 47.12 660.42 46.05 659.00C44.98 657.58 43.92 656.67 42.75 655.50C41.58 654.33 40.23 653.33 39.05 652.00C37.87 650.67 36.35 648.92 35.65 647.50C34.95 646.08 34.68 644.83 34.85 643.50C35.02 642.17 35.92 640.92 36.65 639.50C37.38 638.08 38.45 636.50 39.25 635.00C40.05 633.50 40.62 632.00 41.45 630.50C42.28 629.00 43.05 627.58 44.25 626.00C45.45 624.42 47.63 622.40 48.65 621.00C49.67 619.60 50.02 618.85 50.35 617.60C50.68 616.35 50.60 614.85 50.65 613.50C50.70 612.15 50.73 610.75 50.65 609.50C50.57 608.25 50.28 607.08 50.15 606.00C50.02 604.92 49.85 603.92 49.85 603.00C49.85 602.08 50.00 601.50 50.15 600.50C50.30 599.50 50.57 598.18 50.75 597.00C50.93 595.82 51.08 593.40 51.25 593.40Z" fill="#6cb2bd"/>
<path d="M88.75 594.00C88.88 594.00 89.05 597.67 89.15 600.00C89.25 602.33 89.27 605.83 89.35 608.00C89.43 610.17 89.52 611.40 89.65 613.00C89.78 614.60 89.83 616.10 90.15 617.60C90.47 619.10 90.98 620.60 91.55 622.00C92.12 623.40 92.83 624.58 93.55 626.00C94.27 627.42 95.07 629.00 95.85 630.50C96.63 632.00 97.47 633.50 98.25 635.00C99.03 636.50 99.83 638.08 100.55 639.50C101.27 640.92 101.85 641.82 102.55 643.50C103.25 645.18 104.62 648.10 104.75 649.60C104.88 651.10 104.02 651.48 103.35 652.50C102.68 653.52 101.68 654.62 100.75 655.70C99.82 656.78 98.75 657.85 97.75 659.00C96.75 660.15 95.72 661.43 94.75 662.60C93.78 663.77 92.73 664.85 91.95 666.00C91.17 667.15 90.58 668.62 90.05 669.50C89.52 670.38 89.18 671.30 88.75 671.30C88.32 671.30 87.98 670.38 87.45 669.50C86.92 668.62 86.33 667.15 85.55 666.00C84.77 664.85 83.72 663.77 82.75 662.60C81.78 661.43 80.75 660.15 79.75 659.00C78.75 657.85 77.68 656.78 76.75 655.70C75.82 654.62 74.82 653.52 74.15 652.50C73.48 651.48 72.62 651.10 72.75 649.60C72.88 648.10 74.25 645.18 74.95 643.50C75.65 641.82 76.23 640.92 76.95 639.50C77.67 638.08 78.47 636.50 79.25 635.00C80.03 633.50 80.87 632.00 81.65 630.50C82.43 629.00 83.23 627.42 83.95 626.00C84.67 624.58 85.38 623.40 85.95 622.00C86.52 620.60 87.03 619.10 87.35 617.60C87.67 616.10 87.72 614.60 87.85 613.00C87.98 611.40 88.07 610.17 88.15 608.00C88.23 605.83 88.25 602.33 88.35 600.00C88.45 597.67 88.62 594.00 88.75 594.00Z" fill="#b5604f"/>
<line x1="51.40" y1="618.80" x2="51.40" y2="636.60" stroke="#ffffff" stroke-width="0.45" stroke-opacity="0.65"/>
<line x1="51.40" y1="649.60" x2="51.40" y2="670.00" stroke="#ffffff" stroke-width="0.45" stroke-opacity="0.65"/>
<rect x="49.50" y="636.60" width="3.80" height="13.00" fill="none" stroke="#ffffff" stroke-width="0.5" stroke-opacity="0.7"/>
<line x1="49.50" y1="643.80" x2="53.30" y2="643.80" stroke="#ffffff" stroke-width="0.45" stroke-opacity="0.7"/>
<rect x="50.1" y="600.2" width="2.4" height="6.4" fill="none" stroke="#ffffff" stroke-width="0.45" stroke-opacity="0.7"/>
<line x1="88.90" y1="621.30" x2="88.90" y2="637.50" stroke="#ffffff" stroke-width="0.45" stroke-opacity="0.65"/>
<line x1="88.90" y1="653.00" x2="88.90" y2="667.50" stroke="#ffffff" stroke-width="0.45" stroke-opacity="0.65"/>
<rect x="87.00" y="637.50" width="3.80" height="15.50" fill="none" stroke="#ffffff" stroke-width="0.5" stroke-opacity="0.7"/>
<line x1="87.00" y1="646.50" x2="90.80" y2="646.50" stroke="#ffffff" stroke-width="0.45" stroke-opacity="0.7"/>
<text x="51.60" y="628.60" font-size="6.3" text-anchor="middle" fill="#000" stroke="#000" stroke-width="0.17">3.097</text>
<text x="90.80" y="633.60" font-size="6.3" text-anchor="middle" fill="#000" stroke="#000" stroke-width="0.17">2.737</text>
<text x="26.20" y="590.82" font-size="6.2" text-anchor="end" fill="#222" stroke="#222" stroke-width="0.17">31.6</text>
<text x="26.20" y="614.80" font-size="6.2" text-anchor="end" fill="#222" stroke="#222" stroke-width="0.17">10</text>
<text x="26.20" y="638.82" font-size="6.2" text-anchor="end" fill="#222" stroke="#222" stroke-width="0.17">3.16</text>
<text x="26.20" y="662.80" font-size="6.2" text-anchor="end" fill="#222" stroke="#222" stroke-width="0.17">1</text>
<text x="6.50" y="632.80" font-size="6.4" text-anchor="middle" fill="#222" stroke="#222" stroke-width="0.17" transform="rotate(-90 6.50 632.80)">Average TMB (muts/Mb)</text>
<path d="M53.75 585.2V582H88.75V585.2" fill="none" stroke="#222" stroke-width="0.55"/>
<text x="72.40" y="579.20" font-size="7.0" text-anchor="middle" fill="#222" stroke="#222" stroke-width="0.17">ns</text>
<text x="51.25" y="691.80" font-size="6.2" text-anchor="middle" fill="#222" stroke="#222" stroke-width="0.17">RIS</text>
<text x="51.25" y="699.3" font-size="6.2" text-anchor="middle" fill="#222" stroke="#222" stroke-width="0.17">(<tspan font-style="italic">n</tspan> = 46)</text>
<text x="90.00" y="690.60" font-size="6.2" text-anchor="middle" fill="#222" stroke="#222" stroke-width="0.17">SARC</text>
<text x="90.0" y="698.1" font-size="6.2" text-anchor="middle" fill="#222" stroke="#222" stroke-width="0.17">(<tspan font-style="italic">n</tspan> = 48)</text>
<text x="67.60" y="710.30" font-size="6.2" text-anchor="middle" fill="#222" stroke="#222" stroke-width="0.17">Group</text>
<line x1="151.90" y1="592.76" x2="288.90" y2="592.76" stroke="#c9c9c9" stroke-width="0.5"/>
<line x1="151.90" y1="614.00" x2="288.90" y2="614.00" stroke="#8a8a8a" stroke-width="0.6"/>
<line x1="151.90" y1="635.26" x2="288.90" y2="635.26" stroke="#c9c9c9" stroke-width="0.5"/>
<line x1="151.90" y1="656.50" x2="288.90" y2="656.50" stroke="#8a8a8a" stroke-width="0.6"/>
<line x1="151.90" y1="677.76" x2="288.90" y2="677.76" stroke="#c9c9c9" stroke-width="0.5"/>
<line x1="172.20" y1="585.30" x2="172.20" y2="686.20" stroke="#555" stroke-width="0.45"/>
<line x1="199.30" y1="585.30" x2="199.30" y2="686.20" stroke="#555" stroke-width="0.45"/>
<line x1="231.00" y1="585.30" x2="231.00" y2="686.20" stroke="#555" stroke-width="0.45"/>
<line x1="263.70" y1="585.30" x2="263.70" y2="686.20" stroke="#555" stroke-width="0.45"/>
<rect x="151.9" y="585.3" width="136.99999999999997" height="99.30000000000007" fill="none" stroke="#8f8f8f" stroke-width="0.6"/>
<line x1="151.90" y1="585.30" x2="288.90" y2="585.30" stroke="#4a4a4a" stroke-width="0.9"/>
<path d="M172.20 600.50C172.60 600.50 172.63 602.42 173.40 604.00C174.17 605.58 176.00 608.00 176.80 610.00C177.60 612.00 177.88 614.17 178.20 616.00C178.52 617.83 178.58 619.00 178.70 621.00C178.82 623.00 178.87 625.83 178.90 628.00C178.93 630.17 179.02 632.00 178.90 634.00C178.78 636.00 178.45 638.00 178.20 640.00C177.95 642.00 177.72 644.00 177.40 646.00C177.08 648.00 176.63 650.17 176.30 652.00C175.97 653.83 175.72 655.33 175.40 657.00C175.08 658.67 174.72 660.33 174.40 662.00C174.08 663.67 173.77 665.58 173.50 667.00C173.23 668.42 173.02 669.50 172.80 670.50C172.58 671.50 172.40 673.00 172.20 673.00C172.00 673.00 171.82 671.50 171.60 670.50C171.38 669.50 171.17 668.42 170.90 667.00C170.63 665.58 170.32 663.67 170.00 662.00C169.68 660.33 169.32 658.67 169.00 657.00C168.68 655.33 168.43 653.83 168.10 652.00C167.77 650.17 167.32 648.00 167.00 646.00C166.68 644.00 166.45 642.00 166.20 640.00C165.95 638.00 165.62 636.00 165.50 634.00C165.38 632.00 165.47 630.17 165.50 628.00C165.53 625.83 165.58 623.00 165.70 621.00C165.82 619.00 165.88 617.83 166.20 616.00C166.52 614.17 166.80 612.00 167.60 610.00C168.40 608.00 170.23 605.58 171.00 604.00C171.77 602.42 171.80 600.50 172.20 600.50Z" fill="#f08b82"/>
<path d="M199.30 597.00C199.57 597.00 199.82 598.57 200.10 599.50C200.38 600.43 200.63 601.38 201.00 602.60C201.37 603.82 202.20 605.57 202.30 606.80C202.40 608.03 201.88 608.88 201.60 610.00C201.32 611.12 200.82 612.28 200.60 613.50C200.38 614.72 200.22 616.13 200.30 617.30C200.38 618.47 200.72 619.42 201.10 620.50C201.48 621.58 201.82 622.15 202.60 623.80C203.38 625.45 204.88 628.20 205.80 630.40C206.72 632.60 207.65 635.10 208.10 637.00C208.55 638.90 208.77 639.90 208.50 641.80C208.23 643.70 207.38 646.22 206.50 648.40C205.62 650.58 204.13 652.73 203.20 654.90C202.27 657.07 201.43 659.55 200.90 661.40C200.37 663.25 200.27 664.63 200.00 666.00C199.73 667.37 199.53 669.60 199.30 669.60C199.07 669.60 198.87 667.37 198.60 666.00C198.33 664.63 198.23 663.25 197.70 661.40C197.17 659.55 196.33 657.07 195.40 654.90C194.47 652.73 192.98 650.58 192.10 648.40C191.22 646.22 190.37 643.70 190.10 641.80C189.83 639.90 190.05 638.90 190.50 637.00C190.95 635.10 191.88 632.60 192.80 630.40C193.72 628.20 195.22 625.45 196.00 623.80C196.78 622.15 197.12 621.58 197.50 620.50C197.88 619.42 198.22 618.47 198.30 617.30C198.38 616.13 198.22 614.72 198.00 613.50C197.78 612.28 197.28 611.12 197.00 610.00C196.72 608.88 196.20 608.03 196.30 606.80C196.40 605.57 197.23 603.82 197.60 602.60C197.97 601.38 198.22 600.43 198.50 599.50C198.78 598.57 199.03 597.00 199.30 597.00Z" fill="#2aa45a"/>
<path d="M231.00 597.70C231.23 597.70 231.50 600.62 231.70 602.00C231.90 603.38 232.10 604.53 232.20 606.00C232.30 607.47 232.30 609.30 232.30 610.80C232.30 612.30 232.13 613.65 232.20 615.00C232.27 616.35 232.25 617.15 232.70 618.90C233.15 620.65 233.98 623.32 234.90 625.50C235.82 627.68 237.22 629.82 238.20 632.00C239.18 634.18 240.20 636.68 240.80 638.60C241.40 640.52 241.90 641.87 241.80 643.50C241.70 645.13 241.07 646.77 240.20 648.40C239.33 650.03 237.70 651.83 236.60 653.30C235.50 654.77 234.37 656.12 233.60 657.20C232.83 658.28 232.43 659.10 232.00 659.80C231.57 660.50 231.33 661.40 231.00 661.40C230.67 661.40 230.43 660.50 230.00 659.80C229.57 659.10 229.17 658.28 228.40 657.20C227.63 656.12 226.50 654.77 225.40 653.30C224.30 651.83 222.67 650.03 221.80 648.40C220.93 646.77 220.30 645.13 220.20 643.50C220.10 641.87 220.60 640.52 221.20 638.60C221.80 636.68 222.82 634.18 223.80 632.00C224.78 629.82 226.18 627.68 227.10 625.50C228.02 623.32 228.85 620.65 229.30 618.90C229.75 617.15 229.73 616.35 229.80 615.00C229.87 613.65 229.70 612.30 229.70 610.80C229.70 609.30 229.70 607.47 229.80 606.00C229.90 604.53 230.10 603.38 230.30 602.00C230.50 600.62 230.77 597.70 231.00 597.70Z" fill="#4b87c9"/>
<path d="M263.70 623.20C264.03 623.20 264.27 624.58 264.70 625.50C265.13 626.42 265.48 627.35 266.30 628.70C267.12 630.05 268.50 631.95 269.60 633.60C270.70 635.25 272.08 636.70 272.90 638.60C273.72 640.50 274.40 643.10 274.50 645.00C274.60 646.90 274.22 648.35 273.50 650.00C272.78 651.65 271.28 653.43 270.20 654.90C269.12 656.37 267.88 657.73 267.00 658.80C266.12 659.87 265.45 660.60 264.90 661.30C264.35 662.00 264.10 663.00 263.70 663.00C263.30 663.00 263.05 662.00 262.50 661.30C261.95 660.60 261.28 659.87 260.40 658.80C259.52 657.73 258.28 656.37 257.20 654.90C256.12 653.43 254.62 651.65 253.90 650.00C253.18 648.35 252.80 646.90 252.90 645.00C253.00 643.10 253.68 640.50 254.50 638.60C255.32 636.70 256.70 635.25 257.80 633.60C258.90 631.95 260.28 630.05 261.10 628.70C261.92 627.35 262.27 626.42 262.70 625.50C263.13 624.58 263.37 623.20 263.70 623.20Z" fill="#ee2b36"/>
<line x1="172.40" y1="611.00" x2="172.40" y2="627.00" stroke="#ffffff" stroke-width="0.45" stroke-opacity="0.65"/>
<line x1="172.40" y1="645.00" x2="172.40" y2="660.00" stroke="#ffffff" stroke-width="0.45" stroke-opacity="0.65"/>
<rect x="171.10" y="627.00" width="2.60" height="18.00" fill="none" stroke="#ffffff" stroke-width="0.5" stroke-opacity="0.7"/>
<line x1="171.10" y1="633.00" x2="173.70" y2="633.00" stroke="#ffffff" stroke-width="0.45" stroke-opacity="0.7"/>
<line x1="199.50" y1="622.00" x2="199.50" y2="632.00" stroke="#ffffff" stroke-width="0.45" stroke-opacity="0.65"/>
<line x1="199.50" y1="646.00" x2="199.50" y2="659.00" stroke="#ffffff" stroke-width="0.45" stroke-opacity="0.65"/>
<rect x="198.20" y="632.00" width="2.60" height="14.00" fill="none" stroke="#ffffff" stroke-width="0.5" stroke-opacity="0.7"/>
<line x1="198.20" y1="637.00" x2="200.80" y2="637.00" stroke="#ffffff" stroke-width="0.45" stroke-opacity="0.7"/>
<circle cx="199.5" cy="606.8" r="0.9" fill="none" stroke="#fff" stroke-width="0.45"/>
<line x1="231.20" y1="618.00" x2="231.20" y2="631.00" stroke="#ffffff" stroke-width="0.45" stroke-opacity="0.65"/>
<line x1="231.20" y1="647.00" x2="231.20" y2="656.00" stroke="#ffffff" stroke-width="0.45" stroke-opacity="0.65"/>
<rect x="229.90" y="631.00" width="2.60" height="16.00" fill="none" stroke="#ffffff" stroke-width="0.5" stroke-opacity="0.7"/>
<line x1="229.90" y1="641.00" x2="232.50" y2="641.00" stroke="#ffffff" stroke-width="0.45" stroke-opacity="0.7"/>
<circle cx="231.2" cy="608" r="0.8" fill="none" stroke="#fff" stroke-width="0.45"/>
<line x1="263.90" y1="628.00" x2="263.90" y2="637.00" stroke="#ffffff" stroke-width="0.45" stroke-opacity="0.65"/>
<line x1="263.90" y1="651.00" x2="263.90" y2="658.50" stroke="#ffffff" stroke-width="0.45" stroke-opacity="0.65"/>
<rect x="262.60" y="637.00" width="2.60" height="14.00" fill="none" stroke="#ffffff" stroke-width="0.5" stroke-opacity="0.7"/>
<line x1="262.60" y1="645.00" x2="265.20" y2="645.00" stroke="#ffffff" stroke-width="0.45" stroke-opacity="0.7"/>
<text x="173.40" y="623.50" font-size="6.3" text-anchor="middle" fill="#000" stroke="#000" stroke-width="0.17">3.873</text>
<text x="201.20" y="626.10" font-size="6.3" text-anchor="middle" fill="#000" stroke="#000" stroke-width="0.17">3.608</text>
<text x="233.70" y="627.80" font-size="6.3" text-anchor="middle" fill="#000" stroke="#000" stroke-width="0.17">3.245</text>
<text x="264.90" y="634.30" font-size="6.3" text-anchor="middle" fill="#000" stroke="#000" stroke-width="0.17">2.135</text>
<text x="149.30" y="595.06" font-size="6.2" text-anchor="end" fill="#222" stroke="#222" stroke-width="0.17">31.6</text>
<text x="149.30" y="616.30" font-size="6.2" text-anchor="end" fill="#222" stroke="#222" stroke-width="0.17">10</text>
<text x="149.30" y="637.56" font-size="6.2" text-anchor="end" fill="#222" stroke="#222" stroke-width="0.17">3.16</text>
<text x="149.30" y="658.80" font-size="6.2" text-anchor="end" fill="#222" stroke="#222" stroke-width="0.17">1</text>
<text x="128.60" y="630.40" font-size="6.4" text-anchor="middle" fill="#222" stroke="#222" stroke-width="0.17" transform="rotate(-90 128.60 630.40)">Average TMB (muts/Mb)</text>
<path d="M172.2 585.3V580.7H199.3V585.3" fill="none" stroke="#222" stroke-width="0.55"/>
<path d="M231.0 585.3V580.7H263.7V585.3" fill="none" stroke="#222" stroke-width="0.55"/>
<text x="185.50" y="579.40" font-size="7.0" text-anchor="middle" fill="#222" stroke="#222" stroke-width="0.17">ns</text>
<text x="247.00" y="579.40" font-size="7.0" text-anchor="middle" fill="#222" stroke="#222" stroke-width="0.17">ns</text>
<text x="174.2" y="691.8" font-size="6.2" text-anchor="end" fill="#222" stroke="#222" stroke-width="0.17" transform="rotate(-45 174.2 691.8)">SARC-OS</text>
<text x="182.6" y="694.6" font-size="6.2" text-anchor="end" fill="#222" stroke="#222" stroke-width="0.17" transform="rotate(-45 182.6 694.6)">(<tspan font-style="italic">n</tspan> = 6)</text>
<text x="200.6" y="691.8" font-size="6.2" text-anchor="end" fill="#222" stroke="#222" stroke-width="0.17" transform="rotate(-45 200.6 691.8)">RIOS</text>
<text x="209.0" y="694.6" font-size="6.2" text-anchor="end" fill="#222" stroke="#222" stroke-width="0.17" transform="rotate(-45 209.0 694.6)">(<tspan font-style="italic">n</tspan> = 12)</text>
<text x="233.0" y="691.8" font-size="6.2" text-anchor="end" fill="#222" stroke="#222" stroke-width="0.17" transform="rotate(-45 233.0 691.8)">RIFS</text>
<text x="241.4" y="694.6" font-size="6.2" text-anchor="end" fill="#222" stroke="#222" stroke-width="0.17" transform="rotate(-45 241.4 694.6)">(<tspan font-style="italic">n</tspan> = 26)</text>
<text x="266.0" y="691.8" font-size="6.2" text-anchor="end" fill="#222" stroke="#222" stroke-width="0.17" transform="rotate(-45 266.0 691.8)">SARC-FS</text>
<text x="275.6" y="694.6" font-size="6.2" text-anchor="end" fill="#222" stroke="#222" stroke-width="0.17" transform="rotate(-45 275.6 694.6)">(<tspan font-style="italic">n</tspan> = 14)</text>
<text x="205.80" y="721.40" font-size="6.2" text-anchor="middle" fill="#222" stroke="#222" stroke-width="0.17">Group</text>
</g>
<g id="panelE">
<text x="302.90" y="583.10" font-size="12" font-weight="bold" fill="#000" stroke="#000" stroke-width="0.1">E</text>
<rect x="338.8" y="668.59" width="24.70" height="14.61" fill="#fff" stroke="#666" stroke-width="0.6"/>
<rect x="366.9" y="669.39" width="24.30" height="13.81" fill="#fff" stroke="#666" stroke-width="0.6"/>
<path d="M334.6 591.0V683.2H394.6" fill="none" stroke="#333" stroke-width="0.6"/>
<line x1="333.10" y1="683.20" x2="334.60" y2="683.20" stroke="#333" stroke-width="0.5"/>
<text x="332.20" y="685.40" font-size="6.2" text-anchor="end" fill="#4a4a4a" stroke="#4a4a4a" stroke-width="0.17">0</text>
<line x1="333.10" y1="660.28" x2="334.60" y2="660.28" stroke="#333" stroke-width="0.5"/>
<text x="332.20" y="662.48" font-size="6.2" text-anchor="end" fill="#4a4a4a" stroke="#4a4a4a" stroke-width="0.17">400</text>
<line x1="333.10" y1="637.35" x2="334.60" y2="637.35" stroke="#333" stroke-width="0.5"/>
<text x="332.20" y="639.55" font-size="6.2" text-anchor="end" fill="#4a4a4a" stroke="#4a4a4a" stroke-width="0.17">800</text>
<line x1="333.10" y1="614.42" x2="334.60" y2="614.42" stroke="#333" stroke-width="0.5"/>
<text x="332.20" y="616.62" font-size="6.2" text-anchor="end" fill="#4a4a4a" stroke="#4a4a4a" stroke-width="0.17">1,200</text>
<line x1="333.10" y1="591.50" x2="334.60" y2="591.50" stroke="#333" stroke-width="0.5"/>
<text x="332.20" y="593.70" font-size="6.2" text-anchor="end" fill="#4a4a4a" stroke="#4a4a4a" stroke-width="0.17">1,600</text>
<line x1="351.15" y1="683.20" x2="351.15" y2="684.70" stroke="#333" stroke-width="0.5"/>
<line x1="379.05" y1="683.20" x2="379.05" y2="684.70" stroke="#333" stroke-width="0.5"/>
<circle cx="341.44" cy="675.69" r="1.15" fill="#4474b4"/>
<circle cx="351.87" cy="675.59" r="1.15" fill="#5c878c"/>
<circle cx="345.50" cy="666.88" r="1.15" fill="#4474b4"/>
<circle cx="358.17" cy="678.50" r="1.15" fill="#3c978b"/>
<circle cx="349.47" cy="671.60" r="1.15" fill="#4474b4"/>
<circle cx="360.10" cy="678.42" r="1.15" fill="#4474b4"/>
<circle cx="351.01" cy="663.63" r="1.15" fill="#4474b4"/>
<circle cx="343.21" cy="669.78" r="1.15" fill="#5c878c"/>
<circle cx="360.82" cy="661.42" r="1.15" fill="#3c978b"/>
<circle cx="357.34" cy="673.23" r="1.15" fill="#3c978b"/>
<circle cx="349.74" cy="668.63" r="1.15" fill="#4474b4"/>
<circle cx="358.56" cy="672.27" r="1.15" fill="#4474b4"/>
<circle cx="350.14" cy="674.16" r="1.15" fill="#4474b4"/>
<circle cx="358.72" cy="670.10" r="1.15" fill="#5c878c"/>
<circle cx="350.15" cy="675.93" r="1.15" fill="#5c878c"/>
<circle cx="356.08" cy="672.58" r="1.15" fill="#4474b4"/>
<circle cx="346.66" cy="666.69" r="1.15" fill="#4474b4"/>
<circle cx="343.55" cy="670.58" r="1.15" fill="#4474b4"/>
<circle cx="361.65" cy="672.83" r="1.15" fill="#4474b4"/>
<circle cx="353.88" cy="670.57" r="1.15" fill="#5c878c"/>
<circle cx="347.68" cy="673.57" r="1.15" fill="#4474b4"/>
<circle cx="346.25" cy="670.02" r="1.15" fill="#4474b4"/>
<circle cx="359.05" cy="673.31" r="1.15" fill="#3c978b"/>
<circle cx="357.30" cy="672.72" r="1.15" fill="#4474b4"/>
<circle cx="355.33" cy="672.56" r="1.15" fill="#3c978b"/>
<circle cx="356.73" cy="670.76" r="1.15" fill="#3c978b"/>
<circle cx="355.55" cy="669.93" r="1.15" fill="#4474b4"/>
<circle cx="350.84" cy="666.84" r="1.15" fill="#4474b4"/>
<circle cx="355.25" cy="671.98" r="1.15" fill="#3c978b"/>
<circle cx="360.73" cy="673.72" r="1.15" fill="#4474b4"/>
<circle cx="352.88" cy="676.53" r="1.15" fill="#3c978b"/>
<circle cx="352.16" cy="672.64" r="1.15" fill="#4474b4"/>
<circle cx="354.84" cy="666.89" r="1.15" fill="#4474b4"/>
<circle cx="357.96" cy="674.93" r="1.15" fill="#4474b4"/>
<circle cx="357.55" cy="678.76" r="1.15" fill="#3c978b"/>
<circle cx="354.25" cy="666.93" r="1.15" fill="#4474b4"/>
<circle cx="358.21" cy="673.30" r="1.15" fill="#3c978b"/>
<circle cx="358.52" cy="672.73" r="1.15" fill="#4474b4"/>
<circle cx="355.20" cy="668.24" r="1.15" fill="#5c878c"/>
<circle cx="360.97" cy="669.66" r="1.15" fill="#5c878c"/>
<circle cx="351.78" cy="669.28" r="1.15" fill="#4474b4"/>
<circle cx="358.39" cy="672.92" r="1.15" fill="#4474b4"/>
<circle cx="350.66" cy="662.02" r="1.15" fill="#5c878c"/>
<circle cx="351.35" cy="601.07" r="1.15" fill="#4474b4"/>
<circle cx="351.35" cy="626.40" r="1.15" fill="#3c978b"/>
<circle cx="351.35" cy="657.01" r="1.15" fill="#4474b4"/>
<path d="M383.69 669.32L385.25 672.21L382.12 672.21Z" fill="#5c878c"/>
<path d="M372.13 671.95L373.69 674.84L370.56 674.84Z" fill="#5c878c"/>
<path d="M380.76 664.18L382.32 667.07L379.19 667.07Z" fill="#5c878c"/>
<path d="M377.38 666.27L378.95 669.15L375.81 669.15Z" fill="#f4929b"/>
<path d="M384.85 674.40L386.41 677.28L383.28 677.28Z" fill="#f4929b"/>
<path d="M383.70 671.99L385.27 674.88L382.13 674.88Z" fill="#f4929b"/>
<path d="M371.88 661.21L373.44 664.10L370.31 664.10Z" fill="#e6353b"/>
<path d="M382.22 670.08L383.78 672.97L380.65 672.97Z" fill="#e6353b"/>
<path d="M382.97 671.34L384.54 674.23L381.41 674.23Z" fill="#e6353b"/>
<path d="M369.38 668.17L370.95 671.05L367.82 671.05Z" fill="#f4929b"/>
<path d="M373.27 669.71L374.84 672.60L371.71 672.60Z" fill="#e6353b"/>
<path d="M371.32 669.53L372.88 672.42L369.75 672.42Z" fill="#e6353b"/>
<path d="M372.33 676.97L373.90 679.85L370.76 679.85Z" fill="#e6353b"/>
<path d="M369.25 668.25L370.82 671.14L367.68 671.14Z" fill="#e6353b"/>
<path d="M376.52 673.79L378.09 676.67L374.96 676.67Z" fill="#e6353b"/>
<path d="M380.95 661.91L382.52 664.80L379.38 664.80Z" fill="#f4929b"/>
<path d="M387.56 667.50L389.12 670.39L385.99 670.39Z" fill="#e6353b"/>
<path d="M377.05 669.41L378.62 672.30L375.49 672.30Z" fill="#e6353b"/>
<path d="M377.15 661.22L378.72 664.11L375.58 664.11Z" fill="#e6353b"/>
<path d="M386.04 665.68L387.61 668.56L384.47 668.56Z" fill="#e6353b"/>
<path d="M369.26 674.33L370.83 677.21L367.69 677.21Z" fill="#e6353b"/>
<path d="M370.50 672.28L372.07 675.17L368.93 675.17Z" fill="#f4929b"/>
<path d="M375.66 663.81L377.23 666.69L374.09 666.69Z" fill="#f4929b"/>
<path d="M388.72 676.43L390.29 679.31L387.15 679.31Z" fill="#f4929b"/>
<path d="M377.34 671.02L378.91 673.91L375.78 673.91Z" fill="#5c878c"/>
<path d="M382.05 658.58L383.62 661.46L380.48 661.46Z" fill="#5c878c"/>
<path d="M371.50 661.27L373.07 664.16L369.93 664.16Z" fill="#e6353b"/>
<path d="M380.40 665.47L381.96 668.36L378.83 668.36Z" fill="#f4929b"/>
<path d="M388.92 676.88L390.49 679.77L387.36 679.77Z" fill="#3c978b"/>
<path d="M375.91 665.70L377.48 668.59L374.34 668.59Z" fill="#f4929b"/>
<path d="M368.52 663.89L370.09 666.78L366.95 666.78Z" fill="#3c978b"/>
<path d="M380.44 666.14L382.01 669.02L378.87 669.02Z" fill="#e6353b"/>
<path d="M371.47 676.45L373.04 679.33L369.90 679.33Z" fill="#f4929b"/>
<path d="M387.31 675.68L388.87 678.56L385.74 678.56Z" fill="#f4929b"/>
<path d="M377.61 675.00L379.18 677.89L376.04 677.89Z" fill="#e6353b"/>
<path d="M374.65 673.61L376.22 676.49L373.08 676.49Z" fill="#e6353b"/>
<path d="M376.51 670.89L378.08 673.77L374.95 673.77Z" fill="#3c978b"/>
<path d="M387.78 670.95L389.35 673.84L386.21 673.84Z" fill="#3c978b"/>
<path d="M373.98 665.54L375.55 668.43L372.41 668.43Z" fill="#f4929b"/>
<path d="M378.97 666.09L380.54 668.98L377.40 668.98Z" fill="#3c978b"/>
<path d="M375.23 667.79L376.80 670.68L373.67 670.68Z" fill="#e6353b"/>
<path d="M378.88 675.15L380.44 678.03L377.31 678.03Z" fill="#3c978b"/>
<path d="M378.56 679.04L380.13 681.93L377.00 681.93Z" fill="#e6353b"/>
<path d="M378.55 639.14L380.12 642.03L376.98 642.03Z" fill="#f4929b"/>
<path d="M373.05 647.16L374.62 650.05L371.48 650.05Z" fill="#e6353b"/>
<path d="M381.05 649.46L382.62 652.34L379.48 652.34Z" fill="#e6353b"/>
<path d="M376.05 654.61L377.62 657.50L374.48 657.50Z" fill="#e6353b"/>
<path d="M385.05 656.91L386.62 659.79L383.48 659.79Z" fill="#5c878c"/>
<text x="349.60" y="637.00" font-size="6.3" text-anchor="middle" fill="#222" stroke="#222" stroke-width="0.17">255</text>
<text x="381.20" y="647.50" font-size="6.3" text-anchor="middle" fill="#222" stroke="#222" stroke-width="0.17">241</text>
<path d="M350.3 598.4000000000001V596.2H378.5V598.4000000000001" fill="none" stroke="#222" stroke-width="0.55"/>
<text x="364.40" y="594.90" font-size="7.0" text-anchor="middle" fill="#222" stroke="#222" stroke-width="0.17">ns</text>
<text x="351.35" y="689.50" font-size="6.2" text-anchor="middle" fill="#4a4a4a" stroke="#4a4a4a" stroke-width="0.17">RIS</text>
<text x="379.45" y="689.50" font-size="6.2" text-anchor="middle" fill="#4a4a4a" stroke="#4a4a4a" stroke-width="0.17">SARC</text>
<text x="351.3" y="695.8" font-size="4.6" text-anchor="middle" fill="#555">(<tspan font-style="italic">n</tspan> = 46)</text>
<text x="379.4" y="695.8" font-size="4.6" text-anchor="middle" fill="#555">(<tspan font-style="italic">n</tspan> = 48)</text>
<text x="365.30" y="707.20" font-size="6.2" text-anchor="middle" fill="#222" stroke="#222" stroke-width="0.17">Group</text>
<text x="311.40" y="636.35" font-size="6.6" text-anchor="middle" fill="#222" stroke="#222" stroke-width="0.17" transform="rotate(-90 311.40 636.35)">Total neoantigen count</text>
<rect x="441.5" y="669.25" width="24.70" height="14.15" fill="#fff" stroke="#666" stroke-width="0.6"/>
<rect x="469.2" y="676.06" width="24.30" height="7.34" fill="#fff" stroke="#666" stroke-width="0.6"/>
<path d="M437.4 591.1V683.4H495.8" fill="none" stroke="#333" stroke-width="0.6"/>
<line x1="435.90" y1="683.40" x2="437.40" y2="683.40" stroke="#333" stroke-width="0.5"/>
<text x="435.00" y="685.60" font-size="6.2" text-anchor="end" fill="#4a4a4a" stroke="#4a4a4a" stroke-width="0.17">0</text>
<line x1="435.90" y1="652.80" x2="437.40" y2="652.80" stroke="#333" stroke-width="0.5"/>
<text x="435.00" y="655.00" font-size="6.2" text-anchor="end" fill="#4a4a4a" stroke="#4a4a4a" stroke-width="0.17">400</text>
<line x1="435.90" y1="622.20" x2="437.40" y2="622.20" stroke="#333" stroke-width="0.5"/>
<text x="435.00" y="624.40" font-size="6.2" text-anchor="end" fill="#4a4a4a" stroke="#4a4a4a" stroke-width="0.17">800</text>
<line x1="435.90" y1="591.60" x2="437.40" y2="591.60" stroke="#333" stroke-width="0.5"/>
<text x="435.00" y="593.80" font-size="6.2" text-anchor="end" fill="#4a4a4a" stroke="#4a4a4a" stroke-width="0.17">1,200</text>
<line x1="453.85" y1="683.40" x2="453.85" y2="684.90" stroke="#333" stroke-width="0.5"/>
<line x1="481.35" y1="683.40" x2="481.35" y2="684.90" stroke="#333" stroke-width="0.5"/>
<circle cx="450.17" cy="675.89" r="1.15" fill="#3c978b"/>
<circle cx="447.69" cy="670.72" r="1.15" fill="#4474b4"/>
<circle cx="450.08" cy="662.86" r="1.15" fill="#4474b4"/>
<circle cx="456.63" cy="660.51" r="1.15" fill="#4474b4"/>
<circle cx="459.96" cy="663.87" r="1.15" fill="#4474b4"/>
<circle cx="459.89" cy="671.68" r="1.15" fill="#4474b4"/>
<circle cx="453.79" cy="670.09" r="1.15" fill="#3c978b"/>
<circle cx="448.44" cy="673.12" r="1.15" fill="#3c978b"/>
<circle cx="452.24" cy="677.02" r="1.15" fill="#3c978b"/>
<circle cx="463.83" cy="674.08" r="1.15" fill="#4474b4"/>
<circle cx="451.12" cy="665.85" r="1.15" fill="#4474b4"/>
<circle cx="451.04" cy="670.57" r="1.15" fill="#5c878c"/>
<circle cx="446.78" cy="673.45" r="1.15" fill="#3c978b"/>
<circle cx="448.67" cy="676.25" r="1.15" fill="#5c878c"/>
<circle cx="464.07" cy="672.39" r="1.15" fill="#4474b4"/>
<circle cx="463.45" cy="674.55" r="1.15" fill="#4474b4"/>
<circle cx="456.14" cy="671.73" r="1.15" fill="#5c878c"/>
<circle cx="444.41" cy="669.14" r="1.15" fill="#4474b4"/>
<circle cx="451.46" cy="679.26" r="1.15" fill="#4474b4"/>
<circle cx="463.88" cy="672.38" r="1.15" fill="#3c978b"/>
<circle cx="446.12" cy="677.44" r="1.15" fill="#4474b4"/>
<circle cx="446.05" cy="675.84" r="1.15" fill="#4474b4"/>
<circle cx="455.05" cy="676.81" r="1.15" fill="#4474b4"/>
<circle cx="444.51" cy="664.53" r="1.15" fill="#3c978b"/>
<circle cx="458.23" cy="667.91" r="1.15" fill="#4474b4"/>
<circle cx="451.33" cy="669.06" r="1.15" fill="#3c978b"/>
<circle cx="446.74" cy="675.16" r="1.15" fill="#5c878c"/>
<circle cx="459.69" cy="677.37" r="1.15" fill="#3c978b"/>
<circle cx="453.73" cy="673.72" r="1.15" fill="#5c878c"/>
<circle cx="444.14" cy="670.83" r="1.15" fill="#4474b4"/>
<circle cx="446.83" cy="672.29" r="1.15" fill="#4474b4"/>
<circle cx="444.91" cy="667.80" r="1.15" fill="#3c978b"/>
<circle cx="447.88" cy="673.62" r="1.15" fill="#3c978b"/>
<circle cx="446.88" cy="668.02" r="1.15" fill="#4474b4"/>
<circle cx="455.12" cy="670.59" r="1.15" fill="#4474b4"/>
<circle cx="446.82" cy="673.06" r="1.15" fill="#4474b4"/>
<circle cx="463.45" cy="675.54" r="1.15" fill="#4474b4"/>
<circle cx="463.34" cy="666.93" r="1.15" fill="#4474b4"/>
<circle cx="464.45" cy="665.08" r="1.15" fill="#4474b4"/>
<circle cx="454.80" cy="671.10" r="1.15" fill="#5c878c"/>
<circle cx="454.65" cy="669.63" r="1.15" fill="#4474b4"/>
<circle cx="444.51" cy="673.24" r="1.15" fill="#5c878c"/>
<circle cx="454.76" cy="673.89" r="1.15" fill="#3c978b"/>
<circle cx="454.05" cy="600.78" r="1.15" fill="#4474b4"/>
<circle cx="454.05" cy="627.78" r="1.15" fill="#3c978b"/>
<circle cx="454.05" cy="658.54" r="1.15" fill="#4474b4"/>
<path d="M486.10 676.86L487.66 679.75L484.53 679.75Z" fill="#e6353b"/>
<path d="M472.98 679.70L474.55 682.59L471.41 682.59Z" fill="#5c878c"/>
<path d="M480.37 678.45L481.94 681.34L478.80 681.34Z" fill="#5c878c"/>
<path d="M484.24 675.89L485.80 678.78L482.67 678.78Z" fill="#e6353b"/>
<path d="M483.52 675.61L485.09 678.50L481.95 678.50Z" fill="#e6353b"/>
<path d="M489.34 671.37L490.91 674.26L487.77 674.26Z" fill="#e6353b"/>
<path d="M488.17 673.66L489.74 676.55L486.60 676.55Z" fill="#e6353b"/>
<path d="M483.99 674.53L485.55 677.41L482.42 677.41Z" fill="#5c878c"/>
<path d="M471.56 675.87L473.13 678.75L469.99 678.75Z" fill="#3c978b"/>
<path d="M483.74 680.09L485.31 682.98L482.17 682.98Z" fill="#f4929b"/>
<path d="M479.38 675.87L480.95 678.75L477.81 678.75Z" fill="#5c878c"/>
<path d="M474.79 678.22L476.36 681.11L473.22 681.11Z" fill="#e6353b"/>
<path d="M474.63 674.26L476.19 677.15L473.06 677.15Z" fill="#f4929b"/>
<path d="M478.29 676.85L479.85 679.73L476.72 679.73Z" fill="#e6353b"/>
<path d="M482.10 676.99L483.67 679.88L480.53 679.88Z" fill="#e6353b"/>
<path d="M487.16 677.49L488.73 680.37L485.60 680.37Z" fill="#e6353b"/>
<path d="M487.32 676.87L488.89 679.76L485.75 679.76Z" fill="#e6353b"/>
<path d="M490.93 679.79L492.50 682.68L489.36 682.68Z" fill="#e6353b"/>
<path d="M491.40 679.36L492.97 682.25L489.83 682.25Z" fill="#f4929b"/>
<path d="M488.37 670.65L489.94 673.54L486.80 673.54Z" fill="#3c978b"/>
<path d="M478.16 674.50L479.73 677.39L476.59 677.39Z" fill="#e6353b"/>
<path d="M487.26 677.26L488.83 680.15L485.69 680.15Z" fill="#e6353b"/>
<path d="M475.47 677.02L477.03 679.91L473.90 679.91Z" fill="#e6353b"/>
<path d="M473.33 677.08L474.90 679.96L471.77 679.96Z" fill="#e6353b"/>
<path d="M491.40 674.16L492.97 677.05L489.83 677.05Z" fill="#3c978b"/>
<path d="M486.44 676.03L488.00 678.92L484.87 678.92Z" fill="#e6353b"/>
<path d="M481.81 677.80L483.38 680.69L480.25 680.69Z" fill="#e6353b"/>
<path d="M484.19 680.18L485.76 683.07L482.62 683.07Z" fill="#e6353b"/>
<path d="M476.21 675.64L477.78 678.53L474.64 678.53Z" fill="#e6353b"/>
<path d="M474.96 669.56L476.53 672.45L473.40 672.45Z" fill="#f4929b"/>
<path d="M490.72 672.23L492.28 675.12L489.15 675.12Z" fill="#e6353b"/>
<path d="M472.98 675.15L474.55 678.04L471.41 678.04Z" fill="#e6353b"/>
<path d="M472.02 677.65L473.59 680.54L470.45 680.54Z" fill="#5c878c"/>
<path d="M488.77 678.76L490.34 681.65L487.20 681.65Z" fill="#e6353b"/>
<path d="M475.46 675.80L477.02 678.69L473.89 678.69Z" fill="#f4929b"/>
<path d="M476.61 677.20L478.17 680.09L475.04 680.09Z" fill="#e6353b"/>
<path d="M487.69 678.69L489.25 681.58L486.12 681.58Z" fill="#e6353b"/>
<path d="M487.39 667.64L488.96 670.52L485.82 670.52Z" fill="#3c978b"/>
<path d="M490.44 678.34L492.00 681.23L488.87 681.23Z" fill="#3c978b"/>
<path d="M490.21 677.52L491.78 680.40L488.64 680.40Z" fill="#3c978b"/>
<path d="M472.79 680.21L474.36 683.10L471.22 683.10Z" fill="#3c978b"/>
<path d="M476.02 667.25L477.58 670.13L474.45 670.13Z" fill="#e6353b"/>
<path d="M481.17 676.53L482.74 679.42L479.61 679.42Z" fill="#f4929b"/>
<path d="M488.46 676.28L490.03 679.17L486.90 679.17Z" fill="#e6353b"/>
<path d="M481.35 640.06L482.92 642.94L479.78 642.94Z" fill="#f4929b"/>
<path d="M481.35 656.50L482.92 659.39L479.78 659.39Z" fill="#e6353b"/>
<path d="M481.85 662.62L483.42 665.51L480.28 665.51Z" fill="#3c978b"/>
<path d="M481.35 666.45L482.92 669.34L479.78 669.34Z" fill="#5c878c"/>
<text x="453.50" y="644.50" font-size="6.3" text-anchor="middle" fill="#222" stroke="#222" stroke-width="0.17">185</text>
<text x="479.60" y="655.00" font-size="6.3" text-anchor="middle" fill="#222" stroke="#222" stroke-width="0.17">96</text>
<path d="M453.5 598.4000000000001V596.2H480.8V598.4000000000001" fill="none" stroke="#222" stroke-width="0.55"/>
<text x="467.15" y="597.40" font-size="7.4" text-anchor="middle" fill="#222" stroke="#222" stroke-width="0.17">****</text>
<text x="454.05" y="689.70" font-size="6.2" text-anchor="middle" fill="#4a4a4a" stroke="#4a4a4a" stroke-width="0.17">RIS</text>
<text x="481.75" y="689.70" font-size="6.2" text-anchor="middle" fill="#4a4a4a" stroke="#4a4a4a" stroke-width="0.17">SARC</text>
<text x="454.1" y="696.0" font-size="4.6" text-anchor="middle" fill="#555">(<tspan font-style="italic">n</tspan> = 46)</text>
<text x="481.8" y="696.0" font-size="4.6" text-anchor="middle" fill="#555">(<tspan font-style="italic">n</tspan> = 48)</text>
<text x="468.80" y="707.40" font-size="6.2" text-anchor="middle" fill="#222" stroke="#222" stroke-width="0.17">Group</text>
<text x="410.60" y="636.50" font-size="6.6" text-anchor="middle" fill="#222" stroke="#222" stroke-width="0.17" transform="rotate(-90 410.60 636.50)">Estimated strong binding</text>
<text x="418.00" y="636.50" font-size="6.6" text-anchor="middle" fill="#222" stroke="#222" stroke-width="0.17" transform="rotate(-90 418.00 636.50)">neoantigen count</text>
<text x="494.00" y="604.20" font-size="6.3" fill="#000" stroke="#000" stroke-width="0.17">Group</text>
<circle cx="495.20" cy="611.30" r="1.2" fill="#000"/>
<text x="498.60" y="613.50" font-size="6.3" fill="#000" stroke="#000" stroke-width="0.17">RIS</text>
<path d="M495.20 616.70L496.62 619.33L493.77 619.33Z" fill="#000"/>
<text x="498.60" y="620.30" font-size="6.3" fill="#000" stroke="#000" stroke-width="0.17">SARC</text>
<text x="493.00" y="634.20" font-size="6.3" fill="#000" stroke="#000" stroke-width="0.17">Histology</text>
<circle cx="495.20" cy="639.60" r="1.25" fill="#4474b4"/>
<text x="499.00" y="641.80" font-size="6.3" fill="#000" stroke="#000" stroke-width="0.17">RIFS</text>
<circle cx="495.20" cy="646.25" r="1.25" fill="#3c978b"/>
<text x="499.00" y="648.45" font-size="6.3" fill="#000" stroke="#000" stroke-width="0.17">RIOS</text>
<circle cx="495.20" cy="652.90" r="1.25" fill="#e6353b"/>
<text x="499.00" y="655.10" font-size="6.3" fill="#000" stroke="#000" stroke-width="0.17">FS</text>
<circle cx="495.20" cy="659.55" r="1.25" fill="#f4929b"/>
<text x="499.00" y="661.75" font-size="6.3" fill="#000" stroke="#000" stroke-width="0.17">OS</text>
<circle cx="495.20" cy="666.20" r="1.25" fill="#5c878c"/>
<text x="499.00" y="668.40" font-size="6.3" fill="#000" stroke="#000" stroke-width="0.17">Others</text>
</g>
</svg>
</body></html>
